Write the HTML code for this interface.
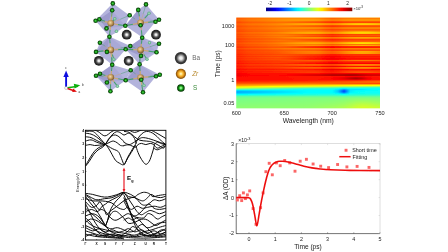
<!DOCTYPE html><html><head><meta charset="utf-8"><title>figure</title><style>html,body{margin:0;padding:0;background:#fff;overflow:hidden}svg{display:block}text{font-family:"Liberation Sans",Arial,sans-serif}</style></head><body>
<svg width="448" height="252" viewBox="0 0 448 252">
<rect width="448" height="252" fill="#fff"/>
<defs><radialGradient id="gS" cx="50%" cy="50%" r="50%"><stop offset="0" stop-color="#58e058"/><stop offset="0.35" stop-color="#22a822"/><stop offset="0.7" stop-color="#0b5c0b"/><stop offset="1" stop-color="#083408"/></radialGradient><radialGradient id="gSf" cx="50%" cy="50%" r="50%"><stop offset="0" stop-color="#b8e8c4"/><stop offset="0.5" stop-color="#7cc49a"/><stop offset="1" stop-color="#5fa488"/></radialGradient><radialGradient id="gZr" cx="42%" cy="40%" r="60%"><stop offset="0" stop-color="#f0d8a8"/><stop offset="0.5" stop-color="#c9a062"/><stop offset="1" stop-color="#7a5a30"/></radialGradient><radialGradient id="gBa" cx="50%" cy="50%" r="50%"><stop offset="0" stop-color="#ffffff"/><stop offset="0.2" stop-color="#e0e0e0"/><stop offset="0.45" stop-color="#707070"/><stop offset="0.7" stop-color="#303030"/><stop offset="1" stop-color="#1c1c1c"/></radialGradient><radialGradient id="gBaL" cx="50%" cy="50%" r="50%"><stop offset="0" stop-color="#ffffff"/><stop offset="0.25" stop-color="#e4e4e4"/><stop offset="0.5" stop-color="#949494"/><stop offset="0.72" stop-color="#404040"/><stop offset="1" stop-color="#262626"/></radialGradient><radialGradient id="gZrL" cx="50%" cy="50%" r="50%"><stop offset="0" stop-color="#fffbe0"/><stop offset="0.3" stop-color="#ffd458"/><stop offset="0.6" stop-color="#e8981c"/><stop offset="0.82" stop-color="#a8680c"/><stop offset="1" stop-color="#7a4806"/></radialGradient><radialGradient id="gSL" cx="50%" cy="50%" r="50%"><stop offset="0" stop-color="#e0ffe0"/><stop offset="0.3" stop-color="#50e050"/><stop offset="0.58" stop-color="#148a14"/><stop offset="0.82" stop-color="#064806"/><stop offset="1" stop-color="#043004"/></radialGradient><linearGradient id="h0" x1="0" y1="0" x2="1" y2="0"><stop offset="0.000" stop-color="#ff6800"/><stop offset="0.042" stop-color="#ff7200"/><stop offset="0.083" stop-color="#ff7c00"/><stop offset="0.125" stop-color="#ff7f00"/><stop offset="0.167" stop-color="#ff8300"/><stop offset="0.208" stop-color="#ff8900"/><stop offset="0.250" stop-color="#ff8f00"/><stop offset="0.292" stop-color="#ff9500"/><stop offset="0.333" stop-color="#ff9a00"/><stop offset="0.375" stop-color="#ff9e00"/><stop offset="0.417" stop-color="#ffa100"/><stop offset="0.458" stop-color="#ffa300"/><stop offset="0.500" stop-color="#ffa300"/><stop offset="0.542" stop-color="#ffa300"/><stop offset="0.583" stop-color="#ff9c00"/><stop offset="0.625" stop-color="#ff8c00"/><stop offset="0.667" stop-color="#ff8100"/><stop offset="0.708" stop-color="#ff8900"/><stop offset="0.750" stop-color="#ff9600"/><stop offset="0.792" stop-color="#ff9c00"/><stop offset="0.833" stop-color="#ff9e00"/><stop offset="0.875" stop-color="#ff9f00"/><stop offset="0.917" stop-color="#ff9f00"/><stop offset="0.958" stop-color="#ffa000"/><stop offset="1.000" stop-color="#ffa000"/></linearGradient><linearGradient id="h1" x1="0" y1="0" x2="1" y2="0"><stop offset="0.000" stop-color="#ff5700"/><stop offset="0.042" stop-color="#ff6100"/><stop offset="0.083" stop-color="#ff6a00"/><stop offset="0.125" stop-color="#ff6e00"/><stop offset="0.167" stop-color="#ff7100"/><stop offset="0.208" stop-color="#ff7500"/><stop offset="0.250" stop-color="#ff7a00"/><stop offset="0.292" stop-color="#ff7e00"/><stop offset="0.333" stop-color="#ff8300"/><stop offset="0.375" stop-color="#ff8600"/><stop offset="0.417" stop-color="#ff8800"/><stop offset="0.458" stop-color="#ff8800"/><stop offset="0.500" stop-color="#ff8800"/><stop offset="0.542" stop-color="#ff8600"/><stop offset="0.583" stop-color="#ff7e00"/><stop offset="0.625" stop-color="#ff6d00"/><stop offset="0.667" stop-color="#ff6100"/><stop offset="0.708" stop-color="#ff6800"/><stop offset="0.750" stop-color="#ff7500"/><stop offset="0.792" stop-color="#ff7a00"/><stop offset="0.833" stop-color="#ff7b00"/><stop offset="0.875" stop-color="#ff7b00"/><stop offset="0.917" stop-color="#ff7a00"/><stop offset="0.958" stop-color="#ff7a00"/><stop offset="1.000" stop-color="#ff7a00"/></linearGradient><linearGradient id="h2" x1="0" y1="0" x2="1" y2="0"><stop offset="0.000" stop-color="#ff6100"/><stop offset="0.042" stop-color="#ff6b00"/><stop offset="0.083" stop-color="#ff7500"/><stop offset="0.125" stop-color="#ff7800"/><stop offset="0.167" stop-color="#ff7d00"/><stop offset="0.208" stop-color="#ff8200"/><stop offset="0.250" stop-color="#ff8800"/><stop offset="0.292" stop-color="#ff8d00"/><stop offset="0.333" stop-color="#ff9200"/><stop offset="0.375" stop-color="#ff9700"/><stop offset="0.417" stop-color="#ff9a00"/><stop offset="0.458" stop-color="#ff9b00"/><stop offset="0.500" stop-color="#ff9b00"/><stop offset="0.542" stop-color="#ff9a00"/><stop offset="0.583" stop-color="#ff9300"/><stop offset="0.625" stop-color="#ff8300"/><stop offset="0.667" stop-color="#ff7800"/><stop offset="0.708" stop-color="#ff7f00"/><stop offset="0.750" stop-color="#ff8d00"/><stop offset="0.792" stop-color="#ff9300"/><stop offset="0.833" stop-color="#ff9400"/><stop offset="0.875" stop-color="#ff9500"/><stop offset="0.917" stop-color="#ff9500"/><stop offset="0.958" stop-color="#ff9600"/><stop offset="1.000" stop-color="#ff9600"/></linearGradient><linearGradient id="h3" x1="0" y1="0" x2="1" y2="0"><stop offset="0.000" stop-color="#ff5f00"/><stop offset="0.042" stop-color="#ff6900"/><stop offset="0.083" stop-color="#ff7300"/><stop offset="0.125" stop-color="#ff7700"/><stop offset="0.167" stop-color="#ff7b00"/><stop offset="0.208" stop-color="#ff8000"/><stop offset="0.250" stop-color="#ff8600"/><stop offset="0.292" stop-color="#ff8c00"/><stop offset="0.333" stop-color="#ff9100"/><stop offset="0.375" stop-color="#ff9500"/><stop offset="0.417" stop-color="#ff9800"/><stop offset="0.458" stop-color="#ff9900"/><stop offset="0.500" stop-color="#ff9a00"/><stop offset="0.542" stop-color="#ff9900"/><stop offset="0.583" stop-color="#ff9200"/><stop offset="0.625" stop-color="#ff8200"/><stop offset="0.667" stop-color="#ff7700"/><stop offset="0.708" stop-color="#ff7e00"/><stop offset="0.750" stop-color="#ff8c00"/><stop offset="0.792" stop-color="#ff9200"/><stop offset="0.833" stop-color="#ff9300"/><stop offset="0.875" stop-color="#ff9400"/><stop offset="0.917" stop-color="#ff9400"/><stop offset="0.958" stop-color="#ff9500"/><stop offset="1.000" stop-color="#ff9500"/></linearGradient><linearGradient id="h4" x1="0" y1="0" x2="1" y2="0"><stop offset="0.000" stop-color="#ff5200"/><stop offset="0.042" stop-color="#ff5d00"/><stop offset="0.083" stop-color="#ff6600"/><stop offset="0.125" stop-color="#ff6a00"/><stop offset="0.167" stop-color="#ff6e00"/><stop offset="0.208" stop-color="#ff7300"/><stop offset="0.250" stop-color="#ff7800"/><stop offset="0.292" stop-color="#ff7c00"/><stop offset="0.333" stop-color="#ff7c00"/><stop offset="0.375" stop-color="#ff7a00"/><stop offset="0.417" stop-color="#ff7600"/><stop offset="0.458" stop-color="#ff7000"/><stop offset="0.500" stop-color="#ff6b00"/><stop offset="0.542" stop-color="#ff6500"/><stop offset="0.583" stop-color="#ff5d00"/><stop offset="0.625" stop-color="#ff4c00"/><stop offset="0.667" stop-color="#ff4100"/><stop offset="0.708" stop-color="#ff4800"/><stop offset="0.750" stop-color="#ff5500"/><stop offset="0.792" stop-color="#ff5b00"/><stop offset="0.833" stop-color="#ff5c00"/><stop offset="0.875" stop-color="#ff5c00"/><stop offset="0.917" stop-color="#ff5c00"/><stop offset="0.958" stop-color="#ff5c00"/><stop offset="1.000" stop-color="#ff5c00"/></linearGradient><linearGradient id="h5" x1="0" y1="0" x2="1" y2="0"><stop offset="0.000" stop-color="#ff4700"/><stop offset="0.042" stop-color="#ff5100"/><stop offset="0.083" stop-color="#ff5b00"/><stop offset="0.125" stop-color="#ff5e00"/><stop offset="0.167" stop-color="#ff6200"/><stop offset="0.208" stop-color="#ff6600"/><stop offset="0.250" stop-color="#ff6a00"/><stop offset="0.292" stop-color="#ff6d00"/><stop offset="0.333" stop-color="#ff6d00"/><stop offset="0.375" stop-color="#ff6a00"/><stop offset="0.417" stop-color="#ff6500"/><stop offset="0.458" stop-color="#ff5f00"/><stop offset="0.500" stop-color="#ff5800"/><stop offset="0.542" stop-color="#ff5200"/><stop offset="0.583" stop-color="#ff4900"/><stop offset="0.625" stop-color="#ff3800"/><stop offset="0.667" stop-color="#ff2c00"/><stop offset="0.708" stop-color="#ff3200"/><stop offset="0.750" stop-color="#ff3e00"/><stop offset="0.792" stop-color="#ff4400"/><stop offset="0.833" stop-color="#ff4400"/><stop offset="0.875" stop-color="#ff4400"/><stop offset="0.917" stop-color="#ff4300"/><stop offset="0.958" stop-color="#ff4300"/><stop offset="1.000" stop-color="#ff4200"/></linearGradient><linearGradient id="h6" x1="0" y1="0" x2="1" y2="0"><stop offset="0.000" stop-color="#ff5600"/><stop offset="0.042" stop-color="#ff6100"/><stop offset="0.083" stop-color="#ff6a00"/><stop offset="0.125" stop-color="#ff6e00"/><stop offset="0.167" stop-color="#ff7200"/><stop offset="0.208" stop-color="#ff7600"/><stop offset="0.250" stop-color="#ff7c00"/><stop offset="0.292" stop-color="#ff8200"/><stop offset="0.333" stop-color="#ff8900"/><stop offset="0.375" stop-color="#ff9100"/><stop offset="0.417" stop-color="#ff9800"/><stop offset="0.458" stop-color="#ff9d00"/><stop offset="0.500" stop-color="#ffa000"/><stop offset="0.542" stop-color="#ffa200"/><stop offset="0.583" stop-color="#ff9b00"/><stop offset="0.625" stop-color="#ff8b00"/><stop offset="0.667" stop-color="#ff8100"/><stop offset="0.708" stop-color="#ff8c00"/><stop offset="0.750" stop-color="#ffa000"/><stop offset="0.792" stop-color="#ffb000"/><stop offset="0.833" stop-color="#ffba00"/><stop offset="0.875" stop-color="#ffbf00"/><stop offset="0.917" stop-color="#ffbc00"/><stop offset="0.958" stop-color="#ffb300"/><stop offset="1.000" stop-color="#ffa900"/></linearGradient><linearGradient id="h7" x1="0" y1="0" x2="1" y2="0"><stop offset="0.000" stop-color="#ff5d00"/><stop offset="0.042" stop-color="#ff6700"/><stop offset="0.083" stop-color="#ff7100"/><stop offset="0.125" stop-color="#ff7500"/><stop offset="0.167" stop-color="#ff7900"/><stop offset="0.208" stop-color="#ff7e00"/><stop offset="0.250" stop-color="#ff8400"/><stop offset="0.292" stop-color="#ff8b00"/><stop offset="0.333" stop-color="#ff9300"/><stop offset="0.375" stop-color="#ff9b00"/><stop offset="0.417" stop-color="#ffa300"/><stop offset="0.458" stop-color="#ffa800"/><stop offset="0.500" stop-color="#ffac00"/><stop offset="0.542" stop-color="#ffae00"/><stop offset="0.583" stop-color="#ffa800"/><stop offset="0.625" stop-color="#ff9900"/><stop offset="0.667" stop-color="#ff8f00"/><stop offset="0.708" stop-color="#ff9b00"/><stop offset="0.750" stop-color="#ffaf00"/><stop offset="0.792" stop-color="#ffbf00"/><stop offset="0.833" stop-color="#ffca00"/><stop offset="0.875" stop-color="#ffcf00"/><stop offset="0.917" stop-color="#ffcd00"/><stop offset="0.958" stop-color="#ffc400"/><stop offset="1.000" stop-color="#ffba00"/></linearGradient><linearGradient id="h8" x1="0" y1="0" x2="1" y2="0"><stop offset="0.000" stop-color="#ff5100"/><stop offset="0.042" stop-color="#ff5b00"/><stop offset="0.083" stop-color="#ff6500"/><stop offset="0.125" stop-color="#ff6900"/><stop offset="0.167" stop-color="#ff6d00"/><stop offset="0.208" stop-color="#ff7200"/><stop offset="0.250" stop-color="#ff7800"/><stop offset="0.292" stop-color="#ff7c00"/><stop offset="0.333" stop-color="#ff7d00"/><stop offset="0.375" stop-color="#ff7b00"/><stop offset="0.417" stop-color="#ff7700"/><stop offset="0.458" stop-color="#ff7200"/><stop offset="0.500" stop-color="#ff6c00"/><stop offset="0.542" stop-color="#ff6700"/><stop offset="0.583" stop-color="#ff5f00"/><stop offset="0.625" stop-color="#ff4e00"/><stop offset="0.667" stop-color="#ff4300"/><stop offset="0.708" stop-color="#ff4a00"/><stop offset="0.750" stop-color="#ff5700"/><stop offset="0.792" stop-color="#ff5d00"/><stop offset="0.833" stop-color="#ff5f00"/><stop offset="0.875" stop-color="#ff5f00"/><stop offset="0.917" stop-color="#ff5f00"/><stop offset="0.958" stop-color="#ff6000"/><stop offset="1.000" stop-color="#ff6000"/></linearGradient><linearGradient id="h9" x1="0" y1="0" x2="1" y2="0"><stop offset="0.000" stop-color="#ff4800"/><stop offset="0.042" stop-color="#ff5200"/><stop offset="0.083" stop-color="#ff5c00"/><stop offset="0.125" stop-color="#ff5f00"/><stop offset="0.167" stop-color="#ff6300"/><stop offset="0.208" stop-color="#ff6800"/><stop offset="0.250" stop-color="#ff6c00"/><stop offset="0.292" stop-color="#ff7000"/><stop offset="0.333" stop-color="#ff7000"/><stop offset="0.375" stop-color="#ff6e00"/><stop offset="0.417" stop-color="#ff6a00"/><stop offset="0.458" stop-color="#ff6400"/><stop offset="0.500" stop-color="#ff5d00"/><stop offset="0.542" stop-color="#ff5800"/><stop offset="0.583" stop-color="#ff4f00"/><stop offset="0.625" stop-color="#ff3e00"/><stop offset="0.667" stop-color="#ff3200"/><stop offset="0.708" stop-color="#ff3900"/><stop offset="0.750" stop-color="#ff4500"/><stop offset="0.792" stop-color="#ff4b00"/><stop offset="0.833" stop-color="#ff4c00"/><stop offset="0.875" stop-color="#ff4c00"/><stop offset="0.917" stop-color="#ff4c00"/><stop offset="0.958" stop-color="#ff4b00"/><stop offset="1.000" stop-color="#ff4b00"/></linearGradient><linearGradient id="h10" x1="0" y1="0" x2="1" y2="0"><stop offset="0.000" stop-color="#ff5000"/><stop offset="0.042" stop-color="#ff5b00"/><stop offset="0.083" stop-color="#ff6400"/><stop offset="0.125" stop-color="#ff6800"/><stop offset="0.167" stop-color="#ff6c00"/><stop offset="0.208" stop-color="#ff7100"/><stop offset="0.250" stop-color="#ff7600"/><stop offset="0.292" stop-color="#ff7c00"/><stop offset="0.333" stop-color="#ff8100"/><stop offset="0.375" stop-color="#ff8500"/><stop offset="0.417" stop-color="#ff8700"/><stop offset="0.458" stop-color="#ff8800"/><stop offset="0.500" stop-color="#ff8800"/><stop offset="0.542" stop-color="#ff8700"/><stop offset="0.583" stop-color="#ff8000"/><stop offset="0.625" stop-color="#ff6f00"/><stop offset="0.667" stop-color="#ff6300"/><stop offset="0.708" stop-color="#ff6a00"/><stop offset="0.750" stop-color="#ff7700"/><stop offset="0.792" stop-color="#ff7d00"/><stop offset="0.833" stop-color="#ff7e00"/><stop offset="0.875" stop-color="#ff7e00"/><stop offset="0.917" stop-color="#ff7e00"/><stop offset="0.958" stop-color="#ff7e00"/><stop offset="1.000" stop-color="#ff7e00"/></linearGradient><linearGradient id="h11" x1="0" y1="0" x2="1" y2="0"><stop offset="0.000" stop-color="#ff5300"/><stop offset="0.042" stop-color="#ff5d00"/><stop offset="0.083" stop-color="#ff6700"/><stop offset="0.125" stop-color="#ff6b00"/><stop offset="0.167" stop-color="#ff6f00"/><stop offset="0.208" stop-color="#ff7400"/><stop offset="0.250" stop-color="#ff7a00"/><stop offset="0.292" stop-color="#ff8000"/><stop offset="0.333" stop-color="#ff8500"/><stop offset="0.375" stop-color="#ff8900"/><stop offset="0.417" stop-color="#ff8c00"/><stop offset="0.458" stop-color="#ff8d00"/><stop offset="0.500" stop-color="#ff8e00"/><stop offset="0.542" stop-color="#ff8d00"/><stop offset="0.583" stop-color="#ff8600"/><stop offset="0.625" stop-color="#ff7500"/><stop offset="0.667" stop-color="#ff6a00"/><stop offset="0.708" stop-color="#ff7100"/><stop offset="0.750" stop-color="#ff7e00"/><stop offset="0.792" stop-color="#ff8400"/><stop offset="0.833" stop-color="#ff8500"/><stop offset="0.875" stop-color="#ff8600"/><stop offset="0.917" stop-color="#ff8600"/><stop offset="0.958" stop-color="#ff8600"/><stop offset="1.000" stop-color="#ff8600"/></linearGradient><linearGradient id="h12" x1="0" y1="0" x2="1" y2="0"><stop offset="0.000" stop-color="#ff4b00"/><stop offset="0.042" stop-color="#ff5500"/><stop offset="0.083" stop-color="#ff5f00"/><stop offset="0.125" stop-color="#ff6200"/><stop offset="0.167" stop-color="#ff6700"/><stop offset="0.208" stop-color="#ff6c00"/><stop offset="0.250" stop-color="#ff7100"/><stop offset="0.292" stop-color="#ff7600"/><stop offset="0.333" stop-color="#ff7800"/><stop offset="0.375" stop-color="#ff7700"/><stop offset="0.417" stop-color="#ff7500"/><stop offset="0.458" stop-color="#ff7100"/><stop offset="0.500" stop-color="#ff6c00"/><stop offset="0.542" stop-color="#ff6800"/><stop offset="0.583" stop-color="#ff6000"/><stop offset="0.625" stop-color="#ff4f00"/><stop offset="0.667" stop-color="#ff4400"/><stop offset="0.708" stop-color="#ff4b00"/><stop offset="0.750" stop-color="#ff5700"/><stop offset="0.792" stop-color="#ff5d00"/><stop offset="0.833" stop-color="#ff5f00"/><stop offset="0.875" stop-color="#ff5f00"/><stop offset="0.917" stop-color="#ff5f00"/><stop offset="0.958" stop-color="#ff5f00"/><stop offset="1.000" stop-color="#ff5f00"/></linearGradient><linearGradient id="h13" x1="0" y1="0" x2="1" y2="0"><stop offset="0.000" stop-color="#ff4700"/><stop offset="0.042" stop-color="#ff5200"/><stop offset="0.083" stop-color="#ff5b00"/><stop offset="0.125" stop-color="#ff5f00"/><stop offset="0.167" stop-color="#ff6300"/><stop offset="0.208" stop-color="#ff6700"/><stop offset="0.250" stop-color="#ff6c00"/><stop offset="0.292" stop-color="#ff7100"/><stop offset="0.333" stop-color="#ff7600"/><stop offset="0.375" stop-color="#ff7a00"/><stop offset="0.417" stop-color="#ff7c00"/><stop offset="0.458" stop-color="#ff7c00"/><stop offset="0.500" stop-color="#ff7c00"/><stop offset="0.542" stop-color="#ff7a00"/><stop offset="0.583" stop-color="#ff7300"/><stop offset="0.625" stop-color="#ff6200"/><stop offset="0.667" stop-color="#ff5600"/><stop offset="0.708" stop-color="#ff5c00"/><stop offset="0.750" stop-color="#ff6900"/><stop offset="0.792" stop-color="#ff6e00"/><stop offset="0.833" stop-color="#ff6f00"/><stop offset="0.875" stop-color="#ff6f00"/><stop offset="0.917" stop-color="#ff6f00"/><stop offset="0.958" stop-color="#ff6f00"/><stop offset="1.000" stop-color="#ff6e00"/></linearGradient><linearGradient id="h14" x1="0" y1="0" x2="1" y2="0"><stop offset="0.000" stop-color="#ff4400"/><stop offset="0.042" stop-color="#ff4e00"/><stop offset="0.083" stop-color="#ff5700"/><stop offset="0.125" stop-color="#ff5b00"/><stop offset="0.167" stop-color="#ff5f00"/><stop offset="0.208" stop-color="#ff6200"/><stop offset="0.250" stop-color="#ff6700"/><stop offset="0.292" stop-color="#ff6d00"/><stop offset="0.333" stop-color="#ff7400"/><stop offset="0.375" stop-color="#ff7c00"/><stop offset="0.417" stop-color="#ff8300"/><stop offset="0.458" stop-color="#ff8800"/><stop offset="0.500" stop-color="#ff8c00"/><stop offset="0.542" stop-color="#ff8d00"/><stop offset="0.583" stop-color="#ff8600"/><stop offset="0.625" stop-color="#ff7500"/><stop offset="0.667" stop-color="#ff6b00"/><stop offset="0.708" stop-color="#ff7600"/><stop offset="0.750" stop-color="#ff8b00"/><stop offset="0.792" stop-color="#ff9c00"/><stop offset="0.833" stop-color="#ffa800"/><stop offset="0.875" stop-color="#ffad00"/><stop offset="0.917" stop-color="#ffa900"/><stop offset="0.958" stop-color="#ff9d00"/><stop offset="1.000" stop-color="#ff9000"/></linearGradient><linearGradient id="h15" x1="0" y1="0" x2="1" y2="0"><stop offset="0.000" stop-color="#ff5600"/><stop offset="0.042" stop-color="#ff6000"/><stop offset="0.083" stop-color="#ff6a00"/><stop offset="0.125" stop-color="#ff6e00"/><stop offset="0.167" stop-color="#ff7200"/><stop offset="0.208" stop-color="#ff7800"/><stop offset="0.250" stop-color="#ff7e00"/><stop offset="0.292" stop-color="#ff8600"/><stop offset="0.333" stop-color="#ff8f00"/><stop offset="0.375" stop-color="#ff9800"/><stop offset="0.417" stop-color="#ffa100"/><stop offset="0.458" stop-color="#ffa700"/><stop offset="0.500" stop-color="#ffac00"/><stop offset="0.542" stop-color="#ffaf00"/><stop offset="0.583" stop-color="#ffa900"/><stop offset="0.625" stop-color="#ff9900"/><stop offset="0.667" stop-color="#ff9000"/><stop offset="0.708" stop-color="#ff9c00"/><stop offset="0.750" stop-color="#ffb200"/><stop offset="0.792" stop-color="#ffc500"/><stop offset="0.833" stop-color="#ffd200"/><stop offset="0.875" stop-color="#ffd800"/><stop offset="0.917" stop-color="#ffd500"/><stop offset="0.958" stop-color="#ffcb00"/><stop offset="1.000" stop-color="#ffbf00"/></linearGradient><linearGradient id="h16" x1="0" y1="0" x2="1" y2="0"><stop offset="0.000" stop-color="#ff5100"/><stop offset="0.042" stop-color="#ff5b00"/><stop offset="0.083" stop-color="#ff6500"/><stop offset="0.125" stop-color="#ff6900"/><stop offset="0.167" stop-color="#ff6d00"/><stop offset="0.208" stop-color="#ff7300"/><stop offset="0.250" stop-color="#ff7900"/><stop offset="0.292" stop-color="#ff8000"/><stop offset="0.333" stop-color="#ff8800"/><stop offset="0.375" stop-color="#ff9200"/><stop offset="0.417" stop-color="#ff9a00"/><stop offset="0.458" stop-color="#ffa000"/><stop offset="0.500" stop-color="#ffa500"/><stop offset="0.542" stop-color="#ffa700"/><stop offset="0.583" stop-color="#ffa100"/><stop offset="0.625" stop-color="#ff9100"/><stop offset="0.667" stop-color="#ff8800"/><stop offset="0.708" stop-color="#ff9400"/><stop offset="0.750" stop-color="#ffaa00"/><stop offset="0.792" stop-color="#ffbc00"/><stop offset="0.833" stop-color="#ffc800"/><stop offset="0.875" stop-color="#ffce00"/><stop offset="0.917" stop-color="#ffcb00"/><stop offset="0.958" stop-color="#ffc100"/><stop offset="1.000" stop-color="#ffb500"/></linearGradient><linearGradient id="h17" x1="0" y1="0" x2="1" y2="0"><stop offset="0.000" stop-color="#ff4500"/><stop offset="0.042" stop-color="#ff4f00"/><stop offset="0.083" stop-color="#ff5900"/><stop offset="0.125" stop-color="#ff5d00"/><stop offset="0.167" stop-color="#ff6100"/><stop offset="0.208" stop-color="#ff6700"/><stop offset="0.250" stop-color="#ff6d00"/><stop offset="0.292" stop-color="#ff7000"/><stop offset="0.333" stop-color="#ff7000"/><stop offset="0.375" stop-color="#ff6b00"/><stop offset="0.417" stop-color="#ff6400"/><stop offset="0.458" stop-color="#ff5b00"/><stop offset="0.500" stop-color="#ff5300"/><stop offset="0.542" stop-color="#ff4c00"/><stop offset="0.583" stop-color="#ff4300"/><stop offset="0.625" stop-color="#ff3300"/><stop offset="0.667" stop-color="#ff2700"/><stop offset="0.708" stop-color="#ff2e00"/><stop offset="0.750" stop-color="#ff3b00"/><stop offset="0.792" stop-color="#ff4100"/><stop offset="0.833" stop-color="#ff4300"/><stop offset="0.875" stop-color="#ff4300"/><stop offset="0.917" stop-color="#ff4300"/><stop offset="0.958" stop-color="#ff4400"/><stop offset="1.000" stop-color="#ff4400"/></linearGradient><linearGradient id="h18" x1="0" y1="0" x2="1" y2="0"><stop offset="0.000" stop-color="#ff4e00"/><stop offset="0.042" stop-color="#ff5800"/><stop offset="0.083" stop-color="#ff6100"/><stop offset="0.125" stop-color="#ff6500"/><stop offset="0.167" stop-color="#ff6a00"/><stop offset="0.208" stop-color="#ff7100"/><stop offset="0.250" stop-color="#ff7800"/><stop offset="0.292" stop-color="#ff7d00"/><stop offset="0.333" stop-color="#ff7d00"/><stop offset="0.375" stop-color="#ff7900"/><stop offset="0.417" stop-color="#ff7300"/><stop offset="0.458" stop-color="#ff6b00"/><stop offset="0.500" stop-color="#ff6300"/><stop offset="0.542" stop-color="#ff5d00"/><stop offset="0.583" stop-color="#ff5400"/><stop offset="0.625" stop-color="#ff4400"/><stop offset="0.667" stop-color="#ff3900"/><stop offset="0.708" stop-color="#ff4100"/><stop offset="0.750" stop-color="#ff4e00"/><stop offset="0.792" stop-color="#ff5500"/><stop offset="0.833" stop-color="#ff5700"/><stop offset="0.875" stop-color="#ff5800"/><stop offset="0.917" stop-color="#ff5900"/><stop offset="0.958" stop-color="#ff5a00"/><stop offset="1.000" stop-color="#ff5b00"/></linearGradient><linearGradient id="h19" x1="0" y1="0" x2="1" y2="0"><stop offset="0.000" stop-color="#ff4300"/><stop offset="0.042" stop-color="#ff4e00"/><stop offset="0.083" stop-color="#ff5700"/><stop offset="0.125" stop-color="#ff5b00"/><stop offset="0.167" stop-color="#ff6000"/><stop offset="0.208" stop-color="#ff6500"/><stop offset="0.250" stop-color="#ff6c00"/><stop offset="0.292" stop-color="#ff6f00"/><stop offset="0.333" stop-color="#ff6f00"/><stop offset="0.375" stop-color="#ff6b00"/><stop offset="0.417" stop-color="#ff6400"/><stop offset="0.458" stop-color="#ff5b00"/><stop offset="0.500" stop-color="#ff5200"/><stop offset="0.542" stop-color="#ff4c00"/><stop offset="0.583" stop-color="#ff4300"/><stop offset="0.625" stop-color="#ff3200"/><stop offset="0.667" stop-color="#ff2700"/><stop offset="0.708" stop-color="#ff2e00"/><stop offset="0.750" stop-color="#ff3b00"/><stop offset="0.792" stop-color="#ff4100"/><stop offset="0.833" stop-color="#ff4200"/><stop offset="0.875" stop-color="#ff4300"/><stop offset="0.917" stop-color="#ff4300"/><stop offset="0.958" stop-color="#ff4300"/><stop offset="1.000" stop-color="#ff4400"/></linearGradient><linearGradient id="h20" x1="0" y1="0" x2="1" y2="0"><stop offset="0.000" stop-color="#ff4d00"/><stop offset="0.042" stop-color="#ff5700"/><stop offset="0.083" stop-color="#ff6000"/><stop offset="0.125" stop-color="#ff6400"/><stop offset="0.167" stop-color="#ff6900"/><stop offset="0.208" stop-color="#ff6f00"/><stop offset="0.250" stop-color="#ff7500"/><stop offset="0.292" stop-color="#ff7c00"/><stop offset="0.333" stop-color="#ff8300"/><stop offset="0.375" stop-color="#ff8a00"/><stop offset="0.417" stop-color="#ff9000"/><stop offset="0.458" stop-color="#ff9400"/><stop offset="0.500" stop-color="#ff9600"/><stop offset="0.542" stop-color="#ff9700"/><stop offset="0.583" stop-color="#ff9100"/><stop offset="0.625" stop-color="#ff8100"/><stop offset="0.667" stop-color="#ff7600"/><stop offset="0.708" stop-color="#ff8000"/><stop offset="0.750" stop-color="#ff9100"/><stop offset="0.792" stop-color="#ff9e00"/><stop offset="0.833" stop-color="#ffa500"/><stop offset="0.875" stop-color="#ffa800"/><stop offset="0.917" stop-color="#ffa700"/><stop offset="0.958" stop-color="#ffa200"/><stop offset="1.000" stop-color="#ff9c00"/></linearGradient><linearGradient id="h21" x1="0" y1="0" x2="1" y2="0"><stop offset="0.000" stop-color="#ff3e00"/><stop offset="0.042" stop-color="#ff4800"/><stop offset="0.083" stop-color="#ff5200"/><stop offset="0.125" stop-color="#ff5600"/><stop offset="0.167" stop-color="#ff5a00"/><stop offset="0.208" stop-color="#ff5e00"/><stop offset="0.250" stop-color="#ff6400"/><stop offset="0.292" stop-color="#ff6900"/><stop offset="0.333" stop-color="#ff7000"/><stop offset="0.375" stop-color="#ff7600"/><stop offset="0.417" stop-color="#ff7b00"/><stop offset="0.458" stop-color="#ff7e00"/><stop offset="0.500" stop-color="#ff7f00"/><stop offset="0.542" stop-color="#ff7f00"/><stop offset="0.583" stop-color="#ff7800"/><stop offset="0.625" stop-color="#ff6700"/><stop offset="0.667" stop-color="#ff5c00"/><stop offset="0.708" stop-color="#ff6500"/><stop offset="0.750" stop-color="#ff7500"/><stop offset="0.792" stop-color="#ff8100"/><stop offset="0.833" stop-color="#ff8700"/><stop offset="0.875" stop-color="#ff8a00"/><stop offset="0.917" stop-color="#ff8700"/><stop offset="0.958" stop-color="#ff8200"/><stop offset="1.000" stop-color="#ff7b00"/></linearGradient><linearGradient id="h22" x1="0" y1="0" x2="1" y2="0"><stop offset="0.000" stop-color="#ff3c00"/><stop offset="0.042" stop-color="#ff4600"/><stop offset="0.083" stop-color="#ff5000"/><stop offset="0.125" stop-color="#ff5400"/><stop offset="0.167" stop-color="#ff5800"/><stop offset="0.208" stop-color="#ff5e00"/><stop offset="0.250" stop-color="#ff6400"/><stop offset="0.292" stop-color="#ff6700"/><stop offset="0.333" stop-color="#ff6800"/><stop offset="0.375" stop-color="#ff6500"/><stop offset="0.417" stop-color="#ff5f00"/><stop offset="0.458" stop-color="#ff5800"/><stop offset="0.500" stop-color="#ff5000"/><stop offset="0.542" stop-color="#ff4a00"/><stop offset="0.583" stop-color="#ff4100"/><stop offset="0.625" stop-color="#ff3000"/><stop offset="0.667" stop-color="#ff2400"/><stop offset="0.708" stop-color="#ff2b00"/><stop offset="0.750" stop-color="#ff3800"/><stop offset="0.792" stop-color="#ff3e00"/><stop offset="0.833" stop-color="#ff3f00"/><stop offset="0.875" stop-color="#ff3f00"/><stop offset="0.917" stop-color="#ff3f00"/><stop offset="0.958" stop-color="#ff3f00"/><stop offset="1.000" stop-color="#ff3f00"/></linearGradient><linearGradient id="h23" x1="0" y1="0" x2="1" y2="0"><stop offset="0.000" stop-color="#ff4400"/><stop offset="0.042" stop-color="#ff4e00"/><stop offset="0.083" stop-color="#ff5800"/><stop offset="0.125" stop-color="#ff5c00"/><stop offset="0.167" stop-color="#ff6100"/><stop offset="0.208" stop-color="#ff6700"/><stop offset="0.250" stop-color="#ff6e00"/><stop offset="0.292" stop-color="#ff7300"/><stop offset="0.333" stop-color="#ff7400"/><stop offset="0.375" stop-color="#ff7100"/><stop offset="0.417" stop-color="#ff6c00"/><stop offset="0.458" stop-color="#ff6500"/><stop offset="0.500" stop-color="#ff5f00"/><stop offset="0.542" stop-color="#ff5900"/><stop offset="0.583" stop-color="#ff5100"/><stop offset="0.625" stop-color="#ff4100"/><stop offset="0.667" stop-color="#ff3500"/><stop offset="0.708" stop-color="#ff3c00"/><stop offset="0.750" stop-color="#ff4a00"/><stop offset="0.792" stop-color="#ff5000"/><stop offset="0.833" stop-color="#ff5200"/><stop offset="0.875" stop-color="#ff5200"/><stop offset="0.917" stop-color="#ff5300"/><stop offset="0.958" stop-color="#ff5300"/><stop offset="1.000" stop-color="#ff5400"/></linearGradient><linearGradient id="h24" x1="0" y1="0" x2="1" y2="0"><stop offset="0.000" stop-color="#ff3b00"/><stop offset="0.042" stop-color="#ff4500"/><stop offset="0.083" stop-color="#ff4f00"/><stop offset="0.125" stop-color="#ff5300"/><stop offset="0.167" stop-color="#ff5700"/><stop offset="0.208" stop-color="#ff5c00"/><stop offset="0.250" stop-color="#ff6200"/><stop offset="0.292" stop-color="#ff6700"/><stop offset="0.333" stop-color="#ff6c00"/><stop offset="0.375" stop-color="#ff7000"/><stop offset="0.417" stop-color="#ff7300"/><stop offset="0.458" stop-color="#ff7300"/><stop offset="0.500" stop-color="#ff7300"/><stop offset="0.542" stop-color="#ff7100"/><stop offset="0.583" stop-color="#ff6a00"/><stop offset="0.625" stop-color="#ff5800"/><stop offset="0.667" stop-color="#ff4c00"/><stop offset="0.708" stop-color="#ff5300"/><stop offset="0.750" stop-color="#ff5f00"/><stop offset="0.792" stop-color="#ff6500"/><stop offset="0.833" stop-color="#ff6500"/><stop offset="0.875" stop-color="#ff6500"/><stop offset="0.917" stop-color="#ff6500"/><stop offset="0.958" stop-color="#ff6500"/><stop offset="1.000" stop-color="#ff6500"/></linearGradient><linearGradient id="h25" x1="0" y1="0" x2="1" y2="0"><stop offset="0.000" stop-color="#ff4600"/><stop offset="0.042" stop-color="#ff5000"/><stop offset="0.083" stop-color="#ff5a00"/><stop offset="0.125" stop-color="#ff5e00"/><stop offset="0.167" stop-color="#ff6200"/><stop offset="0.208" stop-color="#ff6800"/><stop offset="0.250" stop-color="#ff6e00"/><stop offset="0.292" stop-color="#ff7600"/><stop offset="0.333" stop-color="#ff7f00"/><stop offset="0.375" stop-color="#ff8900"/><stop offset="0.417" stop-color="#ff9200"/><stop offset="0.458" stop-color="#ff9900"/><stop offset="0.500" stop-color="#ff9f00"/><stop offset="0.542" stop-color="#ffa100"/><stop offset="0.583" stop-color="#ff9b00"/><stop offset="0.625" stop-color="#ff8b00"/><stop offset="0.667" stop-color="#ff8200"/><stop offset="0.708" stop-color="#ff8f00"/><stop offset="0.750" stop-color="#ffa600"/><stop offset="0.792" stop-color="#ffba00"/><stop offset="0.833" stop-color="#ffc800"/><stop offset="0.875" stop-color="#ffcf00"/><stop offset="0.917" stop-color="#ffcb00"/><stop offset="0.958" stop-color="#ffbf00"/><stop offset="1.000" stop-color="#ffb100"/></linearGradient><linearGradient id="h26" x1="0" y1="0" x2="1" y2="0"><stop offset="0.000" stop-color="#ff4d00"/><stop offset="0.042" stop-color="#ff5700"/><stop offset="0.083" stop-color="#ff6100"/><stop offset="0.125" stop-color="#ff6500"/><stop offset="0.167" stop-color="#ff6a00"/><stop offset="0.208" stop-color="#ff7100"/><stop offset="0.250" stop-color="#ff7800"/><stop offset="0.292" stop-color="#ff8000"/><stop offset="0.333" stop-color="#ff8a00"/><stop offset="0.375" stop-color="#ff9500"/><stop offset="0.417" stop-color="#ff9e00"/><stop offset="0.458" stop-color="#ffa600"/><stop offset="0.500" stop-color="#ffac00"/><stop offset="0.542" stop-color="#ffaf00"/><stop offset="0.583" stop-color="#ffaa00"/><stop offset="0.625" stop-color="#ff9a00"/><stop offset="0.667" stop-color="#ff9200"/><stop offset="0.708" stop-color="#ff9f00"/><stop offset="0.750" stop-color="#ffb600"/><stop offset="0.792" stop-color="#ffcb00"/><stop offset="0.833" stop-color="#ffda00"/><stop offset="0.875" stop-color="#ffe100"/><stop offset="0.917" stop-color="#ffdd00"/><stop offset="0.958" stop-color="#ffd200"/><stop offset="1.000" stop-color="#ffc400"/></linearGradient><linearGradient id="h27" x1="0" y1="0" x2="1" y2="0"><stop offset="0.000" stop-color="#ff3f00"/><stop offset="0.042" stop-color="#ff4a00"/><stop offset="0.083" stop-color="#ff5300"/><stop offset="0.125" stop-color="#ff5700"/><stop offset="0.167" stop-color="#ff5c00"/><stop offset="0.208" stop-color="#ff6200"/><stop offset="0.250" stop-color="#ff6800"/><stop offset="0.292" stop-color="#ff6e00"/><stop offset="0.333" stop-color="#ff7400"/><stop offset="0.375" stop-color="#ff7900"/><stop offset="0.417" stop-color="#ff7c00"/><stop offset="0.458" stop-color="#ff7d00"/><stop offset="0.500" stop-color="#ff7d00"/><stop offset="0.542" stop-color="#ff7c00"/><stop offset="0.583" stop-color="#ff7500"/><stop offset="0.625" stop-color="#ff6400"/><stop offset="0.667" stop-color="#ff5800"/><stop offset="0.708" stop-color="#ff5f00"/><stop offset="0.750" stop-color="#ff6c00"/><stop offset="0.792" stop-color="#ff7200"/><stop offset="0.833" stop-color="#ff7300"/><stop offset="0.875" stop-color="#ff7300"/><stop offset="0.917" stop-color="#ff7400"/><stop offset="0.958" stop-color="#ff7400"/><stop offset="1.000" stop-color="#ff7400"/></linearGradient><linearGradient id="h28" x1="0" y1="0" x2="1" y2="0"><stop offset="0.000" stop-color="#ff4200"/><stop offset="0.042" stop-color="#ff4c00"/><stop offset="0.083" stop-color="#ff5600"/><stop offset="0.125" stop-color="#ff5a00"/><stop offset="0.167" stop-color="#ff5f00"/><stop offset="0.208" stop-color="#ff6400"/><stop offset="0.250" stop-color="#ff6b00"/><stop offset="0.292" stop-color="#ff7200"/><stop offset="0.333" stop-color="#ff7a00"/><stop offset="0.375" stop-color="#ff8300"/><stop offset="0.417" stop-color="#ff8a00"/><stop offset="0.458" stop-color="#ff9000"/><stop offset="0.500" stop-color="#ff9400"/><stop offset="0.542" stop-color="#ff9500"/><stop offset="0.583" stop-color="#ff8f00"/><stop offset="0.625" stop-color="#ff7f00"/><stop offset="0.667" stop-color="#ff7500"/><stop offset="0.708" stop-color="#ff8000"/><stop offset="0.750" stop-color="#ff9400"/><stop offset="0.792" stop-color="#ffa400"/><stop offset="0.833" stop-color="#ffaf00"/><stop offset="0.875" stop-color="#ffb400"/><stop offset="0.917" stop-color="#ffb100"/><stop offset="0.958" stop-color="#ffa900"/><stop offset="1.000" stop-color="#ff9f00"/></linearGradient><linearGradient id="h29" x1="0" y1="0" x2="1" y2="0"><stop offset="0.000" stop-color="#ff3600"/><stop offset="0.042" stop-color="#ff4000"/><stop offset="0.083" stop-color="#ff4a00"/><stop offset="0.125" stop-color="#ff4e00"/><stop offset="0.167" stop-color="#ff5200"/><stop offset="0.208" stop-color="#ff5800"/><stop offset="0.250" stop-color="#ff5e00"/><stop offset="0.292" stop-color="#ff6200"/><stop offset="0.333" stop-color="#ff6000"/><stop offset="0.375" stop-color="#ff5a00"/><stop offset="0.417" stop-color="#ff5200"/><stop offset="0.458" stop-color="#ff4700"/><stop offset="0.500" stop-color="#ff3d00"/><stop offset="0.542" stop-color="#ff3600"/><stop offset="0.583" stop-color="#ff2c00"/><stop offset="0.625" stop-color="#ff1c00"/><stop offset="0.667" stop-color="#ff1000"/><stop offset="0.708" stop-color="#ff1700"/><stop offset="0.750" stop-color="#ff2400"/><stop offset="0.792" stop-color="#ff2a00"/><stop offset="0.833" stop-color="#ff2c00"/><stop offset="0.875" stop-color="#ff2c00"/><stop offset="0.917" stop-color="#ff2c00"/><stop offset="0.958" stop-color="#ff2d00"/><stop offset="1.000" stop-color="#ff2d00"/></linearGradient><linearGradient id="h30" x1="0" y1="0" x2="1" y2="0"><stop offset="0.000" stop-color="#ff2f00"/><stop offset="0.042" stop-color="#ff3900"/><stop offset="0.083" stop-color="#ff4300"/><stop offset="0.125" stop-color="#ff4700"/><stop offset="0.167" stop-color="#ff4b00"/><stop offset="0.208" stop-color="#ff5000"/><stop offset="0.250" stop-color="#ff5500"/><stop offset="0.292" stop-color="#ff5800"/><stop offset="0.333" stop-color="#ff5600"/><stop offset="0.375" stop-color="#ff5000"/><stop offset="0.417" stop-color="#ff4700"/><stop offset="0.458" stop-color="#ff3c00"/><stop offset="0.500" stop-color="#ff3200"/><stop offset="0.542" stop-color="#ff2a00"/><stop offset="0.583" stop-color="#ff2000"/><stop offset="0.625" stop-color="#ff0f00"/><stop offset="0.667" stop-color="#ff0300"/><stop offset="0.708" stop-color="#ff0a00"/><stop offset="0.750" stop-color="#ff1700"/><stop offset="0.792" stop-color="#ff1d00"/><stop offset="0.833" stop-color="#ff1e00"/><stop offset="0.875" stop-color="#ff1e00"/><stop offset="0.917" stop-color="#ff1e00"/><stop offset="0.958" stop-color="#ff1e00"/><stop offset="1.000" stop-color="#ff1e00"/></linearGradient><linearGradient id="h31" x1="0" y1="0" x2="1" y2="0"><stop offset="0.000" stop-color="#ff4400"/><stop offset="0.042" stop-color="#ff4e00"/><stop offset="0.083" stop-color="#ff5800"/><stop offset="0.125" stop-color="#ff5c00"/><stop offset="0.167" stop-color="#ff6100"/><stop offset="0.208" stop-color="#ff6700"/><stop offset="0.250" stop-color="#ff6e00"/><stop offset="0.292" stop-color="#ff7400"/><stop offset="0.333" stop-color="#ff7a00"/><stop offset="0.375" stop-color="#ff7f00"/><stop offset="0.417" stop-color="#ff8300"/><stop offset="0.458" stop-color="#ff8400"/><stop offset="0.500" stop-color="#ff8500"/><stop offset="0.542" stop-color="#ff8500"/><stop offset="0.583" stop-color="#ff7e00"/><stop offset="0.625" stop-color="#ff6e00"/><stop offset="0.667" stop-color="#ff6300"/><stop offset="0.708" stop-color="#ff6b00"/><stop offset="0.750" stop-color="#ff7900"/><stop offset="0.792" stop-color="#ff7f00"/><stop offset="0.833" stop-color="#ff8100"/><stop offset="0.875" stop-color="#ff8200"/><stop offset="0.917" stop-color="#ff8300"/><stop offset="0.958" stop-color="#ff8400"/><stop offset="1.000" stop-color="#ff8400"/></linearGradient><linearGradient id="h32" x1="0" y1="0" x2="1" y2="0"><stop offset="0.000" stop-color="#ff3700"/><stop offset="0.042" stop-color="#ff4100"/><stop offset="0.083" stop-color="#ff4b00"/><stop offset="0.125" stop-color="#ff4e00"/><stop offset="0.167" stop-color="#ff5200"/><stop offset="0.208" stop-color="#ff5700"/><stop offset="0.250" stop-color="#ff5d00"/><stop offset="0.292" stop-color="#ff6200"/><stop offset="0.333" stop-color="#ff6700"/><stop offset="0.375" stop-color="#ff6b00"/><stop offset="0.417" stop-color="#ff6d00"/><stop offset="0.458" stop-color="#ff6e00"/><stop offset="0.500" stop-color="#ff6e00"/><stop offset="0.542" stop-color="#ff6d00"/><stop offset="0.583" stop-color="#ff6600"/><stop offset="0.625" stop-color="#ff5500"/><stop offset="0.667" stop-color="#ff4a00"/><stop offset="0.708" stop-color="#ff5100"/><stop offset="0.750" stop-color="#ff5e00"/><stop offset="0.792" stop-color="#ff6400"/><stop offset="0.833" stop-color="#ff6500"/><stop offset="0.875" stop-color="#ff6500"/><stop offset="0.917" stop-color="#ff6500"/><stop offset="0.958" stop-color="#ff6500"/><stop offset="1.000" stop-color="#ff6500"/></linearGradient><linearGradient id="h33" x1="0" y1="0" x2="1" y2="0"><stop offset="0.000" stop-color="#ff2e00"/><stop offset="0.042" stop-color="#ff3800"/><stop offset="0.083" stop-color="#ff4100"/><stop offset="0.125" stop-color="#ff4500"/><stop offset="0.167" stop-color="#ff4800"/><stop offset="0.208" stop-color="#ff4c00"/><stop offset="0.250" stop-color="#ff5100"/><stop offset="0.292" stop-color="#ff5500"/><stop offset="0.333" stop-color="#ff5a00"/><stop offset="0.375" stop-color="#ff5d00"/><stop offset="0.417" stop-color="#ff5f00"/><stop offset="0.458" stop-color="#ff5f00"/><stop offset="0.500" stop-color="#ff5e00"/><stop offset="0.542" stop-color="#ff5d00"/><stop offset="0.583" stop-color="#ff5500"/><stop offset="0.625" stop-color="#ff4400"/><stop offset="0.667" stop-color="#ff3800"/><stop offset="0.708" stop-color="#ff3f00"/><stop offset="0.750" stop-color="#ff4b00"/><stop offset="0.792" stop-color="#ff5100"/><stop offset="0.833" stop-color="#ff5200"/><stop offset="0.875" stop-color="#ff5100"/><stop offset="0.917" stop-color="#ff5100"/><stop offset="0.958" stop-color="#ff5100"/><stop offset="1.000" stop-color="#ff5000"/></linearGradient><linearGradient id="h34" x1="0" y1="0" x2="1" y2="0"><stop offset="0.000" stop-color="#ff3300"/><stop offset="0.042" stop-color="#ff3d00"/><stop offset="0.083" stop-color="#ff4700"/><stop offset="0.125" stop-color="#ff4a00"/><stop offset="0.167" stop-color="#ff4e00"/><stop offset="0.208" stop-color="#ff5200"/><stop offset="0.250" stop-color="#ff5600"/><stop offset="0.292" stop-color="#ff5c00"/><stop offset="0.333" stop-color="#ff6400"/><stop offset="0.375" stop-color="#ff6c00"/><stop offset="0.417" stop-color="#ff7500"/><stop offset="0.458" stop-color="#ff7b00"/><stop offset="0.500" stop-color="#ff8000"/><stop offset="0.542" stop-color="#ff8200"/><stop offset="0.583" stop-color="#ff7c00"/><stop offset="0.625" stop-color="#ff6c00"/><stop offset="0.667" stop-color="#ff6300"/><stop offset="0.708" stop-color="#ff7000"/><stop offset="0.750" stop-color="#ff8600"/><stop offset="0.792" stop-color="#ff9a00"/><stop offset="0.833" stop-color="#ffa800"/><stop offset="0.875" stop-color="#ffae00"/><stop offset="0.917" stop-color="#ffaa00"/><stop offset="0.958" stop-color="#ff9d00"/><stop offset="1.000" stop-color="#ff8f00"/></linearGradient><linearGradient id="h35" x1="0" y1="0" x2="1" y2="0"><stop offset="0.000" stop-color="#ff3000"/><stop offset="0.042" stop-color="#ff3a00"/><stop offset="0.083" stop-color="#ff4400"/><stop offset="0.125" stop-color="#ff4700"/><stop offset="0.167" stop-color="#ff4a00"/><stop offset="0.208" stop-color="#ff4e00"/><stop offset="0.250" stop-color="#ff5200"/><stop offset="0.292" stop-color="#ff5800"/><stop offset="0.333" stop-color="#ff5f00"/><stop offset="0.375" stop-color="#ff6800"/><stop offset="0.417" stop-color="#ff7000"/><stop offset="0.458" stop-color="#ff7600"/><stop offset="0.500" stop-color="#ff7b00"/><stop offset="0.542" stop-color="#ff7d00"/><stop offset="0.583" stop-color="#ff7700"/><stop offset="0.625" stop-color="#ff6700"/><stop offset="0.667" stop-color="#ff5e00"/><stop offset="0.708" stop-color="#ff6a00"/><stop offset="0.750" stop-color="#ff8100"/><stop offset="0.792" stop-color="#ff9500"/><stop offset="0.833" stop-color="#ffa300"/><stop offset="0.875" stop-color="#ffa900"/><stop offset="0.917" stop-color="#ffa400"/><stop offset="0.958" stop-color="#ff9800"/><stop offset="1.000" stop-color="#ff8900"/></linearGradient><linearGradient id="h36" x1="0" y1="0" x2="1" y2="0"><stop offset="0.000" stop-color="#ff2f00"/><stop offset="0.042" stop-color="#ff3900"/><stop offset="0.083" stop-color="#ff4200"/><stop offset="0.125" stop-color="#ff4600"/><stop offset="0.167" stop-color="#ff4900"/><stop offset="0.208" stop-color="#ff4c00"/><stop offset="0.250" stop-color="#ff5000"/><stop offset="0.292" stop-color="#ff5600"/><stop offset="0.333" stop-color="#ff5d00"/><stop offset="0.375" stop-color="#ff6500"/><stop offset="0.417" stop-color="#ff6d00"/><stop offset="0.458" stop-color="#ff7400"/><stop offset="0.500" stop-color="#ff7800"/><stop offset="0.542" stop-color="#ff7a00"/><stop offset="0.583" stop-color="#ff7400"/><stop offset="0.625" stop-color="#ff6400"/><stop offset="0.667" stop-color="#ff5b00"/><stop offset="0.708" stop-color="#ff6800"/><stop offset="0.750" stop-color="#ff7f00"/><stop offset="0.792" stop-color="#ff9200"/><stop offset="0.833" stop-color="#ffa000"/><stop offset="0.875" stop-color="#ffa600"/><stop offset="0.917" stop-color="#ffa200"/><stop offset="0.958" stop-color="#ff9500"/><stop offset="1.000" stop-color="#ff8700"/></linearGradient><linearGradient id="h37" x1="0" y1="0" x2="1" y2="0"><stop offset="0.000" stop-color="#ff2300"/><stop offset="0.042" stop-color="#ff2d00"/><stop offset="0.083" stop-color="#ff3700"/><stop offset="0.125" stop-color="#ff3a00"/><stop offset="0.167" stop-color="#ff3d00"/><stop offset="0.208" stop-color="#ff4000"/><stop offset="0.250" stop-color="#ff4300"/><stop offset="0.292" stop-color="#ff4600"/><stop offset="0.333" stop-color="#ff4700"/><stop offset="0.375" stop-color="#ff4700"/><stop offset="0.417" stop-color="#ff4500"/><stop offset="0.458" stop-color="#ff4200"/><stop offset="0.500" stop-color="#ff3e00"/><stop offset="0.542" stop-color="#ff3a00"/><stop offset="0.583" stop-color="#ff3200"/><stop offset="0.625" stop-color="#ff2100"/><stop offset="0.667" stop-color="#ff1500"/><stop offset="0.708" stop-color="#ff1c00"/><stop offset="0.750" stop-color="#ff2900"/><stop offset="0.792" stop-color="#ff2e00"/><stop offset="0.833" stop-color="#ff2f00"/><stop offset="0.875" stop-color="#ff2e00"/><stop offset="0.917" stop-color="#ff2e00"/><stop offset="0.958" stop-color="#ff2d00"/><stop offset="1.000" stop-color="#ff2d00"/></linearGradient><linearGradient id="h38" x1="0" y1="0" x2="1" y2="0"><stop offset="0.000" stop-color="#ff2e00"/><stop offset="0.042" stop-color="#ff3800"/><stop offset="0.083" stop-color="#ff4100"/><stop offset="0.125" stop-color="#ff4400"/><stop offset="0.167" stop-color="#ff4800"/><stop offset="0.208" stop-color="#ff4d00"/><stop offset="0.250" stop-color="#ff5100"/><stop offset="0.292" stop-color="#ff5400"/><stop offset="0.333" stop-color="#ff5300"/><stop offset="0.375" stop-color="#ff5000"/><stop offset="0.417" stop-color="#ff4a00"/><stop offset="0.458" stop-color="#ff4300"/><stop offset="0.500" stop-color="#ff3c00"/><stop offset="0.542" stop-color="#ff3600"/><stop offset="0.583" stop-color="#ff2e00"/><stop offset="0.625" stop-color="#ff1e00"/><stop offset="0.667" stop-color="#ff1300"/><stop offset="0.708" stop-color="#ff1b00"/><stop offset="0.750" stop-color="#ff2900"/><stop offset="0.792" stop-color="#ff2f00"/><stop offset="0.833" stop-color="#ff3000"/><stop offset="0.875" stop-color="#ff3100"/><stop offset="0.917" stop-color="#ff3100"/><stop offset="0.958" stop-color="#ff3100"/><stop offset="1.000" stop-color="#ff3200"/></linearGradient><linearGradient id="h39" x1="0" y1="0" x2="1" y2="0"><stop offset="0.000" stop-color="#ff2000"/><stop offset="0.042" stop-color="#ff2a00"/><stop offset="0.083" stop-color="#ff3300"/><stop offset="0.125" stop-color="#ff3600"/><stop offset="0.167" stop-color="#ff3900"/><stop offset="0.208" stop-color="#ff3c00"/><stop offset="0.250" stop-color="#ff4000"/><stop offset="0.292" stop-color="#ff4100"/><stop offset="0.333" stop-color="#ff4000"/><stop offset="0.375" stop-color="#ff3b00"/><stop offset="0.417" stop-color="#ff3400"/><stop offset="0.458" stop-color="#ff2c00"/><stop offset="0.500" stop-color="#ff2400"/><stop offset="0.542" stop-color="#ff1e00"/><stop offset="0.583" stop-color="#ff1500"/><stop offset="0.625" stop-color="#ff0400"/><stop offset="0.667" stop-color="#f80000"/><stop offset="0.708" stop-color="#ff0000"/><stop offset="0.750" stop-color="#ff0d00"/><stop offset="0.792" stop-color="#ff1200"/><stop offset="0.833" stop-color="#ff1300"/><stop offset="0.875" stop-color="#ff1300"/><stop offset="0.917" stop-color="#ff1300"/><stop offset="0.958" stop-color="#ff1200"/><stop offset="1.000" stop-color="#ff1200"/></linearGradient><linearGradient id="h40" x1="0" y1="0" x2="1" y2="0"><stop offset="0.000" stop-color="#ff2c00"/><stop offset="0.042" stop-color="#ff3600"/><stop offset="0.083" stop-color="#ff3f00"/><stop offset="0.125" stop-color="#ff4200"/><stop offset="0.167" stop-color="#ff4600"/><stop offset="0.208" stop-color="#ff4b00"/><stop offset="0.250" stop-color="#ff4f00"/><stop offset="0.292" stop-color="#ff5200"/><stop offset="0.333" stop-color="#ff4f00"/><stop offset="0.375" stop-color="#ff4800"/><stop offset="0.417" stop-color="#ff3f00"/><stop offset="0.458" stop-color="#ff3500"/><stop offset="0.500" stop-color="#ff2b00"/><stop offset="0.542" stop-color="#ff2400"/><stop offset="0.583" stop-color="#ff1b00"/><stop offset="0.625" stop-color="#ff0c00"/><stop offset="0.667" stop-color="#ff0200"/><stop offset="0.708" stop-color="#ff0a00"/><stop offset="0.750" stop-color="#ff1800"/><stop offset="0.792" stop-color="#ff1e00"/><stop offset="0.833" stop-color="#ff2000"/><stop offset="0.875" stop-color="#ff2100"/><stop offset="0.917" stop-color="#ff2100"/><stop offset="0.958" stop-color="#ff2200"/><stop offset="1.000" stop-color="#ff2300"/></linearGradient><linearGradient id="h41" x1="0" y1="0" x2="1" y2="0"><stop offset="0.000" stop-color="#ff2200"/><stop offset="0.042" stop-color="#ff2c00"/><stop offset="0.083" stop-color="#ff3500"/><stop offset="0.125" stop-color="#ff3800"/><stop offset="0.167" stop-color="#ff3b00"/><stop offset="0.208" stop-color="#ff3f00"/><stop offset="0.250" stop-color="#ff4300"/><stop offset="0.292" stop-color="#ff4500"/><stop offset="0.333" stop-color="#ff4100"/><stop offset="0.375" stop-color="#ff3a00"/><stop offset="0.417" stop-color="#ff3000"/><stop offset="0.458" stop-color="#ff2500"/><stop offset="0.500" stop-color="#ff1b00"/><stop offset="0.542" stop-color="#ff1300"/><stop offset="0.583" stop-color="#ff0a00"/><stop offset="0.625" stop-color="#f90000"/><stop offset="0.667" stop-color="#ef0000"/><stop offset="0.708" stop-color="#f70000"/><stop offset="0.750" stop-color="#ff0500"/><stop offset="0.792" stop-color="#ff0b00"/><stop offset="0.833" stop-color="#ff0d00"/><stop offset="0.875" stop-color="#ff0d00"/><stop offset="0.917" stop-color="#ff0d00"/><stop offset="0.958" stop-color="#ff0d00"/><stop offset="1.000" stop-color="#ff0d00"/></linearGradient><linearGradient id="h42" x1="0" y1="0" x2="1" y2="0"><stop offset="0.000" stop-color="#ff2800"/><stop offset="0.042" stop-color="#ff3200"/><stop offset="0.083" stop-color="#ff3b00"/><stop offset="0.125" stop-color="#ff3e00"/><stop offset="0.167" stop-color="#ff4200"/><stop offset="0.208" stop-color="#ff4600"/><stop offset="0.250" stop-color="#ff4b00"/><stop offset="0.292" stop-color="#ff4c00"/><stop offset="0.333" stop-color="#ff4900"/><stop offset="0.375" stop-color="#ff4300"/><stop offset="0.417" stop-color="#ff3900"/><stop offset="0.458" stop-color="#ff2f00"/><stop offset="0.500" stop-color="#ff2600"/><stop offset="0.542" stop-color="#ff1e00"/><stop offset="0.583" stop-color="#ff1600"/><stop offset="0.625" stop-color="#ff0600"/><stop offset="0.667" stop-color="#fc0000"/><stop offset="0.708" stop-color="#ff0500"/><stop offset="0.750" stop-color="#ff1300"/><stop offset="0.792" stop-color="#ff1900"/><stop offset="0.833" stop-color="#ff1b00"/><stop offset="0.875" stop-color="#ff1c00"/><stop offset="0.917" stop-color="#ff1d00"/><stop offset="0.958" stop-color="#ff1d00"/><stop offset="1.000" stop-color="#ff1e00"/></linearGradient><linearGradient id="h43" x1="0" y1="0" x2="1" y2="0"><stop offset="0.000" stop-color="#ff2000"/><stop offset="0.042" stop-color="#ff2b00"/><stop offset="0.083" stop-color="#ff3400"/><stop offset="0.125" stop-color="#ff3700"/><stop offset="0.167" stop-color="#ff3900"/><stop offset="0.208" stop-color="#ff3b00"/><stop offset="0.250" stop-color="#ff3e00"/><stop offset="0.292" stop-color="#ff4200"/><stop offset="0.333" stop-color="#ff4700"/><stop offset="0.375" stop-color="#ff4d00"/><stop offset="0.417" stop-color="#ff5300"/><stop offset="0.458" stop-color="#ff5700"/><stop offset="0.500" stop-color="#ff5b00"/><stop offset="0.542" stop-color="#ff5c00"/><stop offset="0.583" stop-color="#ff5500"/><stop offset="0.625" stop-color="#ff4600"/><stop offset="0.667" stop-color="#ff3d00"/><stop offset="0.708" stop-color="#ff4800"/><stop offset="0.750" stop-color="#ff5c00"/><stop offset="0.792" stop-color="#ff6c00"/><stop offset="0.833" stop-color="#ff7600"/><stop offset="0.875" stop-color="#ff7a00"/><stop offset="0.917" stop-color="#ff7700"/><stop offset="0.958" stop-color="#ff6e00"/><stop offset="1.000" stop-color="#ff6400"/></linearGradient><linearGradient id="h44" x1="0" y1="0" x2="1" y2="0"><stop offset="0.000" stop-color="#ff1800"/><stop offset="0.042" stop-color="#ff2300"/><stop offset="0.083" stop-color="#ff2c00"/><stop offset="0.125" stop-color="#ff2f00"/><stop offset="0.167" stop-color="#ff3100"/><stop offset="0.208" stop-color="#ff3300"/><stop offset="0.250" stop-color="#ff3600"/><stop offset="0.292" stop-color="#ff3800"/><stop offset="0.333" stop-color="#ff3b00"/><stop offset="0.375" stop-color="#ff3c00"/><stop offset="0.417" stop-color="#ff3d00"/><stop offset="0.458" stop-color="#ff3d00"/><stop offset="0.500" stop-color="#ff3d00"/><stop offset="0.542" stop-color="#ff3b00"/><stop offset="0.583" stop-color="#ff3300"/><stop offset="0.625" stop-color="#ff2300"/><stop offset="0.667" stop-color="#ff1800"/><stop offset="0.708" stop-color="#ff2000"/><stop offset="0.750" stop-color="#ff2c00"/><stop offset="0.792" stop-color="#ff3200"/><stop offset="0.833" stop-color="#ff3200"/><stop offset="0.875" stop-color="#ff3200"/><stop offset="0.917" stop-color="#ff3100"/><stop offset="0.958" stop-color="#ff3100"/><stop offset="1.000" stop-color="#ff3000"/></linearGradient><linearGradient id="h45" x1="0" y1="0" x2="1" y2="0"><stop offset="0.000" stop-color="#ff1b00"/><stop offset="0.042" stop-color="#ff2500"/><stop offset="0.083" stop-color="#ff2e00"/><stop offset="0.125" stop-color="#ff3100"/><stop offset="0.167" stop-color="#ff3400"/><stop offset="0.208" stop-color="#ff3700"/><stop offset="0.250" stop-color="#ff3a00"/><stop offset="0.292" stop-color="#ff3c00"/><stop offset="0.333" stop-color="#ff3b00"/><stop offset="0.375" stop-color="#ff3700"/><stop offset="0.417" stop-color="#ff3200"/><stop offset="0.458" stop-color="#ff2c00"/><stop offset="0.500" stop-color="#ff2600"/><stop offset="0.542" stop-color="#ff2100"/><stop offset="0.583" stop-color="#ff1900"/><stop offset="0.625" stop-color="#ff0900"/><stop offset="0.667" stop-color="#fe0000"/><stop offset="0.708" stop-color="#ff0700"/><stop offset="0.750" stop-color="#ff1400"/><stop offset="0.792" stop-color="#ff1a00"/><stop offset="0.833" stop-color="#ff1b00"/><stop offset="0.875" stop-color="#ff1b00"/><stop offset="0.917" stop-color="#ff1c00"/><stop offset="0.958" stop-color="#ff1c00"/><stop offset="1.000" stop-color="#ff1c00"/></linearGradient><linearGradient id="h46" x1="0" y1="0" x2="1" y2="0"><stop offset="0.000" stop-color="#ff0d00"/><stop offset="0.042" stop-color="#ff1700"/><stop offset="0.083" stop-color="#ff2000"/><stop offset="0.125" stop-color="#ff2300"/><stop offset="0.167" stop-color="#ff2500"/><stop offset="0.208" stop-color="#ff2600"/><stop offset="0.250" stop-color="#ff2900"/><stop offset="0.292" stop-color="#ff2900"/><stop offset="0.333" stop-color="#ff2700"/><stop offset="0.375" stop-color="#ff2300"/><stop offset="0.417" stop-color="#ff1d00"/><stop offset="0.458" stop-color="#ff1600"/><stop offset="0.500" stop-color="#ff0f00"/><stop offset="0.542" stop-color="#ff0900"/><stop offset="0.583" stop-color="#ff0000"/><stop offset="0.625" stop-color="#ef0000"/><stop offset="0.667" stop-color="#e40000"/><stop offset="0.708" stop-color="#eb0000"/><stop offset="0.750" stop-color="#f80000"/><stop offset="0.792" stop-color="#fd0000"/><stop offset="0.833" stop-color="#fe0000"/><stop offset="0.875" stop-color="#fd0000"/><stop offset="0.917" stop-color="#fc0000"/><stop offset="0.958" stop-color="#fc0000"/><stop offset="1.000" stop-color="#fb0000"/></linearGradient><linearGradient id="h47" x1="0" y1="0" x2="1" y2="0"><stop offset="0.000" stop-color="#ff2300"/><stop offset="0.042" stop-color="#ff2d00"/><stop offset="0.083" stop-color="#ff3600"/><stop offset="0.125" stop-color="#ff3900"/><stop offset="0.167" stop-color="#ff3b00"/><stop offset="0.208" stop-color="#ff3f00"/><stop offset="0.250" stop-color="#ff4200"/><stop offset="0.292" stop-color="#ff4600"/><stop offset="0.333" stop-color="#ff4c00"/><stop offset="0.375" stop-color="#ff5300"/><stop offset="0.417" stop-color="#ff5900"/><stop offset="0.458" stop-color="#ff5e00"/><stop offset="0.500" stop-color="#ff6200"/><stop offset="0.542" stop-color="#ff6400"/><stop offset="0.583" stop-color="#ff5e00"/><stop offset="0.625" stop-color="#ff4f00"/><stop offset="0.667" stop-color="#ff4700"/><stop offset="0.708" stop-color="#ff5300"/><stop offset="0.750" stop-color="#ff6800"/><stop offset="0.792" stop-color="#ff7800"/><stop offset="0.833" stop-color="#ff8300"/><stop offset="0.875" stop-color="#ff8800"/><stop offset="0.917" stop-color="#ff8500"/><stop offset="0.958" stop-color="#ff7d00"/><stop offset="1.000" stop-color="#ff7300"/></linearGradient><linearGradient id="h48" x1="0" y1="0" x2="1" y2="0"><stop offset="0.000" stop-color="#ff1b00"/><stop offset="0.042" stop-color="#ff2500"/><stop offset="0.083" stop-color="#ff2f00"/><stop offset="0.125" stop-color="#ff3100"/><stop offset="0.167" stop-color="#ff3300"/><stop offset="0.208" stop-color="#ff3600"/><stop offset="0.250" stop-color="#ff3900"/><stop offset="0.292" stop-color="#ff3d00"/><stop offset="0.333" stop-color="#ff4200"/><stop offset="0.375" stop-color="#ff4800"/><stop offset="0.417" stop-color="#ff4e00"/><stop offset="0.458" stop-color="#ff5300"/><stop offset="0.500" stop-color="#ff5600"/><stop offset="0.542" stop-color="#ff5800"/><stop offset="0.583" stop-color="#ff5200"/><stop offset="0.625" stop-color="#ff4300"/><stop offset="0.667" stop-color="#ff3a00"/><stop offset="0.708" stop-color="#ff4600"/><stop offset="0.750" stop-color="#ff5b00"/><stop offset="0.792" stop-color="#ff6b00"/><stop offset="0.833" stop-color="#ff7500"/><stop offset="0.875" stop-color="#ff7a00"/><stop offset="0.917" stop-color="#ff7700"/><stop offset="0.958" stop-color="#ff6e00"/><stop offset="1.000" stop-color="#ff6400"/></linearGradient><linearGradient id="h49" x1="0" y1="0" x2="1" y2="0"><stop offset="0.000" stop-color="#ff0f00"/><stop offset="0.042" stop-color="#ff1a00"/><stop offset="0.083" stop-color="#ff2300"/><stop offset="0.125" stop-color="#ff2500"/><stop offset="0.167" stop-color="#ff2700"/><stop offset="0.208" stop-color="#ff2a00"/><stop offset="0.250" stop-color="#ff2d00"/><stop offset="0.292" stop-color="#ff2e00"/><stop offset="0.333" stop-color="#ff2c00"/><stop offset="0.375" stop-color="#ff2800"/><stop offset="0.417" stop-color="#ff2300"/><stop offset="0.458" stop-color="#ff1d00"/><stop offset="0.500" stop-color="#ff1700"/><stop offset="0.542" stop-color="#ff1100"/><stop offset="0.583" stop-color="#ff0900"/><stop offset="0.625" stop-color="#f80000"/><stop offset="0.667" stop-color="#ee0000"/><stop offset="0.708" stop-color="#f60000"/><stop offset="0.750" stop-color="#ff0500"/><stop offset="0.792" stop-color="#ff0a00"/><stop offset="0.833" stop-color="#ff0b00"/><stop offset="0.875" stop-color="#ff0b00"/><stop offset="0.917" stop-color="#ff0b00"/><stop offset="0.958" stop-color="#ff0b00"/><stop offset="1.000" stop-color="#ff0b00"/></linearGradient><linearGradient id="h50" x1="0" y1="0" x2="1" y2="0"><stop offset="0.000" stop-color="#ff1e00"/><stop offset="0.042" stop-color="#ff2800"/><stop offset="0.083" stop-color="#ff3100"/><stop offset="0.125" stop-color="#ff3400"/><stop offset="0.167" stop-color="#ff3600"/><stop offset="0.208" stop-color="#ff3900"/><stop offset="0.250" stop-color="#ff3c00"/><stop offset="0.292" stop-color="#ff4100"/><stop offset="0.333" stop-color="#ff4700"/><stop offset="0.375" stop-color="#ff4e00"/><stop offset="0.417" stop-color="#ff5600"/><stop offset="0.458" stop-color="#ff5c00"/><stop offset="0.500" stop-color="#ff6100"/><stop offset="0.542" stop-color="#ff6300"/><stop offset="0.583" stop-color="#ff5e00"/><stop offset="0.625" stop-color="#ff4f00"/><stop offset="0.667" stop-color="#ff4800"/><stop offset="0.708" stop-color="#ff5500"/><stop offset="0.750" stop-color="#ff6c00"/><stop offset="0.792" stop-color="#ff7e00"/><stop offset="0.833" stop-color="#ff8b00"/><stop offset="0.875" stop-color="#ff9100"/><stop offset="0.917" stop-color="#ff8e00"/><stop offset="0.958" stop-color="#ff8400"/><stop offset="1.000" stop-color="#ff7800"/></linearGradient><linearGradient id="h51" x1="0" y1="0" x2="1" y2="0"><stop offset="0.000" stop-color="#ff1200"/><stop offset="0.042" stop-color="#ff1c00"/><stop offset="0.083" stop-color="#ff2500"/><stop offset="0.125" stop-color="#ff2700"/><stop offset="0.167" stop-color="#ff2900"/><stop offset="0.208" stop-color="#ff2b00"/><stop offset="0.250" stop-color="#ff2e00"/><stop offset="0.292" stop-color="#ff3100"/><stop offset="0.333" stop-color="#ff3700"/><stop offset="0.375" stop-color="#ff3d00"/><stop offset="0.417" stop-color="#ff4400"/><stop offset="0.458" stop-color="#ff4900"/><stop offset="0.500" stop-color="#ff4d00"/><stop offset="0.542" stop-color="#ff4f00"/><stop offset="0.583" stop-color="#ff4a00"/><stop offset="0.625" stop-color="#ff3b00"/><stop offset="0.667" stop-color="#ff3300"/><stop offset="0.708" stop-color="#ff4000"/><stop offset="0.750" stop-color="#ff5600"/><stop offset="0.792" stop-color="#ff6700"/><stop offset="0.833" stop-color="#ff7400"/><stop offset="0.875" stop-color="#ff7900"/><stop offset="0.917" stop-color="#ff7600"/><stop offset="0.958" stop-color="#ff6b00"/><stop offset="1.000" stop-color="#ff5e00"/></linearGradient><linearGradient id="h52" x1="0" y1="0" x2="1" y2="0"><stop offset="0.000" stop-color="#fe0000"/><stop offset="0.042" stop-color="#ff0a00"/><stop offset="0.083" stop-color="#ff1300"/><stop offset="0.125" stop-color="#ff1500"/><stop offset="0.167" stop-color="#ff1600"/><stop offset="0.208" stop-color="#ff1700"/><stop offset="0.250" stop-color="#ff1900"/><stop offset="0.292" stop-color="#ff1a00"/><stop offset="0.333" stop-color="#ff1a00"/><stop offset="0.375" stop-color="#ff1a00"/><stop offset="0.417" stop-color="#ff1900"/><stop offset="0.458" stop-color="#ff1600"/><stop offset="0.500" stop-color="#ff1400"/><stop offset="0.542" stop-color="#ff1100"/><stop offset="0.583" stop-color="#ff0900"/><stop offset="0.625" stop-color="#f80000"/><stop offset="0.667" stop-color="#ed0000"/><stop offset="0.708" stop-color="#f50000"/><stop offset="0.750" stop-color="#ff0300"/><stop offset="0.792" stop-color="#ff0800"/><stop offset="0.833" stop-color="#ff0800"/><stop offset="0.875" stop-color="#ff0800"/><stop offset="0.917" stop-color="#ff0700"/><stop offset="0.958" stop-color="#ff0600"/><stop offset="1.000" stop-color="#ff0600"/></linearGradient><linearGradient id="h53" x1="0" y1="0" x2="1" y2="0"><stop offset="0.000" stop-color="#ff0f00"/><stop offset="0.042" stop-color="#ff1900"/><stop offset="0.083" stop-color="#ff2200"/><stop offset="0.125" stop-color="#ff2400"/><stop offset="0.167" stop-color="#ff2700"/><stop offset="0.208" stop-color="#ff2900"/><stop offset="0.250" stop-color="#ff2c00"/><stop offset="0.292" stop-color="#ff2f00"/><stop offset="0.333" stop-color="#ff3100"/><stop offset="0.375" stop-color="#ff3100"/><stop offset="0.417" stop-color="#ff3100"/><stop offset="0.458" stop-color="#ff3000"/><stop offset="0.500" stop-color="#ff2f00"/><stop offset="0.542" stop-color="#ff2d00"/><stop offset="0.583" stop-color="#ff2700"/><stop offset="0.625" stop-color="#ff1800"/><stop offset="0.667" stop-color="#ff0e00"/><stop offset="0.708" stop-color="#ff1700"/><stop offset="0.750" stop-color="#ff2500"/><stop offset="0.792" stop-color="#ff2b00"/><stop offset="0.833" stop-color="#ff2c00"/><stop offset="0.875" stop-color="#ff2d00"/><stop offset="0.917" stop-color="#ff2d00"/><stop offset="0.958" stop-color="#ff2d00"/><stop offset="1.000" stop-color="#ff2e00"/></linearGradient><linearGradient id="h54" x1="0" y1="0" x2="1" y2="0"><stop offset="0.000" stop-color="#ff0400"/><stop offset="0.042" stop-color="#ff0f00"/><stop offset="0.083" stop-color="#ff1800"/><stop offset="0.125" stop-color="#ff1a00"/><stop offset="0.167" stop-color="#ff1b00"/><stop offset="0.208" stop-color="#ff1d00"/><stop offset="0.250" stop-color="#ff1f00"/><stop offset="0.292" stop-color="#ff2200"/><stop offset="0.333" stop-color="#ff2600"/><stop offset="0.375" stop-color="#ff2a00"/><stop offset="0.417" stop-color="#ff2e00"/><stop offset="0.458" stop-color="#ff3200"/><stop offset="0.500" stop-color="#ff3400"/><stop offset="0.542" stop-color="#ff3500"/><stop offset="0.583" stop-color="#ff2e00"/><stop offset="0.625" stop-color="#ff1f00"/><stop offset="0.667" stop-color="#ff1600"/><stop offset="0.708" stop-color="#ff2200"/><stop offset="0.750" stop-color="#ff3500"/><stop offset="0.792" stop-color="#ff4200"/><stop offset="0.833" stop-color="#ff4a00"/><stop offset="0.875" stop-color="#ff4e00"/><stop offset="0.917" stop-color="#ff4c00"/><stop offset="0.958" stop-color="#ff4400"/><stop offset="1.000" stop-color="#ff3c00"/></linearGradient><linearGradient id="h55" x1="0" y1="0" x2="1" y2="0"><stop offset="0.000" stop-color="#ff0700"/><stop offset="0.042" stop-color="#ff1200"/><stop offset="0.083" stop-color="#ff1b00"/><stop offset="0.125" stop-color="#ff1d00"/><stop offset="0.167" stop-color="#ff1f00"/><stop offset="0.208" stop-color="#ff2100"/><stop offset="0.250" stop-color="#ff2300"/><stop offset="0.292" stop-color="#ff2600"/><stop offset="0.333" stop-color="#ff2b00"/><stop offset="0.375" stop-color="#ff3000"/><stop offset="0.417" stop-color="#ff3400"/><stop offset="0.458" stop-color="#ff3800"/><stop offset="0.500" stop-color="#ff3b00"/><stop offset="0.542" stop-color="#ff3c00"/><stop offset="0.583" stop-color="#ff3600"/><stop offset="0.625" stop-color="#ff2700"/><stop offset="0.667" stop-color="#ff1f00"/><stop offset="0.708" stop-color="#ff2a00"/><stop offset="0.750" stop-color="#ff3b00"/><stop offset="0.792" stop-color="#ff4800"/><stop offset="0.833" stop-color="#ff5100"/><stop offset="0.875" stop-color="#ff5700"/><stop offset="0.917" stop-color="#ff5600"/><stop offset="0.958" stop-color="#ff5000"/><stop offset="1.000" stop-color="#ff4700"/></linearGradient><linearGradient id="h56" x1="0" y1="0" x2="1" y2="0"><stop offset="0.000" stop-color="#f40000"/><stop offset="0.042" stop-color="#fe0000"/><stop offset="0.083" stop-color="#ff0800"/><stop offset="0.125" stop-color="#ff0a00"/><stop offset="0.167" stop-color="#ff0b00"/><stop offset="0.208" stop-color="#ff0c00"/><stop offset="0.250" stop-color="#ff0d00"/><stop offset="0.292" stop-color="#ff0e00"/><stop offset="0.333" stop-color="#ff0f00"/><stop offset="0.375" stop-color="#ff1000"/><stop offset="0.417" stop-color="#ff1000"/><stop offset="0.458" stop-color="#ff1000"/><stop offset="0.500" stop-color="#ff0f00"/><stop offset="0.542" stop-color="#ff0d00"/><stop offset="0.583" stop-color="#ff0600"/><stop offset="0.625" stop-color="#f50000"/><stop offset="0.667" stop-color="#e90000"/><stop offset="0.708" stop-color="#ed0000"/><stop offset="0.750" stop-color="#f10000"/><stop offset="0.792" stop-color="#f00000"/><stop offset="0.833" stop-color="#f20000"/><stop offset="0.875" stop-color="#fa0000"/><stop offset="0.917" stop-color="#ff0100"/><stop offset="0.958" stop-color="#ff0300"/><stop offset="1.000" stop-color="#ff0300"/></linearGradient><linearGradient id="h57" x1="0" y1="0" x2="1" y2="0"><stop offset="0.000" stop-color="#f10000"/><stop offset="0.042" stop-color="#fc0000"/><stop offset="0.083" stop-color="#ff0600"/><stop offset="0.125" stop-color="#ff0800"/><stop offset="0.167" stop-color="#ff0900"/><stop offset="0.208" stop-color="#ff0b00"/><stop offset="0.250" stop-color="#ff0d00"/><stop offset="0.292" stop-color="#ff0d00"/><stop offset="0.333" stop-color="#ff0900"/><stop offset="0.375" stop-color="#ff0300"/><stop offset="0.417" stop-color="#fa0000"/><stop offset="0.458" stop-color="#f20000"/><stop offset="0.500" stop-color="#eb0000"/><stop offset="0.542" stop-color="#e40000"/><stop offset="0.583" stop-color="#dc0000"/><stop offset="0.625" stop-color="#cc0000"/><stop offset="0.667" stop-color="#bf0000"/><stop offset="0.708" stop-color="#bf0000"/><stop offset="0.750" stop-color="#ba0000"/><stop offset="0.792" stop-color="#b10000"/><stop offset="0.833" stop-color="#b50000"/><stop offset="0.875" stop-color="#c80000"/><stop offset="0.917" stop-color="#d70000"/><stop offset="0.958" stop-color="#dd0000"/><stop offset="1.000" stop-color="#de0000"/></linearGradient><linearGradient id="h58" x1="0" y1="0" x2="1" y2="0"><stop offset="0.000" stop-color="#ec0000"/><stop offset="0.042" stop-color="#f70000"/><stop offset="0.083" stop-color="#ff0100"/><stop offset="0.125" stop-color="#ff0300"/><stop offset="0.167" stop-color="#ff0400"/><stop offset="0.208" stop-color="#ff0600"/><stop offset="0.250" stop-color="#ff0700"/><stop offset="0.292" stop-color="#ff0700"/><stop offset="0.333" stop-color="#ff0300"/><stop offset="0.375" stop-color="#fc0000"/><stop offset="0.417" stop-color="#f40000"/><stop offset="0.458" stop-color="#ec0000"/><stop offset="0.500" stop-color="#e40000"/><stop offset="0.542" stop-color="#de0000"/><stop offset="0.583" stop-color="#d50000"/><stop offset="0.625" stop-color="#c50000"/><stop offset="0.667" stop-color="#b90000"/><stop offset="0.708" stop-color="#b80000"/><stop offset="0.750" stop-color="#b30000"/><stop offset="0.792" stop-color="#aa0000"/><stop offset="0.833" stop-color="#af0000"/><stop offset="0.875" stop-color="#c10000"/><stop offset="0.917" stop-color="#d00000"/><stop offset="0.958" stop-color="#d60000"/><stop offset="1.000" stop-color="#d70000"/></linearGradient><linearGradient id="h59" x1="0" y1="0" x2="1" y2="0"><stop offset="0.000" stop-color="#ff0400"/><stop offset="0.042" stop-color="#ff0600"/><stop offset="0.083" stop-color="#ff0700"/><stop offset="0.125" stop-color="#ff0900"/><stop offset="0.167" stop-color="#ff0a00"/><stop offset="0.208" stop-color="#ff0c00"/><stop offset="0.250" stop-color="#ff0e00"/><stop offset="0.292" stop-color="#ff0f00"/><stop offset="0.333" stop-color="#ff1100"/><stop offset="0.375" stop-color="#ff1200"/><stop offset="0.417" stop-color="#ff1400"/><stop offset="0.458" stop-color="#ff1500"/><stop offset="0.500" stop-color="#ff1700"/><stop offset="0.542" stop-color="#ff1800"/><stop offset="0.583" stop-color="#ff1700"/><stop offset="0.625" stop-color="#ff1500"/><stop offset="0.667" stop-color="#ff1100"/><stop offset="0.708" stop-color="#ff0d00"/><stop offset="0.750" stop-color="#ff0700"/><stop offset="0.792" stop-color="#fe0000"/><stop offset="0.833" stop-color="#f90000"/><stop offset="0.875" stop-color="#ff0100"/><stop offset="0.917" stop-color="#ff0d00"/><stop offset="0.958" stop-color="#ff1300"/><stop offset="1.000" stop-color="#ff1300"/></linearGradient><linearGradient id="h60" x1="0" y1="0" x2="1" y2="0"><stop offset="0.000" stop-color="#ff0700"/><stop offset="0.042" stop-color="#ff0800"/><stop offset="0.083" stop-color="#ff0900"/><stop offset="0.125" stop-color="#ff0a00"/><stop offset="0.167" stop-color="#ff0c00"/><stop offset="0.208" stop-color="#ff0d00"/><stop offset="0.250" stop-color="#ff0e00"/><stop offset="0.292" stop-color="#ff0f00"/><stop offset="0.333" stop-color="#ff1000"/><stop offset="0.375" stop-color="#ff1200"/><stop offset="0.417" stop-color="#ff1300"/><stop offset="0.458" stop-color="#ff1400"/><stop offset="0.500" stop-color="#ff1500"/><stop offset="0.542" stop-color="#ff1600"/><stop offset="0.583" stop-color="#ff1400"/><stop offset="0.625" stop-color="#ff1000"/><stop offset="0.667" stop-color="#ff0800"/><stop offset="0.708" stop-color="#fd0000"/><stop offset="0.750" stop-color="#ee0000"/><stop offset="0.792" stop-color="#d40000"/><stop offset="0.833" stop-color="#c30000"/><stop offset="0.875" stop-color="#d80000"/><stop offset="0.917" stop-color="#fc0000"/><stop offset="0.958" stop-color="#ff0e00"/><stop offset="1.000" stop-color="#ff1200"/></linearGradient><linearGradient id="h61" x1="0" y1="0" x2="1" y2="0"><stop offset="0.000" stop-color="#ff0900"/><stop offset="0.042" stop-color="#ff0a00"/><stop offset="0.083" stop-color="#ff0b00"/><stop offset="0.125" stop-color="#ff0c00"/><stop offset="0.167" stop-color="#ff0d00"/><stop offset="0.208" stop-color="#ff0e00"/><stop offset="0.250" stop-color="#ff0e00"/><stop offset="0.292" stop-color="#ff0f00"/><stop offset="0.333" stop-color="#ff1000"/><stop offset="0.375" stop-color="#ff1100"/><stop offset="0.417" stop-color="#ff1200"/><stop offset="0.458" stop-color="#ff1300"/><stop offset="0.500" stop-color="#ff1400"/><stop offset="0.542" stop-color="#ff1400"/><stop offset="0.583" stop-color="#ff1200"/><stop offset="0.625" stop-color="#ff0d00"/><stop offset="0.667" stop-color="#ff0400"/><stop offset="0.708" stop-color="#f70000"/><stop offset="0.750" stop-color="#e40000"/><stop offset="0.792" stop-color="#c20000"/><stop offset="0.833" stop-color="#aa0000"/><stop offset="0.875" stop-color="#c50000"/><stop offset="0.917" stop-color="#f30000"/><stop offset="0.958" stop-color="#ff0b00"/><stop offset="1.000" stop-color="#ff1000"/></linearGradient><linearGradient id="h62" x1="0" y1="0" x2="1" y2="0"><stop offset="0.000" stop-color="#ff0b00"/><stop offset="0.042" stop-color="#ff0c00"/><stop offset="0.083" stop-color="#ff0c00"/><stop offset="0.125" stop-color="#ff0d00"/><stop offset="0.167" stop-color="#ff0e00"/><stop offset="0.208" stop-color="#ff0e00"/><stop offset="0.250" stop-color="#ff0f00"/><stop offset="0.292" stop-color="#ff1000"/><stop offset="0.333" stop-color="#ff1000"/><stop offset="0.375" stop-color="#ff1100"/><stop offset="0.417" stop-color="#ff1200"/><stop offset="0.458" stop-color="#ff1200"/><stop offset="0.500" stop-color="#ff1300"/><stop offset="0.542" stop-color="#ff1300"/><stop offset="0.583" stop-color="#ff1100"/><stop offset="0.625" stop-color="#ff0e00"/><stop offset="0.667" stop-color="#ff0800"/><stop offset="0.708" stop-color="#ff0000"/><stop offset="0.750" stop-color="#f40000"/><stop offset="0.792" stop-color="#e20000"/><stop offset="0.833" stop-color="#d60000"/><stop offset="0.875" stop-color="#e60000"/><stop offset="0.917" stop-color="#ff0000"/><stop offset="0.958" stop-color="#ff0c00"/><stop offset="1.000" stop-color="#ff0f00"/></linearGradient><linearGradient id="h63" x1="0" y1="0" x2="1" y2="0"><stop offset="0.000" stop-color="#ff0f00"/><stop offset="0.042" stop-color="#ff1000"/><stop offset="0.083" stop-color="#ff1100"/><stop offset="0.125" stop-color="#ff1200"/><stop offset="0.167" stop-color="#ff1200"/><stop offset="0.208" stop-color="#ff1300"/><stop offset="0.250" stop-color="#ff1400"/><stop offset="0.292" stop-color="#ff1500"/><stop offset="0.333" stop-color="#ff1600"/><stop offset="0.375" stop-color="#ff1600"/><stop offset="0.417" stop-color="#ff1700"/><stop offset="0.458" stop-color="#ff1800"/><stop offset="0.500" stop-color="#ff1900"/><stop offset="0.542" stop-color="#ff1d00"/><stop offset="0.583" stop-color="#ff2000"/><stop offset="0.625" stop-color="#ff2200"/><stop offset="0.667" stop-color="#ff2400"/><stop offset="0.708" stop-color="#ff2500"/><stop offset="0.750" stop-color="#ff2500"/><stop offset="0.792" stop-color="#ff2500"/><stop offset="0.833" stop-color="#ff2700"/><stop offset="0.875" stop-color="#ff2e00"/><stop offset="0.917" stop-color="#ff3800"/><stop offset="0.958" stop-color="#ff3e00"/><stop offset="1.000" stop-color="#ff4200"/></linearGradient><linearGradient id="h64" x1="0" y1="0" x2="1" y2="0"><stop offset="0.000" stop-color="#ff2200"/><stop offset="0.042" stop-color="#ff2300"/><stop offset="0.083" stop-color="#ff2500"/><stop offset="0.125" stop-color="#ff2600"/><stop offset="0.167" stop-color="#ff2700"/><stop offset="0.208" stop-color="#ff2800"/><stop offset="0.250" stop-color="#ff2900"/><stop offset="0.292" stop-color="#ff2a00"/><stop offset="0.333" stop-color="#ff2b00"/><stop offset="0.375" stop-color="#ff2c00"/><stop offset="0.417" stop-color="#ff2d00"/><stop offset="0.458" stop-color="#ff2f00"/><stop offset="0.500" stop-color="#ff3000"/><stop offset="0.542" stop-color="#ff3500"/><stop offset="0.583" stop-color="#ff3900"/><stop offset="0.625" stop-color="#ff3e00"/><stop offset="0.667" stop-color="#ff4200"/><stop offset="0.708" stop-color="#ff4600"/><stop offset="0.750" stop-color="#ff4b00"/><stop offset="0.792" stop-color="#ff4f00"/><stop offset="0.833" stop-color="#ff5400"/><stop offset="0.875" stop-color="#ff5900"/><stop offset="0.917" stop-color="#ff5e00"/><stop offset="0.958" stop-color="#ff6300"/><stop offset="1.000" stop-color="#ff6800"/></linearGradient><linearGradient id="h65" x1="0" y1="0" x2="1" y2="0"><stop offset="0.000" stop-color="#ff3900"/><stop offset="0.042" stop-color="#ff3a00"/><stop offset="0.083" stop-color="#ff3c00"/><stop offset="0.125" stop-color="#ff3d00"/><stop offset="0.167" stop-color="#ff3f00"/><stop offset="0.208" stop-color="#ff4000"/><stop offset="0.250" stop-color="#ff4200"/><stop offset="0.292" stop-color="#ff4300"/><stop offset="0.333" stop-color="#ff4500"/><stop offset="0.375" stop-color="#ff4600"/><stop offset="0.417" stop-color="#ff4800"/><stop offset="0.458" stop-color="#ff4900"/><stop offset="0.500" stop-color="#ff4b00"/><stop offset="0.542" stop-color="#ff4d00"/><stop offset="0.583" stop-color="#ff5000"/><stop offset="0.625" stop-color="#ff5200"/><stop offset="0.667" stop-color="#ff5400"/><stop offset="0.708" stop-color="#ff5600"/><stop offset="0.750" stop-color="#ff5900"/><stop offset="0.792" stop-color="#ff5b00"/><stop offset="0.833" stop-color="#ff5d00"/><stop offset="0.875" stop-color="#ff6000"/><stop offset="0.917" stop-color="#ff6200"/><stop offset="0.958" stop-color="#ff6400"/><stop offset="1.000" stop-color="#ff6600"/></linearGradient><linearGradient id="h66" x1="0" y1="0" x2="1" y2="0"><stop offset="0.000" stop-color="#ff5200"/><stop offset="0.042" stop-color="#ff5400"/><stop offset="0.083" stop-color="#ff5600"/><stop offset="0.125" stop-color="#ff5800"/><stop offset="0.167" stop-color="#ff5a00"/><stop offset="0.208" stop-color="#ff5c00"/><stop offset="0.250" stop-color="#ff5e00"/><stop offset="0.292" stop-color="#ff6000"/><stop offset="0.333" stop-color="#ff6200"/><stop offset="0.375" stop-color="#ff6400"/><stop offset="0.417" stop-color="#ff6600"/><stop offset="0.458" stop-color="#ff6800"/><stop offset="0.500" stop-color="#ff6a00"/><stop offset="0.542" stop-color="#ff6700"/><stop offset="0.583" stop-color="#ff6400"/><stop offset="0.625" stop-color="#ff6000"/><stop offset="0.667" stop-color="#ff5d00"/><stop offset="0.708" stop-color="#ff5900"/><stop offset="0.750" stop-color="#ff5600"/><stop offset="0.792" stop-color="#ff5300"/><stop offset="0.833" stop-color="#ff4f00"/><stop offset="0.875" stop-color="#ff4c00"/><stop offset="0.917" stop-color="#ff4800"/><stop offset="0.958" stop-color="#ff4500"/><stop offset="1.000" stop-color="#ff4200"/></linearGradient><linearGradient id="h67" x1="0" y1="0" x2="1" y2="0"><stop offset="0.000" stop-color="#ff7c00"/><stop offset="0.042" stop-color="#ff7f00"/><stop offset="0.083" stop-color="#ff8200"/><stop offset="0.125" stop-color="#ff8400"/><stop offset="0.167" stop-color="#ff8700"/><stop offset="0.208" stop-color="#ff8a00"/><stop offset="0.250" stop-color="#ff8c00"/><stop offset="0.292" stop-color="#ff8f00"/><stop offset="0.333" stop-color="#ff9200"/><stop offset="0.375" stop-color="#ff9400"/><stop offset="0.417" stop-color="#ff9700"/><stop offset="0.458" stop-color="#ff9a00"/><stop offset="0.500" stop-color="#ff9d00"/><stop offset="0.542" stop-color="#ff9e00"/><stop offset="0.583" stop-color="#ffa000"/><stop offset="0.625" stop-color="#ffa100"/><stop offset="0.667" stop-color="#ffa300"/><stop offset="0.708" stop-color="#ffa500"/><stop offset="0.750" stop-color="#ffa600"/><stop offset="0.792" stop-color="#ffa800"/><stop offset="0.833" stop-color="#ffaa00"/><stop offset="0.875" stop-color="#ffab00"/><stop offset="0.917" stop-color="#ffad00"/><stop offset="0.958" stop-color="#ffaf00"/><stop offset="1.000" stop-color="#ffb000"/></linearGradient><linearGradient id="h68" x1="0" y1="0" x2="1" y2="0"><stop offset="0.000" stop-color="#ff9e00"/><stop offset="0.042" stop-color="#ffa300"/><stop offset="0.083" stop-color="#ffa800"/><stop offset="0.125" stop-color="#ffad00"/><stop offset="0.167" stop-color="#ffb200"/><stop offset="0.208" stop-color="#ffb700"/><stop offset="0.250" stop-color="#ffbc00"/><stop offset="0.292" stop-color="#ffc100"/><stop offset="0.333" stop-color="#ffc600"/><stop offset="0.375" stop-color="#ffcb00"/><stop offset="0.417" stop-color="#ffd000"/><stop offset="0.458" stop-color="#ffd500"/><stop offset="0.500" stop-color="#ffda00"/><stop offset="0.542" stop-color="#ffde00"/><stop offset="0.583" stop-color="#ffe200"/><stop offset="0.625" stop-color="#ffe700"/><stop offset="0.667" stop-color="#ffeb00"/><stop offset="0.708" stop-color="#ffef00"/><stop offset="0.750" stop-color="#fff300"/><stop offset="0.792" stop-color="#fff700"/><stop offset="0.833" stop-color="#fffb00"/><stop offset="0.875" stop-color="#ffff00"/><stop offset="0.917" stop-color="#fbff04"/><stop offset="0.958" stop-color="#f7ff08"/><stop offset="1.000" stop-color="#f3ff0c"/></linearGradient><linearGradient id="h69" x1="0" y1="0" x2="1" y2="0"><stop offset="0.000" stop-color="#ffdb00"/><stop offset="0.042" stop-color="#ffe100"/><stop offset="0.083" stop-color="#ffe700"/><stop offset="0.125" stop-color="#ffed00"/><stop offset="0.167" stop-color="#fff300"/><stop offset="0.208" stop-color="#fff900"/><stop offset="0.250" stop-color="#fffe00"/><stop offset="0.292" stop-color="#faff05"/><stop offset="0.333" stop-color="#f4ff0b"/><stop offset="0.375" stop-color="#eeff11"/><stop offset="0.417" stop-color="#e8ff17"/><stop offset="0.458" stop-color="#e2ff1d"/><stop offset="0.500" stop-color="#dcff23"/><stop offset="0.542" stop-color="#d6ff29"/><stop offset="0.583" stop-color="#d0ff2f"/><stop offset="0.625" stop-color="#c9ff36"/><stop offset="0.667" stop-color="#c3ff3c"/><stop offset="0.708" stop-color="#bcff43"/><stop offset="0.750" stop-color="#b4ff4b"/><stop offset="0.792" stop-color="#b0ff4f"/><stop offset="0.833" stop-color="#a9ff56"/><stop offset="0.875" stop-color="#a3ff5c"/><stop offset="0.917" stop-color="#9dff62"/><stop offset="0.958" stop-color="#96ff69"/><stop offset="1.000" stop-color="#90ff6f"/></linearGradient><linearGradient id="h70" x1="0" y1="0" x2="1" y2="0"><stop offset="0.000" stop-color="#ecff13"/><stop offset="0.042" stop-color="#e4ff1b"/><stop offset="0.083" stop-color="#dbff24"/><stop offset="0.125" stop-color="#d3ff2c"/><stop offset="0.167" stop-color="#caff35"/><stop offset="0.208" stop-color="#c2ff3d"/><stop offset="0.250" stop-color="#b9ff46"/><stop offset="0.292" stop-color="#b1ff4e"/><stop offset="0.333" stop-color="#a9ff56"/><stop offset="0.375" stop-color="#a0ff5f"/><stop offset="0.417" stop-color="#98ff67"/><stop offset="0.458" stop-color="#8fff70"/><stop offset="0.500" stop-color="#87ff78"/><stop offset="0.542" stop-color="#7fff80"/><stop offset="0.583" stop-color="#78ff87"/><stop offset="0.625" stop-color="#71ff8e"/><stop offset="0.667" stop-color="#6aff95"/><stop offset="0.708" stop-color="#5fffa0"/><stop offset="0.750" stop-color="#4fffb0"/><stop offset="0.792" stop-color="#52ffad"/><stop offset="0.833" stop-color="#4cffb3"/><stop offset="0.875" stop-color="#45ffba"/><stop offset="0.917" stop-color="#3effc1"/><stop offset="0.958" stop-color="#38ffc7"/><stop offset="1.000" stop-color="#30ffcf"/></linearGradient><linearGradient id="h71" x1="0" y1="0" x2="1" y2="0"><stop offset="0.000" stop-color="#a4ff5b"/><stop offset="0.042" stop-color="#9bff64"/><stop offset="0.083" stop-color="#91ff6e"/><stop offset="0.125" stop-color="#88ff77"/><stop offset="0.167" stop-color="#7fff80"/><stop offset="0.208" stop-color="#75ff8a"/><stop offset="0.250" stop-color="#6cff93"/><stop offset="0.292" stop-color="#63ff9c"/><stop offset="0.333" stop-color="#59ffa6"/><stop offset="0.375" stop-color="#50ffaf"/><stop offset="0.417" stop-color="#46ffb9"/><stop offset="0.458" stop-color="#3dffc2"/><stop offset="0.500" stop-color="#34ffcb"/><stop offset="0.542" stop-color="#30ffcf"/><stop offset="0.583" stop-color="#2dffd2"/><stop offset="0.625" stop-color="#2affd5"/><stop offset="0.667" stop-color="#27ffd8"/><stop offset="0.708" stop-color="#17ffe8"/><stop offset="0.750" stop-color="#00f2ff"/><stop offset="0.792" stop-color="#0ffff0"/><stop offset="0.833" stop-color="#0bfff4"/><stop offset="0.875" stop-color="#09fff6"/><stop offset="0.917" stop-color="#0dfff2"/><stop offset="0.958" stop-color="#0ffff0"/><stop offset="1.000" stop-color="#0dfff2"/></linearGradient><linearGradient id="h72" x1="0" y1="0" x2="1" y2="0"><stop offset="0.000" stop-color="#46ffb9"/><stop offset="0.042" stop-color="#42ffbd"/><stop offset="0.083" stop-color="#3dffc2"/><stop offset="0.125" stop-color="#38ffc7"/><stop offset="0.167" stop-color="#33ffcc"/><stop offset="0.208" stop-color="#2fffd0"/><stop offset="0.250" stop-color="#2affd5"/><stop offset="0.292" stop-color="#25ffda"/><stop offset="0.333" stop-color="#21ffde"/><stop offset="0.375" stop-color="#1cffe3"/><stop offset="0.417" stop-color="#17ffe8"/><stop offset="0.458" stop-color="#12ffed"/><stop offset="0.500" stop-color="#0efff1"/><stop offset="0.542" stop-color="#0dfff2"/><stop offset="0.583" stop-color="#0cfff3"/><stop offset="0.625" stop-color="#0cfff3"/><stop offset="0.667" stop-color="#0bfff4"/><stop offset="0.708" stop-color="#00ebff"/><stop offset="0.750" stop-color="#009cff"/><stop offset="0.792" stop-color="#00e7ff"/><stop offset="0.833" stop-color="#00e5ff"/><stop offset="0.875" stop-color="#00e8ff"/><stop offset="0.917" stop-color="#00f7ff"/><stop offset="0.958" stop-color="#02fffd"/><stop offset="1.000" stop-color="#05fffa"/></linearGradient><linearGradient id="h73" x1="0" y1="0" x2="1" y2="0"><stop offset="0.000" stop-color="#00ddff"/><stop offset="0.042" stop-color="#00e0ff"/><stop offset="0.083" stop-color="#00e3ff"/><stop offset="0.125" stop-color="#00e6ff"/><stop offset="0.167" stop-color="#00e9ff"/><stop offset="0.208" stop-color="#00ebff"/><stop offset="0.250" stop-color="#00eeff"/><stop offset="0.292" stop-color="#00f1ff"/><stop offset="0.333" stop-color="#00f4ff"/><stop offset="0.375" stop-color="#00f7ff"/><stop offset="0.417" stop-color="#00f9ff"/><stop offset="0.458" stop-color="#00fcff"/><stop offset="0.500" stop-color="#00ffff"/><stop offset="0.542" stop-color="#01fffe"/><stop offset="0.583" stop-color="#01fffe"/><stop offset="0.625" stop-color="#02fffd"/><stop offset="0.667" stop-color="#02fffd"/><stop offset="0.708" stop-color="#00d2ff"/><stop offset="0.750" stop-color="#0059ff"/><stop offset="0.792" stop-color="#00e9ff"/><stop offset="0.833" stop-color="#00f9ff"/><stop offset="0.875" stop-color="#00fbff"/><stop offset="0.917" stop-color="#01fffe"/><stop offset="0.958" stop-color="#05fffa"/><stop offset="1.000" stop-color="#07fff8"/></linearGradient><linearGradient id="h74" x1="0" y1="0" x2="1" y2="0"><stop offset="0.000" stop-color="#00b2ff"/><stop offset="0.042" stop-color="#00b9ff"/><stop offset="0.083" stop-color="#00bfff"/><stop offset="0.125" stop-color="#00c6ff"/><stop offset="0.167" stop-color="#00ccff"/><stop offset="0.208" stop-color="#00d2ff"/><stop offset="0.250" stop-color="#00d9ff"/><stop offset="0.292" stop-color="#00dfff"/><stop offset="0.333" stop-color="#00e5ff"/><stop offset="0.375" stop-color="#00ecff"/><stop offset="0.417" stop-color="#00f2ff"/><stop offset="0.458" stop-color="#00f9ff"/><stop offset="0.500" stop-color="#00ffff"/><stop offset="0.542" stop-color="#01fffe"/><stop offset="0.583" stop-color="#01fffe"/><stop offset="0.625" stop-color="#02fffd"/><stop offset="0.667" stop-color="#02fffd"/><stop offset="0.708" stop-color="#00cdff"/><stop offset="0.750" stop-color="#0048ff"/><stop offset="0.792" stop-color="#00edff"/><stop offset="0.833" stop-color="#05fffa"/><stop offset="0.875" stop-color="#06fff9"/><stop offset="0.917" stop-color="#07fff8"/><stop offset="0.958" stop-color="#08fff7"/><stop offset="1.000" stop-color="#08fff7"/></linearGradient><linearGradient id="h75" x1="0" y1="0" x2="1" y2="0"><stop offset="0.000" stop-color="#00b2ff"/><stop offset="0.042" stop-color="#00b9ff"/><stop offset="0.083" stop-color="#00bfff"/><stop offset="0.125" stop-color="#00c6ff"/><stop offset="0.167" stop-color="#00ccff"/><stop offset="0.208" stop-color="#00d2ff"/><stop offset="0.250" stop-color="#00d9ff"/><stop offset="0.292" stop-color="#00dfff"/><stop offset="0.333" stop-color="#00e5ff"/><stop offset="0.375" stop-color="#00ecff"/><stop offset="0.417" stop-color="#00f2ff"/><stop offset="0.458" stop-color="#00f9ff"/><stop offset="0.500" stop-color="#00ffff"/><stop offset="0.542" stop-color="#01fffe"/><stop offset="0.583" stop-color="#02fffd"/><stop offset="0.625" stop-color="#02fffd"/><stop offset="0.667" stop-color="#03fffc"/><stop offset="0.708" stop-color="#00daff"/><stop offset="0.750" stop-color="#0074ff"/><stop offset="0.792" stop-color="#00f4ff"/><stop offset="0.833" stop-color="#06fff9"/><stop offset="0.875" stop-color="#07fff8"/><stop offset="0.917" stop-color="#08fff7"/><stop offset="0.958" stop-color="#09fff6"/><stop offset="1.000" stop-color="#0afff5"/></linearGradient><linearGradient id="h76" x1="0" y1="0" x2="1" y2="0"><stop offset="0.000" stop-color="#00d5ff"/><stop offset="0.042" stop-color="#00d9ff"/><stop offset="0.083" stop-color="#00deff"/><stop offset="0.125" stop-color="#00e2ff"/><stop offset="0.167" stop-color="#00e6ff"/><stop offset="0.208" stop-color="#00ebff"/><stop offset="0.250" stop-color="#00efff"/><stop offset="0.292" stop-color="#00f3ff"/><stop offset="0.333" stop-color="#00f8ff"/><stop offset="0.375" stop-color="#00fcff"/><stop offset="0.417" stop-color="#01fffe"/><stop offset="0.458" stop-color="#06fff9"/><stop offset="0.500" stop-color="#0afff5"/><stop offset="0.542" stop-color="#0bfff4"/><stop offset="0.583" stop-color="#0cfff3"/><stop offset="0.625" stop-color="#0cfff3"/><stop offset="0.667" stop-color="#0dfff2"/><stop offset="0.708" stop-color="#00f7ff"/><stop offset="0.750" stop-color="#00c2ff"/><stop offset="0.792" stop-color="#07fff8"/><stop offset="0.833" stop-color="#10ffef"/><stop offset="0.875" stop-color="#11ffee"/><stop offset="0.917" stop-color="#12ffed"/><stop offset="0.958" stop-color="#13ffec"/><stop offset="1.000" stop-color="#13ffec"/></linearGradient><linearGradient id="h77" x1="0" y1="0" x2="1" y2="0"><stop offset="0.000" stop-color="#02fffd"/><stop offset="0.042" stop-color="#04fffb"/><stop offset="0.083" stop-color="#07fff8"/><stop offset="0.125" stop-color="#09fff6"/><stop offset="0.167" stop-color="#0cfff3"/><stop offset="0.208" stop-color="#0efff1"/><stop offset="0.250" stop-color="#10ffef"/><stop offset="0.292" stop-color="#13ffec"/><stop offset="0.333" stop-color="#15ffea"/><stop offset="0.375" stop-color="#17ffe8"/><stop offset="0.417" stop-color="#1affe5"/><stop offset="0.458" stop-color="#1cffe3"/><stop offset="0.500" stop-color="#1fffe0"/><stop offset="0.542" stop-color="#1fffe0"/><stop offset="0.583" stop-color="#20ffdf"/><stop offset="0.625" stop-color="#20ffdf"/><stop offset="0.667" stop-color="#21ffde"/><stop offset="0.708" stop-color="#1affe5"/><stop offset="0.750" stop-color="#07fff8"/><stop offset="0.792" stop-color="#1fffe0"/><stop offset="0.833" stop-color="#23ffdc"/><stop offset="0.875" stop-color="#24ffdb"/><stop offset="0.917" stop-color="#25ffda"/><stop offset="0.958" stop-color="#25ffda"/><stop offset="1.000" stop-color="#25ffda"/></linearGradient><linearGradient id="h78" x1="0" y1="0" x2="1" y2="0"><stop offset="0.000" stop-color="#31ffce"/><stop offset="0.042" stop-color="#32ffcd"/><stop offset="0.083" stop-color="#33ffcc"/><stop offset="0.125" stop-color="#34ffcb"/><stop offset="0.167" stop-color="#35ffca"/><stop offset="0.208" stop-color="#35ffca"/><stop offset="0.250" stop-color="#36ffc9"/><stop offset="0.292" stop-color="#37ffc8"/><stop offset="0.333" stop-color="#38ffc7"/><stop offset="0.375" stop-color="#39ffc6"/><stop offset="0.417" stop-color="#3affc5"/><stop offset="0.458" stop-color="#3bffc4"/><stop offset="0.500" stop-color="#3cffc3"/><stop offset="0.542" stop-color="#3cffc3"/><stop offset="0.583" stop-color="#3cffc3"/><stop offset="0.625" stop-color="#3cffc3"/><stop offset="0.667" stop-color="#3dffc2"/><stop offset="0.708" stop-color="#3bffc4"/><stop offset="0.750" stop-color="#37ffc8"/><stop offset="0.792" stop-color="#3dffc2"/><stop offset="0.833" stop-color="#3fffc0"/><stop offset="0.875" stop-color="#3fffc0"/><stop offset="0.917" stop-color="#40ffbf"/><stop offset="0.958" stop-color="#3fffc0"/><stop offset="1.000" stop-color="#3fffc0"/></linearGradient><linearGradient id="h79" x1="0" y1="0" x2="1" y2="0"><stop offset="0.000" stop-color="#5affa5"/><stop offset="0.042" stop-color="#5bffa4"/><stop offset="0.083" stop-color="#5bffa4"/><stop offset="0.125" stop-color="#5cffa3"/><stop offset="0.167" stop-color="#5dffa2"/><stop offset="0.208" stop-color="#5dffa2"/><stop offset="0.250" stop-color="#5effa1"/><stop offset="0.292" stop-color="#5effa1"/><stop offset="0.333" stop-color="#5fffa0"/><stop offset="0.375" stop-color="#5fffa0"/><stop offset="0.417" stop-color="#60ff9f"/><stop offset="0.458" stop-color="#60ff9f"/><stop offset="0.500" stop-color="#61ff9e"/><stop offset="0.542" stop-color="#61ff9e"/><stop offset="0.583" stop-color="#61ff9e"/><stop offset="0.625" stop-color="#61ff9e"/><stop offset="0.667" stop-color="#61ff9e"/><stop offset="0.708" stop-color="#61ff9e"/><stop offset="0.750" stop-color="#60ff9f"/><stop offset="0.792" stop-color="#62ff9d"/><stop offset="0.833" stop-color="#63ff9c"/><stop offset="0.875" stop-color="#63ff9c"/><stop offset="0.917" stop-color="#63ff9c"/><stop offset="0.958" stop-color="#62ff9d"/><stop offset="1.000" stop-color="#61ff9e"/></linearGradient><linearGradient id="h80" x1="0" y1="0" x2="1" y2="0"><stop offset="0.000" stop-color="#6cff93"/><stop offset="0.042" stop-color="#6dff92"/><stop offset="0.083" stop-color="#6eff91"/><stop offset="0.125" stop-color="#6fff90"/><stop offset="0.167" stop-color="#6fff90"/><stop offset="0.208" stop-color="#70ff8f"/><stop offset="0.250" stop-color="#71ff8e"/><stop offset="0.292" stop-color="#72ff8d"/><stop offset="0.333" stop-color="#72ff8d"/><stop offset="0.375" stop-color="#73ff8c"/><stop offset="0.417" stop-color="#74ff8b"/><stop offset="0.458" stop-color="#75ff8a"/><stop offset="0.500" stop-color="#75ff8a"/><stop offset="0.542" stop-color="#75ff8a"/><stop offset="0.583" stop-color="#75ff8a"/><stop offset="0.625" stop-color="#75ff8a"/><stop offset="0.667" stop-color="#75ff8a"/><stop offset="0.708" stop-color="#75ff8a"/><stop offset="0.750" stop-color="#76ff89"/><stop offset="0.792" stop-color="#77ff88"/><stop offset="0.833" stop-color="#79ff86"/><stop offset="0.875" stop-color="#79ff86"/><stop offset="0.917" stop-color="#79ff86"/><stop offset="0.958" stop-color="#77ff88"/><stop offset="1.000" stop-color="#76ff89"/></linearGradient><linearGradient id="h81" x1="0" y1="0" x2="1" y2="0"><stop offset="0.000" stop-color="#77ff88"/><stop offset="0.042" stop-color="#77ff88"/><stop offset="0.083" stop-color="#78ff87"/><stop offset="0.125" stop-color="#79ff86"/><stop offset="0.167" stop-color="#7aff85"/><stop offset="0.208" stop-color="#7bff84"/><stop offset="0.250" stop-color="#7cff83"/><stop offset="0.292" stop-color="#7cff83"/><stop offset="0.333" stop-color="#7dff82"/><stop offset="0.375" stop-color="#7eff81"/><stop offset="0.417" stop-color="#7fff80"/><stop offset="0.458" stop-color="#80ff7f"/><stop offset="0.500" stop-color="#81ff7e"/><stop offset="0.542" stop-color="#81ff7e"/><stop offset="0.583" stop-color="#81ff7e"/><stop offset="0.625" stop-color="#81ff7e"/><stop offset="0.667" stop-color="#81ff7e"/><stop offset="0.708" stop-color="#82ff7d"/><stop offset="0.750" stop-color="#83ff7c"/><stop offset="0.792" stop-color="#85ff7a"/><stop offset="0.833" stop-color="#87ff78"/><stop offset="0.875" stop-color="#88ff77"/><stop offset="0.917" stop-color="#88ff77"/><stop offset="0.958" stop-color="#85ff7a"/><stop offset="1.000" stop-color="#84ff7b"/></linearGradient><linearGradient id="h82" x1="0" y1="0" x2="1" y2="0"><stop offset="0.000" stop-color="#79ff86"/><stop offset="0.042" stop-color="#7aff85"/><stop offset="0.083" stop-color="#7bff84"/><stop offset="0.125" stop-color="#7bff84"/><stop offset="0.167" stop-color="#7cff83"/><stop offset="0.208" stop-color="#7dff82"/><stop offset="0.250" stop-color="#7eff81"/><stop offset="0.292" stop-color="#7fff80"/><stop offset="0.333" stop-color="#7fff80"/><stop offset="0.375" stop-color="#80ff7f"/><stop offset="0.417" stop-color="#81ff7e"/><stop offset="0.458" stop-color="#82ff7d"/><stop offset="0.500" stop-color="#83ff7c"/><stop offset="0.542" stop-color="#83ff7c"/><stop offset="0.583" stop-color="#84ff7b"/><stop offset="0.625" stop-color="#84ff7b"/><stop offset="0.667" stop-color="#85ff7a"/><stop offset="0.708" stop-color="#86ff79"/><stop offset="0.750" stop-color="#87ff78"/><stop offset="0.792" stop-color="#8bff74"/><stop offset="0.833" stop-color="#8fff70"/><stop offset="0.875" stop-color="#91ff6e"/><stop offset="0.917" stop-color="#90ff6f"/><stop offset="0.958" stop-color="#8dff72"/><stop offset="1.000" stop-color="#8aff75"/></linearGradient><linearGradient id="h83" x1="0" y1="0" x2="1" y2="0"><stop offset="0.000" stop-color="#7cff83"/><stop offset="0.042" stop-color="#7cff83"/><stop offset="0.083" stop-color="#7dff82"/><stop offset="0.125" stop-color="#7eff81"/><stop offset="0.167" stop-color="#7fff80"/><stop offset="0.208" stop-color="#7fff80"/><stop offset="0.250" stop-color="#80ff7f"/><stop offset="0.292" stop-color="#81ff7e"/><stop offset="0.333" stop-color="#82ff7d"/><stop offset="0.375" stop-color="#82ff7d"/><stop offset="0.417" stop-color="#83ff7c"/><stop offset="0.458" stop-color="#84ff7b"/><stop offset="0.500" stop-color="#85ff7a"/><stop offset="0.542" stop-color="#85ff7a"/><stop offset="0.583" stop-color="#86ff79"/><stop offset="0.625" stop-color="#87ff78"/><stop offset="0.667" stop-color="#88ff77"/><stop offset="0.708" stop-color="#8aff75"/><stop offset="0.750" stop-color="#8cff73"/><stop offset="0.792" stop-color="#91ff6e"/><stop offset="0.833" stop-color="#96ff69"/><stop offset="0.875" stop-color="#99ff66"/><stop offset="0.917" stop-color="#98ff67"/><stop offset="0.958" stop-color="#94ff6b"/><stop offset="1.000" stop-color="#91ff6e"/></linearGradient><linearGradient id="h84" x1="0" y1="0" x2="1" y2="0"><stop offset="0.000" stop-color="#7eff81"/><stop offset="0.042" stop-color="#7fff80"/><stop offset="0.083" stop-color="#80ff7f"/><stop offset="0.125" stop-color="#80ff7f"/><stop offset="0.167" stop-color="#81ff7e"/><stop offset="0.208" stop-color="#82ff7d"/><stop offset="0.250" stop-color="#82ff7d"/><stop offset="0.292" stop-color="#83ff7c"/><stop offset="0.333" stop-color="#84ff7b"/><stop offset="0.375" stop-color="#85ff7a"/><stop offset="0.417" stop-color="#85ff7a"/><stop offset="0.458" stop-color="#86ff79"/><stop offset="0.500" stop-color="#87ff78"/><stop offset="0.542" stop-color="#88ff77"/><stop offset="0.583" stop-color="#89ff76"/><stop offset="0.625" stop-color="#8aff75"/><stop offset="0.667" stop-color="#8cff73"/><stop offset="0.708" stop-color="#8eff71"/><stop offset="0.750" stop-color="#91ff6e"/><stop offset="0.792" stop-color="#97ff68"/><stop offset="0.833" stop-color="#9fff60"/><stop offset="0.875" stop-color="#a3ff5c"/><stop offset="0.917" stop-color="#a1ff5e"/><stop offset="0.958" stop-color="#9cff63"/><stop offset="1.000" stop-color="#98ff67"/></linearGradient><linearGradient id="h85" x1="0" y1="0" x2="1" y2="0"><stop offset="0.000" stop-color="#81ff7e"/><stop offset="0.042" stop-color="#81ff7e"/><stop offset="0.083" stop-color="#82ff7d"/><stop offset="0.125" stop-color="#83ff7c"/><stop offset="0.167" stop-color="#83ff7c"/><stop offset="0.208" stop-color="#84ff7b"/><stop offset="0.250" stop-color="#85ff7a"/><stop offset="0.292" stop-color="#85ff7a"/><stop offset="0.333" stop-color="#86ff79"/><stop offset="0.375" stop-color="#87ff78"/><stop offset="0.417" stop-color="#87ff78"/><stop offset="0.458" stop-color="#88ff77"/><stop offset="0.500" stop-color="#89ff76"/><stop offset="0.542" stop-color="#8aff75"/><stop offset="0.583" stop-color="#8cff73"/><stop offset="0.625" stop-color="#8dff72"/><stop offset="0.667" stop-color="#8fff70"/><stop offset="0.708" stop-color="#92ff6d"/><stop offset="0.750" stop-color="#96ff69"/><stop offset="0.792" stop-color="#9eff61"/><stop offset="0.833" stop-color="#a7ff58"/><stop offset="0.875" stop-color="#acff53"/><stop offset="0.917" stop-color="#aaff55"/><stop offset="0.958" stop-color="#a4ff5b"/><stop offset="1.000" stop-color="#9fff60"/></linearGradient><linearGradient id="h86" x1="0" y1="0" x2="1" y2="0"><stop offset="0.000" stop-color="#83ff7c"/><stop offset="0.042" stop-color="#84ff7b"/><stop offset="0.083" stop-color="#85ff7a"/><stop offset="0.125" stop-color="#85ff7a"/><stop offset="0.167" stop-color="#86ff79"/><stop offset="0.208" stop-color="#86ff79"/><stop offset="0.250" stop-color="#87ff78"/><stop offset="0.292" stop-color="#88ff77"/><stop offset="0.333" stop-color="#88ff77"/><stop offset="0.375" stop-color="#89ff76"/><stop offset="0.417" stop-color="#89ff76"/><stop offset="0.458" stop-color="#8aff75"/><stop offset="0.500" stop-color="#8bff74"/><stop offset="0.542" stop-color="#8dff72"/><stop offset="0.583" stop-color="#8fff70"/><stop offset="0.625" stop-color="#91ff6e"/><stop offset="0.667" stop-color="#93ff6c"/><stop offset="0.708" stop-color="#96ff69"/><stop offset="0.750" stop-color="#9bff64"/><stop offset="0.792" stop-color="#a5ff5a"/><stop offset="0.833" stop-color="#b0ff4f"/><stop offset="0.875" stop-color="#b6ff49"/><stop offset="0.917" stop-color="#b4ff4b"/><stop offset="0.958" stop-color="#adff52"/><stop offset="1.000" stop-color="#a7ff58"/></linearGradient><linearGradient id="h87" x1="0" y1="0" x2="1" y2="0"><stop offset="0.000" stop-color="#86ff79"/><stop offset="0.042" stop-color="#86ff79"/><stop offset="0.083" stop-color="#87ff78"/><stop offset="0.125" stop-color="#88ff77"/><stop offset="0.167" stop-color="#88ff77"/><stop offset="0.208" stop-color="#89ff76"/><stop offset="0.250" stop-color="#89ff76"/><stop offset="0.292" stop-color="#8aff75"/><stop offset="0.333" stop-color="#8aff75"/><stop offset="0.375" stop-color="#8bff74"/><stop offset="0.417" stop-color="#8cff73"/><stop offset="0.458" stop-color="#8cff73"/><stop offset="0.500" stop-color="#8dff72"/><stop offset="0.542" stop-color="#8fff70"/><stop offset="0.583" stop-color="#92ff6d"/><stop offset="0.625" stop-color="#94ff6b"/><stop offset="0.667" stop-color="#97ff68"/><stop offset="0.708" stop-color="#9bff64"/><stop offset="0.750" stop-color="#a1ff5e"/><stop offset="0.792" stop-color="#acff53"/><stop offset="0.833" stop-color="#b8ff47"/><stop offset="0.875" stop-color="#c0ff3f"/><stop offset="0.917" stop-color="#bdff42"/><stop offset="0.958" stop-color="#b6ff49"/><stop offset="1.000" stop-color="#b0ff4f"/></linearGradient><linearGradient id="h88" x1="0" y1="0" x2="1" y2="0"><stop offset="0.000" stop-color="#88ff77"/><stop offset="0.042" stop-color="#89ff76"/><stop offset="0.083" stop-color="#89ff76"/><stop offset="0.125" stop-color="#8aff75"/><stop offset="0.167" stop-color="#8bff74"/><stop offset="0.208" stop-color="#8bff74"/><stop offset="0.250" stop-color="#8cff73"/><stop offset="0.292" stop-color="#8cff73"/><stop offset="0.333" stop-color="#8dff72"/><stop offset="0.375" stop-color="#8dff72"/><stop offset="0.417" stop-color="#8eff71"/><stop offset="0.458" stop-color="#8eff71"/><stop offset="0.500" stop-color="#8fff70"/><stop offset="0.542" stop-color="#92ff6d"/><stop offset="0.583" stop-color="#95ff6a"/><stop offset="0.625" stop-color="#98ff67"/><stop offset="0.667" stop-color="#9bff64"/><stop offset="0.708" stop-color="#9fff60"/><stop offset="0.750" stop-color="#a7ff58"/><stop offset="0.792" stop-color="#b2ff4d"/><stop offset="0.833" stop-color="#c0ff3f"/><stop offset="0.875" stop-color="#c8ff37"/><stop offset="0.917" stop-color="#c6ff39"/><stop offset="0.958" stop-color="#beff41"/><stop offset="1.000" stop-color="#b8ff47"/></linearGradient><linearGradient id="h89" x1="0" y1="0" x2="1" y2="0"><stop offset="0.000" stop-color="#8bff74"/><stop offset="0.042" stop-color="#8bff74"/><stop offset="0.083" stop-color="#8cff73"/><stop offset="0.125" stop-color="#8cff73"/><stop offset="0.167" stop-color="#8dff72"/><stop offset="0.208" stop-color="#8dff72"/><stop offset="0.250" stop-color="#8eff71"/><stop offset="0.292" stop-color="#8eff71"/><stop offset="0.333" stop-color="#8fff70"/><stop offset="0.375" stop-color="#8fff70"/><stop offset="0.417" stop-color="#90ff6f"/><stop offset="0.458" stop-color="#90ff6f"/><stop offset="0.500" stop-color="#91ff6e"/><stop offset="0.542" stop-color="#94ff6b"/><stop offset="0.583" stop-color="#98ff67"/><stop offset="0.625" stop-color="#9bff64"/><stop offset="0.667" stop-color="#9fff60"/><stop offset="0.708" stop-color="#a4ff5b"/><stop offset="0.750" stop-color="#acff53"/><stop offset="0.792" stop-color="#b8ff47"/><stop offset="0.833" stop-color="#c6ff39"/><stop offset="0.875" stop-color="#cfff30"/><stop offset="0.917" stop-color="#cdff32"/><stop offset="0.958" stop-color="#c6ff39"/><stop offset="1.000" stop-color="#c0ff3f"/></linearGradient><linearGradient id="h90" x1="0" y1="0" x2="1" y2="0"><stop offset="0.000" stop-color="#8eff71"/><stop offset="0.042" stop-color="#8eff71"/><stop offset="0.083" stop-color="#8eff71"/><stop offset="0.125" stop-color="#8fff70"/><stop offset="0.167" stop-color="#8fff70"/><stop offset="0.208" stop-color="#90ff6f"/><stop offset="0.250" stop-color="#90ff6f"/><stop offset="0.292" stop-color="#91ff6e"/><stop offset="0.333" stop-color="#91ff6e"/><stop offset="0.375" stop-color="#92ff6d"/><stop offset="0.417" stop-color="#92ff6d"/><stop offset="0.458" stop-color="#92ff6d"/><stop offset="0.500" stop-color="#93ff6c"/><stop offset="0.542" stop-color="#97ff68"/><stop offset="0.583" stop-color="#9bff64"/><stop offset="0.625" stop-color="#9fff60"/><stop offset="0.667" stop-color="#a3ff5c"/><stop offset="0.708" stop-color="#a8ff57"/><stop offset="0.750" stop-color="#b0ff4f"/><stop offset="0.792" stop-color="#bdff42"/><stop offset="0.833" stop-color="#cbff34"/><stop offset="0.875" stop-color="#d4ff2b"/><stop offset="0.917" stop-color="#d3ff2c"/><stop offset="0.958" stop-color="#cdff32"/><stop offset="1.000" stop-color="#c8ff37"/></linearGradient><linearGradient id="cb" x1="0" y1="0" x2="1" y2="0"><stop offset="0.00" stop-color="#000080"/><stop offset="0.05" stop-color="#0000b2"/><stop offset="0.10" stop-color="#0000e6"/><stop offset="0.15" stop-color="#001aff"/><stop offset="0.20" stop-color="#004dff"/><stop offset="0.25" stop-color="#0080ff"/><stop offset="0.30" stop-color="#00b2ff"/><stop offset="0.35" stop-color="#00e5ff"/><stop offset="0.40" stop-color="#1affe5"/><stop offset="0.45" stop-color="#4dffb2"/><stop offset="0.50" stop-color="#80ff80"/><stop offset="0.55" stop-color="#b3ff4c"/><stop offset="0.60" stop-color="#e5ff1a"/><stop offset="0.65" stop-color="#ffe500"/><stop offset="0.70" stop-color="#ffb300"/><stop offset="0.75" stop-color="#ff8000"/><stop offset="0.80" stop-color="#ff4c00"/><stop offset="0.85" stop-color="#ff1a00"/><stop offset="0.90" stop-color="#e50000"/><stop offset="0.95" stop-color="#b30000"/><stop offset="1.00" stop-color="#800000"/></linearGradient><filter id="bl" x="0" y="0" width="448" height="252" filterUnits="userSpaceOnUse"><feGaussianBlur stdDeviation="0.45"/></filter></defs>
<g filter="url(#bl)">
<g id="crystal">
<polygon points="112.8,3.2 129.6,15.5 125.3,25.8 117.2,32.0 109.4,36.6 95.6,20.8" fill="#adacd9" fill-opacity="0.92"/>
<polygon points="145.9,4.2 159.5,20.0 155.5,21.8 142.5,37.6 125.3,25.8 138.2,9.8" fill="#adacd9" fill-opacity="0.92"/>
<polygon points="109.4,36.6 130.3,46.0 125.7,49.3 112.2,64.8 96.0,51.9 99.9,42.7" fill="#adacd9" fill-opacity="0.92"/>
<polygon points="142.5,37.6 159.0,43.7 156.5,52.3 139.6,64.2 125.7,49.3 130.3,46.0" fill="#adacd9" fill-opacity="0.92"/>
<polygon points="112.2,64.8 130.7,70.2 125.7,80.3 110.4,91.3 96.0,75.7 100.0,73.7" fill="#adacd9" fill-opacity="0.92"/>
<polygon points="139.6,64.2 159.8,74.7 156.0,76.3 143.0,92.3 125.7,80.3 130.7,70.2" fill="#adacd9" fill-opacity="0.92"/>
<polygon points="112.2,10.3 125.3,25.8 106.5,28.4" fill="#a4a3d4" fill-opacity="0.6"/>
<polygon points="112.2,10.3 99.3,19.2 106.5,28.4" fill="#9593c8" fill-opacity="0.75"/>
<polygon points="138.2,9.8 155.5,21.8 140.6,25.2" fill="#a4a3d4" fill-opacity="0.6"/>
<polygon points="138.2,9.8 125.3,25.8 140.6,25.2" fill="#9593c8" fill-opacity="0.75"/>
<polygon points="109.4,36.6 125.7,49.3 106.9,51.9" fill="#a4a3d4" fill-opacity="0.6"/>
<polygon points="109.4,36.6 96.0,51.9 106.9,51.9" fill="#9593c8" fill-opacity="0.75"/>
<polygon points="142.5,37.6 156.5,52.3 141.0,55.9" fill="#a4a3d4" fill-opacity="0.6"/>
<polygon points="142.5,37.6 125.7,49.3 141.0,55.9" fill="#9593c8" fill-opacity="0.75"/>
<polygon points="112.2,64.8 125.7,80.3 106.9,82.5" fill="#a4a3d4" fill-opacity="0.6"/>
<polygon points="112.2,64.8 96.0,75.7 106.9,82.5" fill="#9593c8" fill-opacity="0.75"/>
<polygon points="139.6,64.2 156.0,76.3 141.2,79.7" fill="#a4a3d4" fill-opacity="0.6"/>
<polygon points="139.6,64.2 125.7,80.3 141.2,79.7" fill="#9593c8" fill-opacity="0.75"/>
<line x1="110.8" y1="23.3" x2="111.5" y2="16.8" stroke="#c9a878" stroke-width="1.2"/>
<line x1="111.5" y1="16.8" x2="112.2" y2="10.3" stroke="#4aa070" stroke-width="1.1"/>
<line x1="110.8" y1="23.3" x2="105.0" y2="21.2" stroke="#c9a878" stroke-width="1.2"/>
<line x1="105.0" y1="21.2" x2="99.3" y2="19.2" stroke="#4aa070" stroke-width="1.1"/>
<line x1="110.8" y1="23.3" x2="118.0" y2="24.6" stroke="#c9a878" stroke-width="1.2"/>
<line x1="118.0" y1="24.6" x2="125.3" y2="25.8" stroke="#4aa070" stroke-width="1.1"/>
<line x1="110.8" y1="23.3" x2="108.7" y2="25.9" stroke="#c9a878" stroke-width="1.2"/>
<line x1="108.7" y1="25.9" x2="106.5" y2="28.4" stroke="#4aa070" stroke-width="1.1"/>
<line x1="110.8" y1="23.3" x2="110.1" y2="30.0" stroke="#c9a878" stroke-width="1.2"/>
<line x1="110.1" y1="30.0" x2="109.4" y2="36.7" stroke="#4aa070" stroke-width="1.1"/>
<line x1="110.8" y1="23.3" x2="112.8" y2="21.1" stroke="#c9a878" stroke-width="1.2"/>
<line x1="112.8" y1="21.1" x2="114.8" y2="18.8" stroke="#4aa070" stroke-width="1.1"/>
<line x1="140.6" y1="22.8" x2="139.4" y2="16.4" stroke="#c9a878" stroke-width="1.2"/>
<line x1="139.4" y1="16.4" x2="138.2" y2="9.9" stroke="#4aa070" stroke-width="1.1"/>
<line x1="140.6" y1="22.8" x2="132.9" y2="24.3" stroke="#c9a878" stroke-width="1.2"/>
<line x1="132.9" y1="24.3" x2="125.3" y2="25.8" stroke="#4aa070" stroke-width="1.1"/>
<line x1="140.6" y1="22.8" x2="148.1" y2="22.3" stroke="#c9a878" stroke-width="1.2"/>
<line x1="148.1" y1="22.3" x2="155.5" y2="21.8" stroke="#4aa070" stroke-width="1.1"/>
<line x1="140.6" y1="22.8" x2="140.6" y2="24.0" stroke="#c9a878" stroke-width="1.2"/>
<line x1="140.6" y1="24.0" x2="140.6" y2="25.2" stroke="#4aa070" stroke-width="1.1"/>
<line x1="140.6" y1="22.8" x2="141.4" y2="30.2" stroke="#c9a878" stroke-width="1.2"/>
<line x1="141.4" y1="30.2" x2="142.2" y2="37.7" stroke="#4aa070" stroke-width="1.1"/>
<line x1="140.6" y1="22.8" x2="144.8" y2="18.1" stroke="#c9a878" stroke-width="1.2"/>
<line x1="144.8" y1="18.1" x2="149" y2="13.3" stroke="#4aa070" stroke-width="1.1"/>
<line x1="110.8" y1="49.9" x2="110.1" y2="43.3" stroke="#c9a878" stroke-width="1.2"/>
<line x1="110.1" y1="43.3" x2="109.4" y2="36.7" stroke="#4aa070" stroke-width="1.1"/>
<line x1="110.8" y1="49.9" x2="103.4" y2="50.9" stroke="#c9a878" stroke-width="1.2"/>
<line x1="103.4" y1="50.9" x2="96" y2="51.9" stroke="#4aa070" stroke-width="1.1"/>
<line x1="110.8" y1="49.9" x2="118.2" y2="49.6" stroke="#c9a878" stroke-width="1.2"/>
<line x1="118.2" y1="49.6" x2="125.7" y2="49.3" stroke="#4aa070" stroke-width="1.1"/>
<line x1="110.8" y1="49.9" x2="108.8" y2="50.9" stroke="#c9a878" stroke-width="1.2"/>
<line x1="108.8" y1="50.9" x2="106.9" y2="51.9" stroke="#4aa070" stroke-width="1.1"/>
<line x1="110.8" y1="49.9" x2="111.5" y2="57.3" stroke="#c9a878" stroke-width="1.2"/>
<line x1="111.5" y1="57.3" x2="112.2" y2="64.8" stroke="#4aa070" stroke-width="1.1"/>
<line x1="110.8" y1="49.9" x2="112.3" y2="54.5" stroke="#c9a878" stroke-width="1.2"/>
<line x1="112.3" y1="54.5" x2="113.8" y2="59.2" stroke="#4aa070" stroke-width="1.1"/>
<line x1="140.6" y1="49.9" x2="141.4" y2="43.8" stroke="#c9a878" stroke-width="1.2"/>
<line x1="141.4" y1="43.8" x2="142.2" y2="37.7" stroke="#4aa070" stroke-width="1.1"/>
<line x1="140.6" y1="49.9" x2="133.2" y2="49.6" stroke="#c9a878" stroke-width="1.2"/>
<line x1="133.2" y1="49.6" x2="125.7" y2="49.3" stroke="#4aa070" stroke-width="1.1"/>
<line x1="140.6" y1="49.9" x2="148.6" y2="51.1" stroke="#c9a878" stroke-width="1.2"/>
<line x1="148.6" y1="51.1" x2="156.5" y2="52.3" stroke="#4aa070" stroke-width="1.1"/>
<line x1="140.6" y1="49.9" x2="140.8" y2="52.9" stroke="#c9a878" stroke-width="1.2"/>
<line x1="140.8" y1="52.9" x2="141" y2="55.9" stroke="#4aa070" stroke-width="1.1"/>
<line x1="140.6" y1="49.9" x2="140.1" y2="57.0" stroke="#c9a878" stroke-width="1.2"/>
<line x1="140.1" y1="57.0" x2="139.6" y2="64.2" stroke="#4aa070" stroke-width="1.1"/>
<line x1="140.6" y1="49.9" x2="143.8" y2="54.5" stroke="#c9a878" stroke-width="1.2"/>
<line x1="143.8" y1="54.5" x2="147" y2="59.2" stroke="#4aa070" stroke-width="1.1"/>
<line x1="110.8" y1="77.3" x2="111.5" y2="71.0" stroke="#c9a878" stroke-width="1.2"/>
<line x1="111.5" y1="71.0" x2="112.2" y2="64.8" stroke="#4aa070" stroke-width="1.1"/>
<line x1="110.8" y1="77.3" x2="105.4" y2="75.5" stroke="#c9a878" stroke-width="1.2"/>
<line x1="105.4" y1="75.5" x2="100" y2="73.7" stroke="#4aa070" stroke-width="1.1"/>
<line x1="110.8" y1="77.3" x2="118.2" y2="78.8" stroke="#c9a878" stroke-width="1.2"/>
<line x1="118.2" y1="78.8" x2="125.7" y2="80.3" stroke="#4aa070" stroke-width="1.1"/>
<line x1="110.8" y1="77.3" x2="108.8" y2="79.9" stroke="#c9a878" stroke-width="1.2"/>
<line x1="108.8" y1="79.9" x2="106.9" y2="82.5" stroke="#4aa070" stroke-width="1.1"/>
<line x1="110.8" y1="77.3" x2="110.6" y2="84.3" stroke="#c9a878" stroke-width="1.2"/>
<line x1="110.6" y1="84.3" x2="110.4" y2="91.3" stroke="#4aa070" stroke-width="1.1"/>
<line x1="110.8" y1="77.3" x2="114.1" y2="81.8" stroke="#c9a878" stroke-width="1.2"/>
<line x1="114.1" y1="81.8" x2="117.4" y2="86.2" stroke="#4aa070" stroke-width="1.1"/>
<line x1="140.6" y1="77.6" x2="140.1" y2="70.9" stroke="#c9a878" stroke-width="1.2"/>
<line x1="140.1" y1="70.9" x2="139.6" y2="64.2" stroke="#4aa070" stroke-width="1.1"/>
<line x1="140.6" y1="77.6" x2="133.2" y2="78.9" stroke="#c9a878" stroke-width="1.2"/>
<line x1="133.2" y1="78.9" x2="125.7" y2="80.3" stroke="#4aa070" stroke-width="1.1"/>
<line x1="140.6" y1="77.6" x2="148.3" y2="76.9" stroke="#c9a878" stroke-width="1.2"/>
<line x1="148.3" y1="76.9" x2="156" y2="76.3" stroke="#4aa070" stroke-width="1.1"/>
<line x1="140.6" y1="77.6" x2="140.9" y2="78.7" stroke="#c9a878" stroke-width="1.2"/>
<line x1="140.9" y1="78.7" x2="141.2" y2="79.7" stroke="#4aa070" stroke-width="1.1"/>
<line x1="140.6" y1="77.6" x2="141.8" y2="84.9" stroke="#c9a878" stroke-width="1.2"/>
<line x1="141.8" y1="84.9" x2="143" y2="92.3" stroke="#4aa070" stroke-width="1.1"/>
<line x1="140.6" y1="77.6" x2="142.3" y2="81.5" stroke="#c9a878" stroke-width="1.2"/>
<line x1="142.3" y1="81.5" x2="144" y2="85.4" stroke="#4aa070" stroke-width="1.1"/>
<line x1="110.8" y1="23.3" x2="111.8" y2="13.3" stroke="#c9a878" stroke-width="0.8" stroke-opacity="0.6"/>
<line x1="111.8" y1="13.3" x2="112.8" y2="3.4" stroke="#4aa070" stroke-width="0.8" stroke-opacity="0.6"/>
<line x1="110.8" y1="23.3" x2="103.2" y2="22.1" stroke="#c9a878" stroke-width="0.8" stroke-opacity="0.6"/>
<line x1="103.2" y1="22.1" x2="95.6" y2="20.8" stroke="#4aa070" stroke-width="0.8" stroke-opacity="0.6"/>
<line x1="110.8" y1="23.3" x2="120.2" y2="19.3" stroke="#c9a878" stroke-width="0.8" stroke-opacity="0.6"/>
<line x1="120.2" y1="19.3" x2="129.7" y2="15.3" stroke="#4aa070" stroke-width="0.8" stroke-opacity="0.6"/>
<line x1="140.6" y1="22.8" x2="143.3" y2="13.6" stroke="#c9a878" stroke-width="0.8" stroke-opacity="0.6"/>
<line x1="143.3" y1="13.6" x2="146" y2="4.4" stroke="#4aa070" stroke-width="0.8" stroke-opacity="0.6"/>
<line x1="140.6" y1="22.8" x2="149.8" y2="21.3" stroke="#c9a878" stroke-width="0.8" stroke-opacity="0.6"/>
<line x1="149.8" y1="21.3" x2="159" y2="19.8" stroke="#4aa070" stroke-width="0.8" stroke-opacity="0.6"/>
<line x1="140.6" y1="22.8" x2="135.1" y2="19.1" stroke="#c9a878" stroke-width="0.8" stroke-opacity="0.6"/>
<line x1="135.1" y1="19.1" x2="129.7" y2="15.3" stroke="#4aa070" stroke-width="0.8" stroke-opacity="0.6"/>
<line x1="110.8" y1="49.9" x2="105.3" y2="46.3" stroke="#c9a878" stroke-width="0.8" stroke-opacity="0.6"/>
<line x1="105.3" y1="46.3" x2="99.9" y2="42.7" stroke="#4aa070" stroke-width="0.8" stroke-opacity="0.6"/>
<line x1="110.8" y1="49.9" x2="120.6" y2="48.0" stroke="#c9a878" stroke-width="0.8" stroke-opacity="0.6"/>
<line x1="120.6" y1="48.0" x2="130.3" y2="46" stroke="#4aa070" stroke-width="0.8" stroke-opacity="0.6"/>
<line x1="140.6" y1="49.9" x2="149.8" y2="46.8" stroke="#c9a878" stroke-width="0.8" stroke-opacity="0.6"/>
<line x1="149.8" y1="46.8" x2="159" y2="43.7" stroke="#4aa070" stroke-width="0.8" stroke-opacity="0.6"/>
<line x1="140.6" y1="49.9" x2="135.4" y2="48.0" stroke="#c9a878" stroke-width="0.8" stroke-opacity="0.6"/>
<line x1="135.4" y1="48.0" x2="130.3" y2="46" stroke="#4aa070" stroke-width="0.8" stroke-opacity="0.6"/>
<line x1="110.8" y1="77.3" x2="103.4" y2="76.5" stroke="#c9a878" stroke-width="0.8" stroke-opacity="0.6"/>
<line x1="103.4" y1="76.5" x2="96" y2="75.7" stroke="#4aa070" stroke-width="0.8" stroke-opacity="0.6"/>
<line x1="110.8" y1="77.3" x2="120.8" y2="73.8" stroke="#c9a878" stroke-width="0.8" stroke-opacity="0.6"/>
<line x1="120.8" y1="73.8" x2="130.7" y2="70.2" stroke="#4aa070" stroke-width="0.8" stroke-opacity="0.6"/>
<line x1="140.6" y1="77.6" x2="150.2" y2="76.2" stroke="#c9a878" stroke-width="0.8" stroke-opacity="0.6"/>
<line x1="150.2" y1="76.2" x2="159.8" y2="74.7" stroke="#4aa070" stroke-width="0.8" stroke-opacity="0.6"/>
<line x1="140.6" y1="77.6" x2="135.6" y2="73.9" stroke="#c9a878" stroke-width="0.8" stroke-opacity="0.6"/>
<line x1="135.6" y1="73.9" x2="130.7" y2="70.2" stroke="#4aa070" stroke-width="0.8" stroke-opacity="0.6"/>
<circle cx="114.8" cy="18.8" r="1.7" fill="url(#gSf)"/>
<circle cx="149" cy="13.3" r="1.7" fill="url(#gSf)"/>
<circle cx="116.4" cy="31.2" r="1.7" fill="url(#gSf)"/>
<circle cx="149.5" cy="42.7" r="1.7" fill="url(#gSf)"/>
<circle cx="113.8" cy="59.2" r="1.7" fill="url(#gSf)"/>
<circle cx="147" cy="59.2" r="1.7" fill="url(#gSf)"/>
<circle cx="117.4" cy="86.2" r="1.7" fill="url(#gSf)"/>
<circle cx="144" cy="85.4" r="1.7" fill="url(#gSf)"/>
<circle cx="110.8" cy="23.3" r="3.3" fill="url(#gZr)"/>
<circle cx="140.6" cy="22.8" r="3.3" fill="url(#gZr)"/>
<circle cx="110.8" cy="49.9" r="3.3" fill="url(#gZr)"/>
<circle cx="140.6" cy="49.9" r="3.3" fill="url(#gZr)"/>
<circle cx="110.8" cy="77.3" r="3.3" fill="url(#gZr)"/>
<circle cx="140.6" cy="77.6" r="3.3" fill="url(#gZr)"/>
<circle cx="112.8" cy="3.4" r="2.3" fill="url(#gS)"/>
<circle cx="112.2" cy="10.3" r="2.3" fill="url(#gS)"/>
<circle cx="146" cy="4.4" r="2.3" fill="url(#gS)"/>
<circle cx="138.2" cy="9.9" r="2.3" fill="url(#gS)"/>
<circle cx="129.7" cy="15.3" r="2.3" fill="url(#gS)"/>
<circle cx="99.3" cy="19.2" r="2.3" fill="url(#gS)"/>
<circle cx="95.6" cy="20.8" r="2.3" fill="url(#gS)"/>
<circle cx="159" cy="19.8" r="2.3" fill="url(#gS)"/>
<circle cx="155.5" cy="21.8" r="2.3" fill="url(#gS)"/>
<circle cx="125.3" cy="25.8" r="2.3" fill="url(#gS)"/>
<circle cx="140.6" cy="25.2" r="2.3" fill="url(#gS)"/>
<circle cx="106.5" cy="28.4" r="2.3" fill="url(#gS)"/>
<circle cx="109.4" cy="36.7" r="2.3" fill="url(#gS)"/>
<circle cx="142.2" cy="37.7" r="2.3" fill="url(#gS)"/>
<circle cx="99.9" cy="42.7" r="2.3" fill="url(#gS)"/>
<circle cx="159" cy="43.7" r="2.3" fill="url(#gS)"/>
<circle cx="130.3" cy="46" r="2.3" fill="url(#gS)"/>
<circle cx="96" cy="51.9" r="2.3" fill="url(#gS)"/>
<circle cx="106.9" cy="51.9" r="2.3" fill="url(#gS)"/>
<circle cx="125.7" cy="49.3" r="2.3" fill="url(#gS)"/>
<circle cx="156.5" cy="52.3" r="2.3" fill="url(#gS)"/>
<circle cx="141" cy="55.9" r="2.3" fill="url(#gS)"/>
<circle cx="112.2" cy="64.8" r="2.3" fill="url(#gS)"/>
<circle cx="139.6" cy="64.2" r="2.3" fill="url(#gS)"/>
<circle cx="130.7" cy="70.2" r="2.3" fill="url(#gS)"/>
<circle cx="100" cy="73.7" r="2.3" fill="url(#gS)"/>
<circle cx="96" cy="75.7" r="2.3" fill="url(#gS)"/>
<circle cx="159.8" cy="74.7" r="2.3" fill="url(#gS)"/>
<circle cx="156" cy="76.3" r="2.3" fill="url(#gS)"/>
<circle cx="125.7" cy="80.3" r="2.3" fill="url(#gS)"/>
<circle cx="141.2" cy="79.7" r="2.3" fill="url(#gS)"/>
<circle cx="106.9" cy="82.5" r="2.3" fill="url(#gS)"/>
<circle cx="110.4" cy="91.3" r="2.3" fill="url(#gS)"/>
<circle cx="143" cy="92.3" r="2.3" fill="url(#gS)"/>
<circle cx="126.7" cy="34.7" r="4.9" fill="url(#gBa)"/>
<circle cx="156" cy="34.7" r="4.9" fill="url(#gBa)"/>
<circle cx="98.9" cy="60.8" r="4.9" fill="url(#gBa)"/>
<circle cx="128.7" cy="60.8" r="4.9" fill="url(#gBa)"/>
</g>
<circle cx="180.9" cy="58.1" r="6.1" fill="url(#gBaL)"/>
<circle cx="180.9" cy="73.8" r="5.1" fill="url(#gZrL)"/>
<circle cx="180.9" cy="88" r="3.8" fill="url(#gSL)"/>
<text x="192.2" y="60.2" font-size="6.4" fill="#6a6a6a">Ba</text>
<text x="192.2" y="75.9" font-size="6.4" fill="#b88a30" font-style="italic">Zr</text>
<text x="193" y="90.2" font-size="6.4" fill="#3a8a3a">S</text>
<g id="axes">
<line x1="66.1" y1="88" x2="78" y2="86.2" stroke="#10b010" stroke-width="1.6"/><polygon points="80.3,85.3 73.8,83.8 74.6,88.6" fill="#10b010"/>
<line x1="66.1" y1="88" x2="74" y2="90.8" stroke="#e01010" stroke-width="1.6"/><polygon points="77,91.8 73.2,88.6 72.2,92" fill="#e01010"/>
<line x1="66.1" y1="88" x2="66.1" y2="76" stroke="#1010e0" stroke-width="1.9"/><polygon points="66.1,70.6 63.4,77 68.8,77" fill="#1010e0"/>
<circle cx="66.1" cy="88" r="1.5" fill="#fff" stroke="#888" stroke-width="0.4"/>
<text x="65.3" y="68.5" font-size="3" fill="#222">c</text><text x="82" y="86" font-size="3" fill="#222">b</text><text x="78.5" y="93" font-size="3" fill="#222">a</text>
</g>
<g id="heat">
<rect x="236.3" y="17.50" width="143.7" height="0.85" fill="url(#h0)"/>
<rect x="236.3" y="18.00" width="143.7" height="1.35" fill="url(#h1)"/>
<rect x="236.3" y="19.00" width="143.7" height="1.35" fill="url(#h2)"/>
<rect x="236.3" y="20.00" width="143.7" height="1.35" fill="url(#h3)"/>
<rect x="236.3" y="21.00" width="143.7" height="1.35" fill="url(#h4)"/>
<rect x="236.3" y="22.00" width="143.7" height="1.35" fill="url(#h5)"/>
<rect x="236.3" y="23.00" width="143.7" height="1.35" fill="url(#h6)"/>
<rect x="236.3" y="24.00" width="143.7" height="1.35" fill="url(#h7)"/>
<rect x="236.3" y="25.00" width="143.7" height="1.35" fill="url(#h8)"/>
<rect x="236.3" y="26.00" width="143.7" height="1.35" fill="url(#h9)"/>
<rect x="236.3" y="27.00" width="143.7" height="1.35" fill="url(#h10)"/>
<rect x="236.3" y="28.00" width="143.7" height="1.35" fill="url(#h11)"/>
<rect x="236.3" y="29.00" width="143.7" height="1.35" fill="url(#h12)"/>
<rect x="236.3" y="30.00" width="143.7" height="1.35" fill="url(#h13)"/>
<rect x="236.3" y="31.00" width="143.7" height="1.35" fill="url(#h14)"/>
<rect x="236.3" y="32.00" width="143.7" height="1.35" fill="url(#h15)"/>
<rect x="236.3" y="33.00" width="143.7" height="1.35" fill="url(#h16)"/>
<rect x="236.3" y="34.00" width="143.7" height="1.35" fill="url(#h17)"/>
<rect x="236.3" y="35.00" width="143.7" height="1.35" fill="url(#h18)"/>
<rect x="236.3" y="36.00" width="143.7" height="1.35" fill="url(#h19)"/>
<rect x="236.3" y="37.00" width="143.7" height="1.35" fill="url(#h20)"/>
<rect x="236.3" y="38.00" width="143.7" height="1.35" fill="url(#h21)"/>
<rect x="236.3" y="39.00" width="143.7" height="1.35" fill="url(#h22)"/>
<rect x="236.3" y="40.00" width="143.7" height="1.35" fill="url(#h23)"/>
<rect x="236.3" y="41.00" width="143.7" height="1.35" fill="url(#h24)"/>
<rect x="236.3" y="42.00" width="143.7" height="1.35" fill="url(#h25)"/>
<rect x="236.3" y="43.00" width="143.7" height="1.35" fill="url(#h26)"/>
<rect x="236.3" y="44.00" width="143.7" height="1.35" fill="url(#h27)"/>
<rect x="236.3" y="45.00" width="143.7" height="1.35" fill="url(#h28)"/>
<rect x="236.3" y="46.00" width="143.7" height="1.35" fill="url(#h29)"/>
<rect x="236.3" y="47.00" width="143.7" height="1.35" fill="url(#h30)"/>
<rect x="236.3" y="48.00" width="143.7" height="1.35" fill="url(#h31)"/>
<rect x="236.3" y="49.00" width="143.7" height="1.35" fill="url(#h32)"/>
<rect x="236.3" y="50.00" width="143.7" height="1.35" fill="url(#h33)"/>
<rect x="236.3" y="51.00" width="143.7" height="1.35" fill="url(#h34)"/>
<rect x="236.3" y="52.00" width="143.7" height="1.35" fill="url(#h35)"/>
<rect x="236.3" y="53.00" width="143.7" height="1.35" fill="url(#h36)"/>
<rect x="236.3" y="54.00" width="143.7" height="1.35" fill="url(#h37)"/>
<rect x="236.3" y="55.00" width="143.7" height="1.35" fill="url(#h38)"/>
<rect x="236.3" y="56.00" width="143.7" height="1.35" fill="url(#h39)"/>
<rect x="236.3" y="57.00" width="143.7" height="1.35" fill="url(#h40)"/>
<rect x="236.3" y="58.00" width="143.7" height="1.35" fill="url(#h41)"/>
<rect x="236.3" y="59.00" width="143.7" height="1.35" fill="url(#h42)"/>
<rect x="236.3" y="60.00" width="143.7" height="1.35" fill="url(#h43)"/>
<rect x="236.3" y="61.00" width="143.7" height="1.35" fill="url(#h44)"/>
<rect x="236.3" y="62.00" width="143.7" height="1.35" fill="url(#h45)"/>
<rect x="236.3" y="63.00" width="143.7" height="1.35" fill="url(#h46)"/>
<rect x="236.3" y="64.00" width="143.7" height="1.35" fill="url(#h47)"/>
<rect x="236.3" y="65.00" width="143.7" height="1.35" fill="url(#h48)"/>
<rect x="236.3" y="66.00" width="143.7" height="1.35" fill="url(#h49)"/>
<rect x="236.3" y="67.00" width="143.7" height="1.35" fill="url(#h50)"/>
<rect x="236.3" y="68.00" width="143.7" height="1.35" fill="url(#h51)"/>
<rect x="236.3" y="69.00" width="143.7" height="1.35" fill="url(#h52)"/>
<rect x="236.3" y="70.00" width="143.7" height="1.35" fill="url(#h53)"/>
<rect x="236.3" y="71.00" width="143.7" height="1.35" fill="url(#h54)"/>
<rect x="236.3" y="72.00" width="143.7" height="1.35" fill="url(#h55)"/>
<rect x="236.3" y="73.00" width="143.7" height="1.35" fill="url(#h56)"/>
<rect x="236.3" y="74.00" width="143.7" height="1.35" fill="url(#h57)"/>
<rect x="236.3" y="75.00" width="143.7" height="1.35" fill="url(#h58)"/>
<rect x="236.3" y="76.00" width="143.7" height="1.35" fill="url(#h59)"/>
<rect x="236.3" y="77.00" width="143.7" height="1.35" fill="url(#h60)"/>
<rect x="236.3" y="78.00" width="143.7" height="1.35" fill="url(#h61)"/>
<rect x="236.3" y="79.00" width="143.7" height="1.35" fill="url(#h62)"/>
<rect x="236.3" y="80.00" width="143.7" height="1.35" fill="url(#h63)"/>
<rect x="236.3" y="81.00" width="143.7" height="1.35" fill="url(#h64)"/>
<rect x="236.3" y="82.00" width="143.7" height="1.35" fill="url(#h65)"/>
<rect x="236.3" y="83.00" width="143.7" height="1.35" fill="url(#h66)"/>
<rect x="236.3" y="84.00" width="143.7" height="1.35" fill="url(#h67)"/>
<rect x="236.3" y="85.00" width="143.7" height="1.35" fill="url(#h68)"/>
<rect x="236.3" y="86.00" width="143.7" height="1.35" fill="url(#h69)"/>
<rect x="236.3" y="87.00" width="143.7" height="1.35" fill="url(#h70)"/>
<rect x="236.3" y="88.00" width="143.7" height="1.35" fill="url(#h71)"/>
<rect x="236.3" y="89.00" width="143.7" height="1.35" fill="url(#h72)"/>
<rect x="236.3" y="90.00" width="143.7" height="1.35" fill="url(#h73)"/>
<rect x="236.3" y="91.00" width="143.7" height="1.35" fill="url(#h74)"/>
<rect x="236.3" y="92.00" width="143.7" height="1.35" fill="url(#h75)"/>
<rect x="236.3" y="93.00" width="143.7" height="1.35" fill="url(#h76)"/>
<rect x="236.3" y="94.00" width="143.7" height="1.35" fill="url(#h77)"/>
<rect x="236.3" y="95.00" width="143.7" height="1.35" fill="url(#h78)"/>
<rect x="236.3" y="96.00" width="143.7" height="1.35" fill="url(#h79)"/>
<rect x="236.3" y="97.00" width="143.7" height="1.35" fill="url(#h80)"/>
<rect x="236.3" y="98.00" width="143.7" height="1.35" fill="url(#h81)"/>
<rect x="236.3" y="99.00" width="143.7" height="1.35" fill="url(#h82)"/>
<rect x="236.3" y="100.00" width="143.7" height="1.35" fill="url(#h83)"/>
<rect x="236.3" y="101.00" width="143.7" height="1.35" fill="url(#h84)"/>
<rect x="236.3" y="102.00" width="143.7" height="1.35" fill="url(#h85)"/>
<rect x="236.3" y="103.00" width="143.7" height="1.35" fill="url(#h86)"/>
<rect x="236.3" y="104.00" width="143.7" height="1.35" fill="url(#h87)"/>
<rect x="236.3" y="105.00" width="143.7" height="1.35" fill="url(#h88)"/>
<rect x="236.3" y="106.00" width="143.7" height="1.35" fill="url(#h89)"/>
<rect x="236.3" y="107.00" width="143.7" height="1.35" fill="url(#h90)"/>
</g>
<text x="234.3" y="28.3" font-size="5.6" text-anchor="end" fill="#222">1000</text>
<text x="234.3" y="47.3" font-size="5.6" text-anchor="end" fill="#222">100</text>
<text x="234.3" y="82.3" font-size="5.6" text-anchor="end" fill="#222">1</text>
<text x="234.3" y="105.3" font-size="5.6" text-anchor="end" fill="#222">0.05</text>
<text x="236.3" y="115.2" font-size="5.6" text-anchor="middle" fill="#222">600</text>
<text x="284.2" y="115.2" font-size="5.6" text-anchor="middle" fill="#222">650</text>
<text x="332.1" y="115.2" font-size="5.6" text-anchor="middle" fill="#222">700</text>
<text x="380" y="115.2" font-size="5.6" text-anchor="middle" fill="#222">750</text>
<text x="308.3" y="123.2" font-size="6.75" text-anchor="middle" fill="#222">Wavelength (nm)</text>
<text transform="translate(219.6,63.8) rotate(-90)" font-size="6.4" text-anchor="middle" fill="#222">Time (ps)</text>
<rect x="266" y="7.6" width="86.30000000000001" height="3.6" fill="url(#cb)"/>
<text x="270" y="4.9" font-size="4.9" text-anchor="middle" fill="#222">-2</text>
<text x="289.5" y="4.9" font-size="4.9" text-anchor="middle" fill="#222">-1</text>
<text x="309" y="4.9" font-size="4.9" text-anchor="middle" fill="#222">0</text>
<text x="328.4" y="4.9" font-size="4.9" text-anchor="middle" fill="#222">1</text>
<text x="347.5" y="4.9" font-size="4.9" text-anchor="middle" fill="#222">2</text>
<text x="353.2" y="9.8" font-size="4.2" fill="#222">×10<tspan dy="-1.5" font-size="3">-3</tspan></text>
<clipPath id="bc"><rect x="85.4" y="130.3" width="80.5" height="109.69999999999999"/></clipPath>
<g id="bands" clip-path="url(#bc)" fill="none" stroke="#000" stroke-width="0.95">
<path d="M85.6,165.7C86.0,164.9 87.1,162.8 88.3,160.8C89.5,158.8 91.1,155.9 92.5,153.9C93.9,151.9 95.3,150.2 96.7,149.0C98.1,147.8 99.4,147.4 100.8,146.6C102.2,145.8 103.9,145.7 105.3,144.3C106.7,142.9 108.1,140.2 109.3,138.5C110.6,136.8 111.6,135.2 112.8,134.1C114.0,133.0 115.1,132.1 116.3,131.8C117.4,131.5 118.5,131.8 119.8,132.4C121.1,132.9 122.5,134.8 124.0,135.0C125.4,135.1 127.0,133.2 128.4,133.2C129.7,133.2 130.8,134.1 131.9,135.0C132.9,135.9 133.7,137.0 134.5,138.5C135.2,139.9 135.9,142.8 136.2,143.7"/>
<path d="M85.6,166.2C86.2,165.4 87.9,163.4 89.2,161.5C90.5,159.6 92.1,156.5 93.6,154.6C95.1,152.7 96.6,151.2 98.0,150.0C99.4,148.8 100.8,148.5 102.0,147.6C103.2,146.7 104.8,145.2 105.3,144.7"/>
<path d="M85.4,133.2C86.3,133.4 89.2,133.5 91.0,134.1C92.8,134.7 94.5,135.6 96.2,136.7C98.0,137.9 99.9,139.9 101.5,141.1C103.0,142.3 104.1,142.9 105.3,144.1C106.5,145.2 107.3,146.4 108.4,148.1C109.5,149.8 110.8,152.1 111.9,154.2C113.1,156.2 114.1,158.7 115.4,160.3C116.7,161.8 118.5,162.7 119.8,163.4C121.1,164.2 122.3,165.1 123.3,164.8C124.3,164.6 125.0,163.2 125.7,162.0C126.4,160.8 126.6,159.4 127.5,157.7C128.4,155.9 130.0,153.3 131.0,151.6C132.0,149.8 132.9,148.4 133.6,147.2C134.3,146.0 134.6,146.0 135.3,144.6C136.1,143.1 136.9,140.2 138.0,138.5C139.0,136.7 140.3,135.2 141.5,134.1C142.6,133.0 143.8,132.3 144.9,131.8C146.1,131.4 147.1,131.3 148.4,131.5C149.7,131.7 151.3,132.4 152.8,133.2C154.3,134.1 155.7,135.4 157.2,136.7C158.6,138.0 160.1,139.8 161.5,141.1C163.0,142.4 165.2,144.0 165.9,144.6"/>
<path d="M85.4,136.7C86.3,136.9 89.2,137.0 91.0,137.6C92.8,138.2 94.5,139.3 96.2,140.2C98.0,141.1 99.9,142.1 101.5,142.8C103.0,143.6 104.1,144.0 105.3,144.6C106.5,145.2 107.2,145.6 108.4,146.3C109.7,147.1 111.5,148.3 112.8,148.9C114.1,149.6 115.3,149.8 116.3,150.3C117.3,150.9 118.0,151.1 118.9,152.4C119.8,153.8 120.7,156.5 121.5,158.5C122.4,160.5 123.3,163.8 124.0,164.5C124.6,165.1 124.8,163.6 125.4,162.6C126.0,161.5 126.9,159.7 127.8,158.0C128.8,156.3 130.3,154.1 131.3,152.4C132.4,150.7 133.4,148.9 134.1,147.7C134.8,146.6 134.9,144.7 135.5,145.5C136.2,146.2 137.0,150.1 138.0,152.4C139.0,154.8 140.1,157.4 141.5,159.4C142.8,161.4 144.5,164.0 145.8,164.3C147.1,164.6 148.3,162.8 149.3,161.2C150.3,159.5 151.2,156.4 151.9,154.2C152.7,152.0 153.2,149.7 153.7,148.1C154.1,146.5 154.0,145.6 154.5,144.6C155.1,143.6 156.0,142.1 157.2,142.0C158.3,141.8 160.1,143.3 161.5,143.7C163.0,144.1 165.2,144.4 165.9,144.6"/>
<path d="M85.4,141.1C86.3,140.9 89.2,139.7 91.0,139.9C92.8,140.0 94.5,141.3 96.2,142.0C98.0,142.6 99.9,143.4 101.5,143.7C103.0,144.1 104.1,144.8 105.3,144.1C106.5,143.3 107.3,140.7 108.4,139.3C109.5,138.0 110.8,136.6 111.9,135.9C113.1,135.1 114.3,134.8 115.4,135.0C116.6,135.1 117.7,135.9 118.9,136.7C120.1,137.6 121.6,139.4 122.4,140.2C123.2,141.0 123.7,141.3 124.0,141.6C124.2,142.0 123.1,141.8 124.0,142.3C124.9,142.8 127.5,144.6 129.2,144.6C131.0,144.5 132.7,143.0 134.5,142.0C136.2,140.9 138.3,139.2 139.7,138.5C141.2,137.7 141.7,137.6 143.2,137.6C144.7,137.6 146.7,138.0 148.4,138.5C150.2,138.9 151.9,139.6 153.7,140.2C155.4,140.8 156.9,141.2 158.9,142.0C160.9,142.7 164.7,144.1 165.9,144.6"/>
<path d="M85.4,145.5C86.2,145.3 88.6,144.6 90.1,144.6C91.6,144.6 92.9,145.4 94.5,145.5C96.1,145.5 97.9,145.3 99.7,145.1C101.5,144.9 103.5,144.9 105.3,144.4C107.0,143.9 108.8,142.5 110.2,142.0C111.6,141.4 112.5,140.9 113.7,141.1C114.8,141.2 116.0,142.1 117.2,142.8C118.3,143.6 119.5,145.0 120.6,145.5C121.8,145.9 123.4,145.8 124.0,145.8C124.5,145.8 123.1,145.6 124.0,145.5C124.9,145.3 127.3,144.6 129.2,144.9C131.1,145.2 133.9,147.3 135.3,147.2C136.8,147.1 136.9,145.2 138.0,144.6C139.0,143.9 140.1,143.4 141.5,143.4C142.8,143.4 144.4,144.6 145.8,144.6C147.3,144.6 148.9,143.4 150.2,143.4C151.5,143.4 152.5,143.8 153.7,144.6C154.8,145.4 155.8,147.8 157.2,148.1C158.5,148.4 160.1,147.0 161.5,146.3C163.0,145.7 165.2,144.4 165.9,144.1"/>
<path d="M85.4,131.5C86.3,131.4 89.5,131.0 91.0,131.1C92.5,131.3 93.2,131.4 94.5,132.4C95.8,133.3 97.4,135.1 98.8,136.7C100.3,138.3 102.1,140.7 103.2,142.0C104.3,143.2 104.9,143.7 105.3,144.1"/>
<path d="M124.0,131.5C124.9,131.6 127.5,131.5 129.2,132.4C131.0,133.2 132.7,135.4 134.5,136.7C136.2,138.0 137.7,139.5 139.7,140.2C141.7,140.9 144.7,140.8 146.7,141.1C148.7,141.4 149.9,141.2 151.9,142.0C154.0,142.7 157.0,144.4 158.9,145.5C160.8,146.5 162.1,148.1 163.3,148.1C164.4,148.1 165.4,145.9 165.9,145.5"/>
<path d="M153.7,148.1C154.3,148.4 155.8,149.8 157.2,149.8C158.5,149.8 160.1,148.8 161.5,148.1C163.0,147.3 165.2,145.9 165.9,145.5"/>
<path d="M85.4,129.7C86.3,129.6 88.9,128.6 91.0,128.9C93.1,129.2 95.6,130.3 98.0,131.5C100.3,132.7 102.6,135.9 104.9,135.9C107.3,135.9 109.6,132.7 111.9,131.5C114.3,130.3 116.9,129.1 118.9,128.9C120.9,128.6 122.5,130.0 124.0,130.1C125.4,130.2 125.7,129.0 127.5,129.4C129.2,129.8 132.1,132.2 134.5,132.4C136.8,132.5 139.1,130.6 141.5,130.1C143.8,129.6 146.1,129.0 148.4,129.4C150.8,129.8 152.5,130.9 155.4,132.4C158.3,133.9 164.1,137.5 165.9,138.5"/>
<path d="M85.7,193.4C86.9,193.5 90.0,193.9 92.6,194.4C95.2,195.0 98.7,196.2 101.2,196.6C103.7,197.0 105.1,197.3 107.6,197.0C110.1,196.7 113.5,195.7 116.2,194.9C118.9,194.1 121.3,192.4 123.7,192.3C126.1,192.2 128.7,193.7 130.6,194.4C132.4,195.1 133.6,196.6 134.8,196.6C136.1,196.6 136.6,195.1 138.1,194.4C139.5,193.7 141.6,192.5 143.4,192.3C145.2,192.1 147.2,192.6 148.8,193.4C150.4,194.1 151.4,196.2 153.0,196.6C154.7,196.9 156.3,195.9 158.4,195.5C160.5,195.1 164.6,194.6 165.9,194.4"/>
<path d="M85.7,194.4C86.7,195.0 89.7,196.8 91.5,197.7C93.4,198.6 94.7,199.6 96.9,199.8C99.0,200.0 101.9,199.1 104.4,198.7C106.9,198.4 109.6,198.3 111.9,197.7C114.2,197.0 116.4,195.7 118.3,194.9C120.3,194.0 122.0,192.4 123.7,192.7C125.4,193.0 126.6,195.7 128.4,196.6C130.3,197.4 133.1,197.1 134.8,197.6C136.6,198.2 137.7,199.2 139.1,199.8C140.6,200.3 142.0,201.2 143.4,200.8C144.8,200.5 146.4,198.7 147.7,197.6C148.9,196.6 149.7,194.6 150.9,194.4C152.2,194.2 153.6,196.0 155.2,196.6C156.8,197.1 158.8,197.7 160.5,197.6C162.3,197.6 165.0,196.4 165.9,196.1"/>
<path d="M85.7,196.6C86.5,197.7 88.8,200.9 90.4,203.0C92.1,205.2 94.0,207.0 95.8,209.5C97.6,212.0 99.6,215.4 101.2,218.0C102.8,220.7 104.0,223.4 105.5,225.6C106.9,227.7 108.0,229.5 109.8,230.9C111.5,232.3 113.9,233.4 116.2,234.1C118.5,234.9 121.7,235.3 123.7,235.6C125.7,236.0 126.2,236.0 128.4,236.2C130.6,236.4 134.1,236.9 137.0,236.8C139.8,236.7 142.7,235.5 145.6,235.5C148.4,235.5 150.7,237.1 154.1,236.8C157.5,236.6 163.9,234.5 165.9,234.0"/>
<path d="M85.7,208.4C86.5,209.1 88.8,211.2 90.4,212.7C92.1,214.1 94.0,215.4 95.8,217.0C97.6,218.6 99.6,220.8 101.2,222.3C102.8,223.9 103.8,225.1 105.5,226.2C107.1,227.3 108.9,228.5 110.8,228.8C112.8,229.0 115.1,227.5 117.3,227.7C119.4,227.9 121.8,229.1 123.7,229.8C125.6,230.5 126.6,231.7 128.4,231.9C130.3,232.1 133.2,231.7 134.8,230.8C136.5,229.9 136.8,227.6 138.1,226.5C139.3,225.5 141.1,224.4 142.3,224.4C143.6,224.4 144.3,225.5 145.6,226.5C146.8,227.6 148.4,229.6 149.8,230.8C151.3,232.1 152.5,233.9 154.1,234.0C155.7,234.2 157.5,232.8 159.5,231.9C161.4,231.0 164.8,229.2 165.9,228.7"/>
<path d="M105.5,226.2C106.0,224.8 107.6,220.3 108.7,218.0C109.8,215.8 110.8,213.8 111.9,212.7C113.0,211.5 114.0,211.2 115.1,211.2C116.2,211.2 116.9,211.5 118.3,212.7C119.8,213.8 122.0,216.3 123.7,218.0C125.4,219.8 126.6,222.6 128.4,223.3C130.3,224.0 133.1,222.8 134.8,222.3C136.6,221.7 137.7,220.7 139.1,220.1C140.6,219.6 142.0,219.0 143.4,219.0C144.8,219.0 146.3,219.4 147.7,220.1C149.1,220.8 150.6,222.4 152.0,223.3C153.4,224.2 154.7,225.7 156.3,225.5C157.9,225.3 160.0,223.2 161.6,222.3C163.2,221.4 165.2,220.5 165.9,220.1"/>
<path d="M105.5,226.2C105.8,225.2 106.9,222.6 107.6,220.2C108.3,217.8 108.9,214.1 109.8,211.6C110.6,209.1 111.9,207.0 113.0,205.2C114.0,203.4 114.9,202.3 116.2,200.9C117.4,199.4 119.2,197.9 120.5,196.6C121.7,195.2 122.4,192.4 123.7,192.7C125.0,193.1 126.9,196.6 128.4,198.7C129.9,200.8 131.3,203.0 132.7,205.1C134.1,207.3 135.6,209.9 137.0,211.6C138.4,213.2 139.8,214.6 141.3,214.8C142.7,214.9 144.1,213.3 145.6,212.6C147.0,211.9 148.4,210.7 149.8,210.5C151.3,210.3 152.5,211.0 154.1,211.6C155.7,212.1 157.5,213.7 159.5,213.7C161.4,213.7 164.8,211.9 165.9,211.6"/>
<path d="M85.7,215.9C86.9,215.5 90.4,213.6 92.6,213.8C94.8,213.9 96.9,214.9 99.0,217.0C101.2,219.0 104.4,224.7 105.5,226.2"/>
<path d="M85.7,198.7C86.9,199.1 90.4,200.5 92.6,200.9C94.8,201.2 96.9,200.8 99.0,200.9C101.2,200.9 103.3,200.9 105.5,201.3C107.6,201.7 109.9,202.0 111.9,203.0C113.9,204.0 115.3,206.2 117.3,207.3C119.2,208.4 122.0,209.5 123.7,209.5C125.4,209.5 126.0,207.3 127.4,207.3C128.7,207.3 130.0,209.6 131.6,209.4C133.2,209.2 135.2,206.4 137.0,206.2C138.8,206.0 140.6,208.2 142.3,208.3C144.1,208.5 145.7,207.6 147.7,207.3C149.7,206.9 152.0,206.2 154.1,206.2C156.3,206.2 158.6,207.5 160.5,207.3C162.5,207.1 165.0,205.5 165.9,205.1"/>
<path d="M85.7,201.9C86.7,202.8 89.7,206.8 91.5,207.3C93.4,207.8 95.4,206.1 96.9,205.2C98.3,204.3 98.8,201.2 100.1,201.9C101.3,202.7 103.3,207.3 104.4,209.5C105.5,211.6 105.6,214.5 106.5,214.8C107.4,215.2 108.5,212.7 109.8,211.6C111.0,210.5 112.6,209.5 114.0,208.4C115.5,207.3 116.7,206.4 118.3,205.2C119.9,203.9 122.0,202.0 123.7,200.9C125.4,199.8 126.6,199.2 128.4,198.7C130.3,198.2 132.7,196.7 134.8,197.6C137.0,198.5 139.5,202.8 141.3,204.1C143.1,205.3 144.1,205.3 145.6,205.1C147.0,205.0 148.4,203.9 149.8,203.0C151.3,202.1 152.5,200.1 154.1,199.8C155.7,199.4 157.5,201.0 159.5,200.8C161.4,200.7 164.8,199.1 165.9,198.7"/>
<path d="M85.7,211.6C86.7,211.2 89.7,209.5 91.5,209.5C93.4,209.5 95.3,211.6 96.9,211.6C98.5,211.6 99.7,209.5 101.2,209.5C102.6,209.5 103.8,210.2 105.5,211.6C107.1,213.0 109.0,216.6 110.8,218.0C112.6,219.5 114.0,220.5 116.2,220.2C118.3,219.8 121.7,217.0 123.7,215.9C125.7,214.8 126.6,213.5 128.4,213.7C130.3,213.9 132.3,216.2 134.8,216.9C137.3,217.6 141.3,218.5 143.4,218.0C145.6,217.4 146.3,214.2 147.7,213.7C149.1,213.2 150.4,213.9 152.0,214.8C153.6,215.7 155.7,218.7 157.3,219.0C158.9,219.4 160.2,217.6 161.6,216.9C163.0,216.2 165.2,215.1 165.9,214.8"/>
<path d="M85.7,220.2C86.5,220.9 88.6,223.2 90.4,224.5C92.3,225.7 94.4,226.8 96.9,227.7C99.4,228.6 102.6,229.1 105.5,229.8C108.3,230.6 111.0,231.5 114.0,232.0C117.1,232.5 121.3,232.7 123.7,233.1C126.1,233.4 126.6,233.7 128.4,234.0C130.3,234.4 132.3,235.5 134.8,235.1C137.3,234.8 140.6,232.8 143.4,231.9C146.3,231.0 149.5,230.5 152.0,229.8C154.5,229.0 156.1,228.3 158.4,227.6C160.7,226.9 164.6,225.8 165.9,225.5"/>
<path d="M85.7,225.6C86.9,226.1 90.4,227.7 92.6,228.8C94.8,229.8 96.9,231.1 99.0,232.0C101.2,232.9 103.0,233.6 105.5,234.1C108.0,234.7 111.0,234.7 114.0,235.2C117.1,235.7 120.9,236.5 123.7,236.9C126.5,237.3 127.3,237.5 130.6,237.7C133.9,237.9 139.5,238.1 143.4,238.1C147.3,238.1 150.4,237.9 154.1,237.7C157.9,237.5 163.9,237.0 165.9,236.8"/>
<path d="M85.7,230.9C86.9,231.3 90.0,232.3 92.6,233.1C95.2,233.9 98.3,235.0 101.2,235.6C104.0,236.3 106.0,236.6 109.8,236.9C113.5,237.3 121.4,237.6 123.7,237.8"/>
<path d="M85.7,204.1C86.3,205.3 88.0,208.9 89.4,211.6C90.7,214.3 92.2,217.7 93.7,220.2C95.1,222.7 96.5,224.8 97.9,226.6C99.4,228.4 100.6,229.8 102.2,230.9C103.8,232.1 105.6,232.6 107.6,233.5C109.6,234.4 113.0,235.8 114.0,236.3"/>
<path d="M85.7,222.3C86.5,221.8 88.8,219.5 90.4,219.1C92.1,218.8 94.0,219.5 95.8,220.2C97.6,220.9 99.6,222.4 101.2,223.4C102.8,224.4 104.7,225.7 105.5,226.2"/>
<path d="M85.7,234.1C87.2,234.5 91.4,235.7 94.7,236.3C98.0,236.8 100.6,237.0 105.5,237.4C110.3,237.7 120.7,238.4 123.7,238.6"/>
<path d="M123.7,197.6C124.3,198.9 126.2,202.5 127.4,205.1C128.5,207.8 129.5,210.8 130.6,213.7C131.6,216.6 132.7,219.8 133.8,222.3C134.8,224.8 135.7,226.7 137.0,228.7C138.2,230.6 139.8,232.7 141.3,234.0C142.7,235.4 144.8,236.4 145.6,236.8"/>
<path d="M123.7,194.4C124.1,195.5 125.3,198.3 126.3,200.8C127.2,203.3 128.4,206.6 129.5,209.4C130.6,212.3 131.5,215.3 132.7,218.0C134.0,220.7 135.4,223.3 137.0,225.5C138.6,227.6 140.4,229.4 142.3,230.8C144.3,232.3 146.4,233.3 148.8,234.0C151.1,234.8 153.4,235.9 156.3,235.5C159.1,235.2 164.3,232.5 165.9,231.9"/>
<path d="M85.7,195.5C86.5,196.0 88.9,197.3 90.4,198.7C91.9,200.2 93.3,202.3 94.7,204.1C96.2,205.9 97.8,209.1 99.0,209.5C100.3,209.8 101.2,207.1 102.2,206.2C103.3,205.3 104.2,205.0 105.5,204.1C106.7,203.2 108.0,201.9 109.8,200.9C111.5,199.8 113.9,198.9 116.2,197.7C118.5,196.4 122.4,194.1 123.7,193.4"/>
<path d="M123.7,200.8C124.5,202.3 126.7,206.9 128.4,209.4C130.1,211.9 132.0,215.1 133.8,215.8C135.6,216.6 137.5,214.8 139.1,213.7C140.7,212.6 141.8,211.0 143.4,209.4C145.0,207.8 147.0,204.2 148.8,204.1C150.6,203.9 152.3,207.5 154.1,208.3C155.9,209.2 157.5,209.4 159.5,209.4C161.4,209.4 164.8,208.5 165.9,208.3"/>
<path d="M123.7,220.1C124.5,219.8 126.9,218.0 128.4,218.0C129.9,218.0 131.3,220.1 132.7,220.1C134.1,220.1 135.6,217.6 137.0,218.0C138.4,218.3 139.7,220.7 141.3,222.3C142.9,223.9 144.8,226.9 146.6,227.6C148.4,228.3 150.0,227.3 152.0,226.5C153.9,225.8 156.1,224.0 158.4,223.3C160.7,222.6 164.6,222.4 165.9,222.3"/>
<path d="M85.7,227.7C86.9,228.2 90.4,230.7 92.6,230.9C94.8,231.1 96.9,228.6 99.0,228.8C101.2,229.0 103.3,231.8 105.5,232.0C107.6,232.2 109.8,229.8 111.9,229.8C114.0,229.8 116.4,231.8 118.3,232.0C120.3,232.2 122.0,231.5 123.7,230.9C125.4,230.4 126.6,228.5 128.4,228.7C130.3,228.8 132.7,231.7 134.8,231.9C137.0,232.1 139.1,229.6 141.3,229.8C143.4,229.9 145.6,232.8 147.7,233.0C149.8,233.1 152.0,230.6 154.1,230.8C156.3,231.0 158.6,233.9 160.5,234.0C162.5,234.2 165.0,232.3 165.9,231.9"/>
<path d="M85.7,236.3C86.9,235.9 90.4,234.1 92.6,234.1C94.8,234.1 96.9,236.2 99.0,236.3C101.2,236.4 103.3,234.7 105.5,234.8C107.6,234.9 109.8,236.9 111.9,236.9C114.0,236.9 116.4,234.9 118.3,234.8C120.3,234.6 122.0,236.1 123.7,236.1C125.4,236.1 126.6,234.6 128.4,234.7C130.3,234.7 132.7,236.5 134.8,236.4C137.0,236.3 139.1,234.3 141.3,234.3C143.4,234.3 145.6,236.3 147.7,236.4C149.8,236.5 152.0,234.7 154.1,234.7C156.3,234.7 158.6,236.3 160.5,236.4C162.5,236.5 165.0,235.7 165.9,235.5"/>
<path d="M85.7,218.0C86.5,218.8 88.9,220.5 90.4,222.3C91.9,224.1 93.3,227.0 94.7,228.8C96.2,230.6 97.4,231.9 99.0,233.1C100.6,234.2 102.2,235.5 104.4,235.6C106.5,235.8 109.6,234.0 111.9,234.1C114.2,234.2 116.4,236.3 118.3,236.3C120.3,236.3 122.0,235.0 123.7,234.1C125.4,233.2 126.9,232.1 128.4,230.8C129.9,229.6 131.1,226.7 132.7,226.5C134.3,226.4 136.3,228.5 138.1,229.8C139.8,231.0 141.5,233.1 143.4,234.0C145.4,235.0 147.7,235.7 149.8,235.5C152.0,235.4 154.3,233.9 156.3,233.0C158.2,232.0 160.0,230.1 161.6,229.8C163.2,229.4 165.2,230.6 165.9,230.8"/>
</g>
<rect x="85.4" y="130.3" width="80.5" height="109.7" fill="none" stroke="#000" stroke-width="0.9"/>
<line x1="96.6" y1="240.0" x2="96.6" y2="239.0" stroke="#111" stroke-width="0.4"/>
<line x1="105" y1="240.0" x2="105" y2="239.0" stroke="#111" stroke-width="0.4"/>
<line x1="115.7" y1="240.0" x2="115.7" y2="239.0" stroke="#111" stroke-width="0.4"/>
<line x1="123.3" y1="240.0" x2="123.3" y2="239.0" stroke="#111" stroke-width="0.4"/>
<line x1="134.7" y1="240.0" x2="134.7" y2="239.0" stroke="#111" stroke-width="0.4"/>
<line x1="145.6" y1="240.0" x2="145.6" y2="239.0" stroke="#111" stroke-width="0.4"/>
<line x1="153.8" y1="240.0" x2="153.8" y2="239.0" stroke="#111" stroke-width="0.4"/>
<line x1="85.4" y1="240.0" x2="86.60000000000001" y2="240.0" stroke="#111" stroke-width="0.4"/>
<text x="84.10000000000001" y="241.2" font-size="3.5" font-weight="bold" text-anchor="end" fill="#111">-4</text>
<line x1="85.4" y1="226.3" x2="86.60000000000001" y2="226.3" stroke="#111" stroke-width="0.4"/>
<text x="84.10000000000001" y="227.5" font-size="3.5" font-weight="bold" text-anchor="end" fill="#111">-3</text>
<line x1="85.4" y1="212.6" x2="86.60000000000001" y2="212.6" stroke="#111" stroke-width="0.4"/>
<text x="84.10000000000001" y="213.8" font-size="3.5" font-weight="bold" text-anchor="end" fill="#111">-2</text>
<line x1="85.4" y1="198.9" x2="86.60000000000001" y2="198.9" stroke="#111" stroke-width="0.4"/>
<text x="84.10000000000001" y="200.1" font-size="3.5" font-weight="bold" text-anchor="end" fill="#111">-1</text>
<line x1="85.4" y1="185.2" x2="86.60000000000001" y2="185.2" stroke="#111" stroke-width="0.4"/>
<text x="84.10000000000001" y="186.3" font-size="3.5" font-weight="bold" text-anchor="end" fill="#111">0</text>
<line x1="85.4" y1="171.4" x2="86.60000000000001" y2="171.4" stroke="#111" stroke-width="0.4"/>
<text x="84.10000000000001" y="172.6" font-size="3.5" font-weight="bold" text-anchor="end" fill="#111">1</text>
<line x1="85.4" y1="157.7" x2="86.60000000000001" y2="157.7" stroke="#111" stroke-width="0.4"/>
<text x="84.10000000000001" y="158.9" font-size="3.5" font-weight="bold" text-anchor="end" fill="#111">2</text>
<line x1="85.4" y1="144.0" x2="86.60000000000001" y2="144.0" stroke="#111" stroke-width="0.4"/>
<text x="84.10000000000001" y="145.2" font-size="3.5" font-weight="bold" text-anchor="end" fill="#111">3</text>
<line x1="85.4" y1="130.3" x2="86.60000000000001" y2="130.3" stroke="#111" stroke-width="0.4"/>
<text x="84.10000000000001" y="131.5" font-size="3.5" font-weight="bold" text-anchor="end" fill="#111">4</text>
<text x="85.4" y="244.9" font-size="3.2" font-weight="bold" text-anchor="middle" fill="#111">Γ</text>
<text x="96.6" y="244.9" font-size="3.2" font-weight="bold" text-anchor="middle" fill="#111">X</text>
<text x="105" y="244.9" font-size="3.2" font-weight="bold" text-anchor="middle" fill="#111">S</text>
<text x="115.7" y="244.9" font-size="3.2" font-weight="bold" text-anchor="middle" fill="#111">Y</text>
<text x="123.3" y="244.9" font-size="3.2" font-weight="bold" text-anchor="middle" fill="#111">Γ</text>
<text x="134.7" y="244.9" font-size="3.2" font-weight="bold" text-anchor="middle" fill="#111">Z</text>
<text x="145.6" y="244.9" font-size="3.2" font-weight="bold" text-anchor="middle" fill="#111">U</text>
<text x="153.8" y="244.9" font-size="3.2" font-weight="bold" text-anchor="middle" fill="#111">R</text>
<text x="165.9" y="244.9" font-size="3.2" font-weight="bold" text-anchor="middle" fill="#111">T</text>
<text transform="translate(78.8,182.4) rotate(-90)" font-size="3.7" text-anchor="middle" fill="#111">Energy(eV)</text>
<line x1="124" y1="170" x2="124" y2="190" stroke="#e8141c" stroke-width="1.15"/>
<polygon points="124,167.6 122.6,170.8 125.4,170.8" fill="#e8141c"/><polygon points="124,192.2 122.6,189 125.4,189" fill="#e8141c"/>
<text x="127" y="180.3" font-size="6.2" font-weight="bold" fill="#000">E<tspan dy="1.6" font-size="3.8">g</tspan></text>
<rect x="236.2" y="143.7" width="143.8" height="89.9" fill="none" stroke="#bdbdbd" stroke-width="0.5"/>
<path d="M236.2,143.7V233.6H380" fill="none" stroke="#333" stroke-width="0.6"/>
<line x1="249.0" y1="233.6" x2="249.0" y2="232.2" stroke="#333" stroke-width="0.4"/>
<line x1="249.0" y1="143.7" x2="249.0" y2="145.1" stroke="#bdbdbd" stroke-width="0.4"/>
<text x="249.0" y="241" font-size="5.4" text-anchor="middle" fill="#222">0</text>
<line x1="275.2" y1="233.6" x2="275.2" y2="232.2" stroke="#333" stroke-width="0.4"/>
<line x1="275.2" y1="143.7" x2="275.2" y2="145.1" stroke="#bdbdbd" stroke-width="0.4"/>
<text x="275.2" y="241" font-size="5.4" text-anchor="middle" fill="#222">1</text>
<line x1="301.4" y1="233.6" x2="301.4" y2="232.2" stroke="#333" stroke-width="0.4"/>
<line x1="301.4" y1="143.7" x2="301.4" y2="145.1" stroke="#bdbdbd" stroke-width="0.4"/>
<text x="301.4" y="241" font-size="5.4" text-anchor="middle" fill="#222">2</text>
<line x1="327.6" y1="233.6" x2="327.6" y2="232.2" stroke="#333" stroke-width="0.4"/>
<line x1="327.6" y1="143.7" x2="327.6" y2="145.1" stroke="#bdbdbd" stroke-width="0.4"/>
<text x="327.6" y="241" font-size="5.4" text-anchor="middle" fill="#222">3</text>
<line x1="353.8" y1="233.6" x2="353.8" y2="232.2" stroke="#333" stroke-width="0.4"/>
<line x1="353.8" y1="143.7" x2="353.8" y2="145.1" stroke="#bdbdbd" stroke-width="0.4"/>
<text x="353.8" y="241" font-size="5.4" text-anchor="middle" fill="#222">4</text>
<line x1="380.0" y1="233.6" x2="380.0" y2="232.2" stroke="#333" stroke-width="0.4"/>
<line x1="380.0" y1="143.7" x2="380.0" y2="145.1" stroke="#bdbdbd" stroke-width="0.4"/>
<text x="380.0" y="241" font-size="5.4" text-anchor="middle" fill="#222">5</text>
<line x1="236.2" y1="233.5" x2="237.6" y2="233.5" stroke="#333" stroke-width="0.4"/>
<line x1="380" y1="233.5" x2="378.6" y2="233.5" stroke="#bdbdbd" stroke-width="0.4"/>
<text x="234" y="235.4" font-size="5.4" text-anchor="end" fill="#222">-2</text>
<line x1="236.2" y1="215.5" x2="237.6" y2="215.5" stroke="#333" stroke-width="0.4"/>
<line x1="380" y1="215.5" x2="378.6" y2="215.5" stroke="#bdbdbd" stroke-width="0.4"/>
<text x="234" y="217.4" font-size="5.4" text-anchor="end" fill="#222">-1</text>
<line x1="236.2" y1="197.6" x2="237.6" y2="197.6" stroke="#333" stroke-width="0.4"/>
<line x1="380" y1="197.6" x2="378.6" y2="197.6" stroke="#bdbdbd" stroke-width="0.4"/>
<text x="234" y="199.5" font-size="5.4" text-anchor="end" fill="#222">0</text>
<line x1="236.2" y1="179.7" x2="237.6" y2="179.7" stroke="#333" stroke-width="0.4"/>
<line x1="380" y1="179.7" x2="378.6" y2="179.7" stroke="#bdbdbd" stroke-width="0.4"/>
<text x="234" y="181.6" font-size="5.4" text-anchor="end" fill="#222">1</text>
<line x1="236.2" y1="161.7" x2="237.6" y2="161.7" stroke="#333" stroke-width="0.4"/>
<line x1="380" y1="161.7" x2="378.6" y2="161.7" stroke="#bdbdbd" stroke-width="0.4"/>
<text x="234" y="163.6" font-size="5.4" text-anchor="end" fill="#222">2</text>
<line x1="236.2" y1="143.8" x2="237.6" y2="143.8" stroke="#333" stroke-width="0.4"/>
<line x1="380" y1="143.8" x2="378.6" y2="143.8" stroke="#bdbdbd" stroke-width="0.4"/>
<text x="234" y="145.7" font-size="5.4" text-anchor="end" fill="#222">3</text>
<text x="308" y="248.6" font-size="6.6" text-anchor="middle" fill="#222">Time (ps)</text>
<text transform="translate(227.5,188.3) rotate(-90)" font-size="6.3" text-anchor="middle" fill="#222">ΔA (OD)</text>
<text x="238.2" y="141.6" font-size="5.2" fill="#222">×10<tspan dy="-1.8" font-size="3.8">-3</tspan></text>
<rect x="235.95" y="198.55" width="2.9" height="2.9" fill="#fb6666"/>
<rect x="238.25" y="194.25" width="2.9" height="2.9" fill="#fb6666"/>
<rect x="240.25" y="199.15" width="2.9" height="2.9" fill="#fb6666"/>
<rect x="241.95" y="191.45" width="2.9" height="2.9" fill="#fb6666"/>
<rect x="243.95" y="197.15" width="2.9" height="2.9" fill="#fb6666"/>
<rect x="245.95" y="193.45" width="2.9" height="2.9" fill="#fb6666"/>
<rect x="248.25" y="189.45" width="2.9" height="2.9" fill="#fb6666"/>
<rect x="251.65" y="207.15" width="2.9" height="2.9" fill="#fb6666"/>
<rect x="254.55" y="222.85" width="2.9" height="2.9" fill="#fb6666"/>
<rect x="259.15" y="206.25" width="2.9" height="2.9" fill="#fb6666"/>
<rect x="261.65" y="191.45" width="2.9" height="2.9" fill="#fb6666"/>
<rect x="264.45" y="170.25" width="2.9" height="2.9" fill="#fb6666"/>
<rect x="267.75" y="161.85" width="2.9" height="2.9" fill="#fb6666"/>
<rect x="270.85" y="173.35" width="2.9" height="2.9" fill="#fb6666"/>
<rect x="274.95" y="161.45" width="2.9" height="2.9" fill="#fb6666"/>
<rect x="278.75" y="164.25" width="2.9" height="2.9" fill="#fb6666"/>
<rect x="283.25" y="159.05" width="2.9" height="2.9" fill="#fb6666"/>
<rect x="288.25" y="161.45" width="2.9" height="2.9" fill="#fb6666"/>
<rect x="293.55" y="169.75" width="2.9" height="2.9" fill="#fb6666"/>
<rect x="298.75" y="159.75" width="2.9" height="2.9" fill="#fb6666"/>
<rect x="304.95" y="157.85" width="2.9" height="2.9" fill="#fb6666"/>
<rect x="311.65" y="162.55" width="2.9" height="2.9" fill="#fb6666"/>
<rect x="319.25" y="164.75" width="2.9" height="2.9" fill="#fb6666"/>
<rect x="327.15" y="166.15" width="2.9" height="2.9" fill="#fb6666"/>
<rect x="336.15" y="163.05" width="2.9" height="2.9" fill="#fb6666"/>
<rect x="345.45" y="165.45" width="2.9" height="2.9" fill="#fb6666"/>
<rect x="355.65" y="164.95" width="2.9" height="2.9" fill="#fb6666"/>
<rect x="367.55" y="165.95" width="2.9" height="2.9" fill="#fb6666"/>
<path d="M236.2,197.6C237.7,197.6 242.9,197.6 245.0,197.6C247.1,197.6 247.6,197.5 248.5,197.7C249.4,197.9 249.8,197.9 250.5,199.0C251.2,200.1 251.9,201.8 252.6,204.3C253.3,206.9 253.9,210.7 254.6,214.3C255.3,217.9 256.1,225.9 256.9,225.9C257.6,225.9 258.4,218.1 259.1,214.3C259.8,210.5 260.3,207.2 261.1,202.9C261.9,198.6 263.1,192.8 264.0,188.6C264.9,184.4 265.7,181.0 266.5,178.0C267.3,175.0 268.1,172.4 268.8,170.5C269.6,168.6 270.2,167.5 271.0,166.3C271.8,165.2 272.6,164.3 273.5,163.6C274.4,162.9 275.5,162.4 276.5,162.0C277.5,161.6 278.5,161.4 279.5,161.3C280.5,161.2 281.5,161.2 282.5,161.2C283.5,161.2 284.3,161.3 285.4,161.5C286.5,161.7 287.8,161.8 289.0,162.1C290.2,162.3 291.1,162.6 292.6,163.0C294.1,163.4 296.1,164.1 298.0,164.6C299.9,165.1 301.7,165.6 304.0,166.2C306.3,166.8 309.3,167.4 312.0,167.9C314.7,168.4 317.0,168.7 320.0,169.0C323.0,169.3 325.8,169.6 330.0,169.8C334.2,170.0 340.0,170.2 345.0,170.3C350.0,170.4 354.2,170.4 360.0,170.5C365.8,170.6 376.7,170.6 380.0,170.6" fill="none" stroke="#ee1111" stroke-width="1.6" stroke-linejoin="round"/>
<rect x="344.6" y="148.8" width="2.9" height="2.9" fill="#fb6666"/>
<line x1="339.3" y1="156.7" x2="350.6" y2="156.7" stroke="#ee1111" stroke-width="1.5"/>
<text x="352.2" y="152.1" font-size="5.4" fill="#222">Short time</text>
<text x="352.6" y="158.6" font-size="5.4" fill="#222">Fitting</text>
</g>
</svg></body></html>
